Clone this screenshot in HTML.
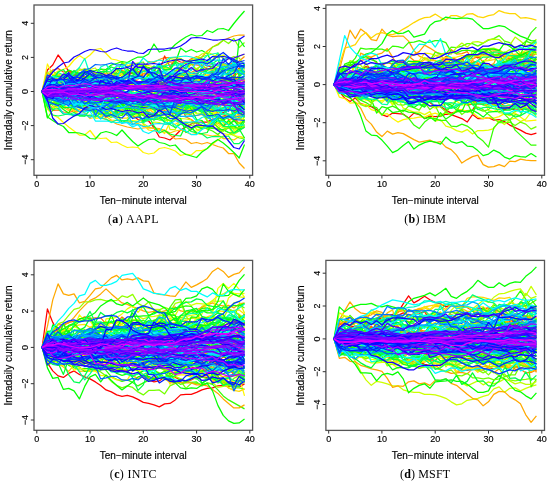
<!DOCTYPE html>
<html><head><meta charset="utf-8"><style>
html,body{margin:0;padding:0;background:#fff;}
svg{display:block;}
.tk{font-family:"Liberation Sans",Arial,sans-serif;font-size:9px;fill:#000;stroke:#000;stroke-width:0.15px;}
.ttl{font-family:"Liberation Sans",Arial,sans-serif;font-size:10px;fill:#000;stroke:#000;stroke-width:0.15px;}
.cap{font-family:"Liberation Serif","Times New Roman",serif;font-size:12px;fill:#000;}
.cv path{fill:none;stroke-width:1.25;stroke-linejoin:round;vector-effect:non-scaling-stroke;}
</style></head><body>
<svg width="550" height="484" viewBox="0 0 550 484">
<rect width="550" height="484" fill="#fff"/>
<g class="cv" transform="translate(36.77 91.50) scale(5.327 0.5)">
<path d="M1 0l1 2 1 3 1-12 1-2 1 8 1 3 1 11 1 0 1 7 1 0 1 1 1-10 1 7 1 2 1 7 1-2 1-12 1 3 1 1 1 3 1-3 1-5 1-3 1-1 1-5 1-1 1 0 1 0 1-4 1 0 1-2 1 2 1-5 1-19 1 0 1 3 1-6 1 9" stroke="#ff1200"/>
<path d="M1 0l1-7 1 19 1 1 1 5 1 3 1 2 1 3 1 11 1-13 1 2 1-5 1-7 1 6 1-9 1 7 1 26 1-5 1-5 1 14 1 4 1 4 1-20 1-7 1-1 1 0 1-13 1 9 1 4 1-5 1 1 1 7 1 5 1 1 1 6 1-9 1 5 1-9 1 4" stroke="#ff0900"/>
<path d="M1 0l1 12 1-1 1-1 1 1 1-5 1 10 1 1 1-11 1 0 1 0 1-5 1-7 1-1 1 2 1 9 1-1 1 3 1 7 1-1 1 1 1-3 1 6 1-7 1 4 1-1 1 0 1 1 1 6 1 2 1 2 1 1 1 3 1 7 1 1 1 1 1 1 1-8 1 0" stroke="#ff2400"/>
<path d="M1 0l1 12 1-11 1 1 1-13 1-7 1-2 1 3 1-4 1-1 1 1 1-6 1-3 1 3 1-4 1-3 1-2 1 0 1-2 1-7 1-15 1 2 1-6 1-4 1 0 1 0 1 2 1 10 1-9 1-5 1 5 1 9 1 2 1 1 1-3 1 3 1-5 1-3 1-9" stroke="#ff9200"/>
<path d="M1 0l1-28 1 2 1 0 1-7 1-2 1 2 1-1 1 11 1 4 1 12 1-1 1-13 1 2 1 0 1-1 1 10 1 0 1 5 1 4 1 9 1-11 1 2 1-5 1-4 1 19 1 1 1-1 1-7 1-4 1 9 1 1 1-7 1-4 1-3 1-6 1-7 1 5 1-6" stroke="#ff1b00"/>
<path d="M1 0l1-43 1-10 1-20 1 14 1 20 1 1 1 5 1 4 1-2 1 10 1 1 1 4 1-3 1 1 1-3 1 1 1-2 1 2 1 12 1-5 1 2 1 5 1-2 1-5 1-1 1-2 1 1 1-3 1 3 1-11 1 5 1 8 1-3 1-12 1 3 1 4 1-4 1 2" stroke="#ff0000"/>
<path d="M1 0l1 14 1-8 1-3 1 4 1-4 1 7 1-1 1-9 1-2 1-4 1 3 1-14 1-3 1-27 1 10 1 4 1-4 1 3 1 3 1 10 1-11 1-8 1-31 1 21 1-14 1 5 1 1 1-7 1 4 1 4 1 6 1 2 1 5 1-1 1-3 1-2 1-2 1 6" stroke="#ff2d00"/>
<path d="M1 0l1-11 1-11 1-3 1 0 1-6 1-2 1 4 1 14 1-6 1 12 1-10 1 4 1-6 1-11 1 12 1 11 1-17 1 1 1-11 1 2 1 6 1-1 1-2 1 8 1-1 1-10 1 13 1 5 1-2 1 3 1-1 1 6 1-3 1 12 1 19 1-8 1-11 1-3" stroke="#ff3f00"/>
<path d="M1 0l1-20 1 3 1-1 1-1 1 4 1-3 1-9 1 11 1 4 1 2 1 4 1-6 1-4 1 14 1-12 1 7 1 0 1-7 1 0 1-7 1 1 1 7 1 1 1 5 1-3 1-2 1 4 1-8 1 0 1-10 1 4 1 7 1-2 1-5 1-3 1 0 1 6 1-4" stroke="#ff9f00"/>
<path d="M1 0l1-3 1-6 1-5 1 4 1-1 1-2 1-12 1-1 1-2 1 4 1 1 1 4 1-6 1-5 1 3 1-8 1-7 1 5 1-3 1-7 1 4 1 7 1 5 1-1 1-3 1 7 1-11 1 5 1-8 1 2 1 9 1 9 1 4 1-10 1 3 1 3 1-10 1-5" stroke="#ffa600"/>
<path d="M1 0l1 23 1 9 1-9 1 1 1-4 1-3 1 5 1-21 1-5 1-1 1 20 1-8 1 1 1-20 1 10 1 4 1 19 1-10 1 13 1-2 1 8 1-24 1-2 1-5 1 43 1-5 1 8 1 0 1-10 1 2 1-2 1 11 1-5 1-25 1 20 1-1 1 14 1-2" stroke="#ffc200"/>
<path d="M1 0l1-4 1 18 1 1 1 6 1-6 1-7 1 1 1 6 1 7 1 6 1-5 1-1 1-5 1 0 1-10 1 0 1-5 1 17 1-3 1-6 1-6 1 6 1 2 1 10 1-8 1 5 1-3 1 1 1 1 1 0 1-5 1-4 1-4 1 5 1-12 1 3 1 2 1 4" stroke="#ff0000"/>
<path d="M1 0l1-5 1-8 1 3 1 3 1 4 1 1 1 1 1 11 1-4 1-1 1-3 1-11 1 1 1-4 1 2 1 3 1-2 1-6 1 4 1 0 1 4 1-3 1-9 1 12 1-1 1-2 1 0 1-1 1 7 1 1 1-2 1 4 1-2 1-12 1-1 1 3 1-4 1 15" stroke="#ff5100"/>
<path d="M1 0l1 1 1-2 1 10 1 3 1 4 1-4 1 1 1 1 1 1 1-4 1 2 1-7 1 0 1-1 1 3 1 3 1-4 1 4 1 0 1 4 1-7 1 1 1-2 1 12 1 8 1 3 1-15 1 10 1-4 1 4 1-4 1-3 1 2 1 2 1 0 1-3 1 0 1 1" stroke="#ffb400"/>
<path d="M1 0l1 12 1 1 1 1 1-1 1 0 1 7 1-4 1 5 1-1 1 3 1-6 1-2 1 7 1-4 1 16 1 14 1-6 1-3 1-1 1-4 1 9 1-1 1-4 1 5 1 1 1-3 1 1 1 5 1 1 1-2 1 0 1 1 1-6 1 3 1 12 1-1 1 8 1-3" stroke="#ff7d00"/>
<path d="M1 0l1-24 1 11 1 4 1 7 1-10 1 1 1-5 1 14 1 14 1 3 1-4 1-7 1 11 1-14 1 2 1-16 1-6 1-11 1 4 1 3 1 16 1 9 1-12 1 5 1-1 1-13 1 4 1 1 1-4 1 8 1 2 1 7 1-22 1 5 1-2 1-13 1-14 1 15" stroke="#ff4800"/>
<path d="M1 0l1 7 1-1 1 4 1 7 1 0 1 6 1 5 1 4 1 0 1 1 1 9 1 1 1 3 1-4 1-1 1 4 1 3 1 8 1 2 1 1 1 13 1 19 1 2 1 4 1-9 1-11 1-6 1-6 1-3 1-1 1 0 1-6 1-1 1-5 1 0 1-6 1 1 1 3" stroke="#ff0000"/>
<path d="M1 0l1-29 1-14 1-3 1 7 1-1 1 0 1-5 1 2 1 0 1 7 1 0 1 3 1 5 1-5 1-10 1 5 1 0 1-2 1 4 1 0 1 1 1 8 1 3 1-10 1-6 1-6 1-2 1-6 1 1 1 1 1 7 1 3 1-3 1 0 1 2 1 4 1 2 1-15" stroke="#ff5a00"/>
<path d="M1 0l1-8 1-5 1 0 1 9 1 2 1 1 1 11 1-12 1 8 1 14 1 15 1 0 1 6 1 8 1-17 1-19 1-15 1 16 1-16 1 2 1 9 1 1 1-17 1-1 1-18 1 21 1-2 1-13 1-4 1 10 1-20 1 25 1 9 1-9 1 20 1 3 1-24 1 4" stroke="#f8ff00"/>
<path d="M1 0l1-21 1 6 1 3 1 4 1 0 1 1 1 5 1-2 1-1 1-7 1-5 1 4 1-5 1 0 1 1 1-4 1 8 1 18 1-5 1 0 1-3 1-2 1-4 1-2 1 1 1 1 1-5 1 4 1 0 1-1 1 12 1-4 1-5 1 16 1 17 1-9 1 0 1 0" stroke="#ff3600"/>
<path d="M1 0l1 18 1-17 1 2 1-1 1 5 1 0 1-2 1 10 1 1 1-5 1 6 1-6 1-7 1 17 1-2 1 10 1-7 1 9 1-2 1 11 1-6 1 1 1 6 1-4 1 3 1-35 1 12 1 12 1 3 1 4 1-20 1 3 1-4 1-11 1-1 1 26 1 10 1 6" stroke="#ffbb00"/>
<path d="M1 0l1 21 1-8 1-3 1-4 1-2 1-10 1 8 1 8 1 1 1-13 1-2 1-11 1 10 1 5 1-2 1-19 1-5 1 6 1 15 1-8 1-2 1-5 1 4 1-16 1-8 1 12 1 2 1-12 1-6 1 3 1-3 1-3 1 3 1-3 1 19 1-2 1-9 1 3" stroke="#ff8b00"/>
<path d="M1 0l1 3 1-2 1-11 1 10 1-2 1 15 1-12 1 8 1-1 1-6 1-4 1 4 1 11 1-3 1 5 1 1 1-5 1-15 1 1 1-3 1-15 1-3 1-3 1-5 1 11 1 3 1-6 1 7 1-6 1-4 1 26 1-7 1 4 1-2 1 11 1 5 1-6 1-8" stroke="#98ff00"/>
<path d="M1 0l1 13 1-1 1 6 1-11 1 3 1 0 1 17 1 8 1 3 1-10 1-6 1 7 1-18 1 1 1 6 1-1 1-4 1-1 1 16 1-14 1 4 1 11 1-2 1-5 1 2 1 7 1 20 1 5 1 8 1 5 1-1 1 1 1-6 1 6 1-6 1-3 1-9 1 10" stroke="#ff7500"/>
<path d="M1 0l1 25 1 13 1-1 1 4 1 1 1-3 1 1 1-2 1 0 1 5 1 2 1 7 1-11 1-1 1-8 1 2 1-7 1 5 1 3 1-8 1 4 1-3 1 1 1 1 1 15 1-28 1-8 1 4 1 0 1 0 1 12 1-3 1 5 1-4 1 7 1 13 1 2 1-6" stroke="#ff6c00"/>
<path d="M1 0l1 11 1-3 1 7 1 1 1 8 1-1 1 1 1 1 1 10 1-2 1-2 1 2 1 4 1-6 1 5 1-4 1 5 1-1 1-6 1 5 1-3 1-4 1-1 1-4 1 2 1 4 1 5 1 5 1-4 1 4 1-1 1 3 1-12 1-5 1 3 1-11 1 1 1-1" stroke="#ff6300"/>
<path d="M1 0l1-14 1 4 1-1 1-6 1 9 1 10 1-2 1 7 1 3 1 5 1-19 1 8 1-1 1 9 1-5 1-1 1 13 1 0 1 4 1 0 1 5 1-1 1 5 1 10 1 1 1-5 1-8 1-6 1 5 1-3 1 6 1-4 1 7 1-1 1-2 1 6 1 37 1-3" stroke="#ff8400"/>
<path d="M1 0l1-37 1 4 1-2 1 4 1 5 1 31 1 2 1-3 1 7 1-6 1 14 1-2 1 5 1 2 1 8 1 0 1 7 1-1 1 3 1-13 1 0 1-9 1 2 1-1 1-3 1 4 1 12 1-5 1 6 1 2 1-7 1-13 1 1 1 7 1-15 1 10 1-17 1 19" stroke="#ffcf00"/>
<path d="M1 0l1 11 1 1 1 6 1 2 1-1 1-2 1 7 1-1 1 3 1-3 1-5 1 4 1-3 1 2 1 0 1 5 1 3 1-1 1-4 1 2 1 3 1 3 1 0 1 2 1 5 1-13 1-3 1 5 1-3 1-1 1-2 1 3 1 3 1 0 1 1 1-3 1-2 1 0" stroke="#ff9900"/>
<path d="M1 0l1 15 1 2 1 1 1 10 1 7 1 4 1 9 1-2 1 3 1 0 1 3 1 4 1 3 1 6 1 3 1 3 1 2 1 2 1-2 1-1 1 1 1 1 1 4 1 9 1 8 1-1 1 2 1 8 1-2 1 3 1-3 1 4 1 4 1 3 1 11 1 0 1 19 1 11" stroke="#ffa800"/>
<path d="M1 0l1 16 1-4 1 0 1-5 1 10 1-9 1 0 1-3 1 7 1 4 1 1 1 4 1 11 1 7 1-2 1 4 1-2 1-5 1-7 1 7 1 8 1 0 1-1 1 4 1-7 1 1 1-5 1 7 1-7 1-4 1 17 1-1 1-7 1 24 1 0 1 11 1-12 1-7" stroke="#fff900"/>
<path d="M1 0l1 11 1-3 1 22 1 1 1 0 1 4 1-3 1-1 1-10 1 6 1 8 1-10 1 7 1-2 1 0 1 7 1 12 1-1 1-5 1 2 1 6 1-2 1-6 1 33 1 0 1-22 1 1 1 2 1 19 1-1 1-9 1-8 1 16 1 10 1 2 1 0 1-7 1-32" stroke="#d5ff00"/>
<path d="M1 0l1 24 1-1 1 1 1 8 1 6 1-3 1 1 1 7 1 11 1-3 1-1 1 0 1 7 1 1 1 0 1 2 1 3 1 1 1 5 1 4 1 1 1 3 1 0 1 6 1-4 1-2 1 4 1 5 1-2 1 2 1 1 1 2 1-2 1 7 1 0 1 3 1-7 1 3" stroke="#ffc900"/>
<path d="M1 0l1-25 1-2 1 1 1-3 1 3 1 2 1-5 1 5 1-2 1-1 1 3 1 0 1 5 1-16 1 5 1 1 1-2 1 0 1-5 1 3 1 4 1 12 1 4 1-13 1 3 1 6 1 7 1-1 1-6 1-13 1-1 1-8 1-5 1-10 1 9 1 2 1 2 1-2" stroke="#ffad00"/>
<path d="M1 0l1-7 1 1 1-4 1 3 1-4 1 1 1-10 1 21 1 1 1-6 1 3 1-20 1-5 1-10 1-2 1-12 1-7 1 1 1 13 1 16 1 16 1-17 1 6 1 12 1 0 1-7 1 5 1 1 1-7 1 2 1-14 1 21 1-3 1-13 1 5 1 1 1-5 1 2" stroke="#ffdd00"/>
<path d="M1 0l1-19 1-1 1 3 1 0 1 10 1 7 1 3 1 8 1-6 1 2 1 5 1 6 1-1 1-9 1 8 1 7 1-1 1 9 1 0 1-11 1-7 1 2 1 2 1 1 1-3 1-4 1-1 1 0 1 8 1 2 1 11 1 1 1 4 1 10 1-1 1 0 1 5 1 9" stroke="#eaff00"/>
<path d="M1 0l1 0 1-5 1-7 1 0 1-6 1-2 1-6 1-3 1-3 1 2 1-3 1-4 1 0 1 1 1-2 1-2 1-4 1 5 1-2 1-7 1 3 1-5 1-3 1-6 1 0 1 4 1-2 1-7 1-1 1-4 1-12 1-8 1-6 1-7 1-5 1-4 1-2 1 0" stroke="#ffa800"/>
<path d="M1 0l1 10 1-5 1 3 1 8 1-6 1 33 1-3 1-6 1 3 1 3 1 4 1 3 1 2 1 3 1 1 1 0 1-11 1 4 1 20 1 11 1 2 1-3 1 8 1-23 1 5 1-8 1 9 1 8 1-6 1 2 1 4 1-1 1-1 1-8 1-4 1-11 1 4 1 7" stroke="#ffe400"/>
<path d="M1 0l1 7 1 5 1-1 1-4 1 1 1-3 1 5 1-1 1 0 1 5 1-16 1 2 1 5 1 8 1-3 1 4 1-42 1 14 1-9 1 9 1 10 1-5 1-4 1-3 1 1 1-4 1 2 1-10 1 14 1-4 1-1 1-4 1 6 1 17 1-11 1 18 1-8 1 4" stroke="#ffd600"/>
<path d="M1 0l1 7 1 11 1 17 1-18 1-9 1 11 1-19 1 24 1-2 1 9 1-6 1-4 1 16 1-19 1 21 1 5 1-15 1 21 1-33 1 0 1 0 1-6 1 7 1 9 1 0 1 7 1-15 1 10 1-1 1 9 1 10 1-6 1 5 1 16 1-1 1 17 1-5 1-6" stroke="#dcff00"/>
<path d="M1 0l1-55 1 22 1-8 1-3 1-6 1-13 1-9 1 7 1-8 1-11 1-2 1 10 1 11 1 2 1 4 1 6 1 6 1-5 1 1 1-1 1 3 1 2 1 0 1 0 1 6 1-1 1 3 1 2 1 0 1-9 1 4 1-3 1 7 1-1 1-6 1 0 1 1 1-3" stroke="#fff500"/>
<path d="M1 0l1 11 1 6 1-1 1 8 1-1 1 12 1 5 1 0 1-2 1 0 1 0 1-2 1 4 1 5 1-1 1 3 1-1 1-11 1 5 1 6 1 11 1-6 1 1 1 7 1-4 1 7 1-1 1 2 1-1 1 5 1 8 1 4 1 7 1-10 1-6 1 0 1 4 1-2" stroke="#45ff00"/>
<path d="M1 0l1-1 1 1 1 6 1-8 1-14 1 7 1 1 1-7 1-2 1 10 1-4 1-6 1 6 1-10 1-8 1-12 1-2 1-4 1-3 1 2 1 7 1-14 1 13 1-2 1-13 1-30 1 8 1-5 1 5 1-3 1 6 1 21 1 23 1-14 1 24 1 1 1 1 1 6" stroke="#08ff00"/>
<path d="M1 0l1-15 1 16 1-26 1-8 1-2 1-4 1 5 1-6 1-5 1 15 1 4 1 12 1 4 1-10 1-9 1-16 1 9 1-13 1-3 1 8 1 30 1-7 1 9 1 3 1 3 1 5 1 20 1-6 1-5 1-11 1 0 1-12 1 6 1 6 1 12 1-26 1 10 1-1" stroke="#23ff00"/>
<path d="M1 0l1 9 1-13 1-2 1-4 1 4 1 7 1 12 1-2 1-4 1 4 1-2 1 0 1-2 1-3 1 1 1-1 1 2 1 3 1-22 1-8 1 6 1-9 1-5 1 13 1 19 1-1 1-15 1 1 1 4 1-2 1 4 1 8 1-8 1-1 1-1 1-9 1 7 1-1" stroke="#acff00"/>
<path d="M1 0l1 35 1 12 1 5 1 10 1 9 1 8 1 8 1 0 1-9 1 14 1 2 1-1 1 9 1-1 1 6 1 5 1-1 1 1 1 10 1 3 1-2 1-9 1-2 1 3 1 4 1 9 1-3 1 2 1-9 1 0 1-4 1-9 1-8 1-8 1-3 1-5 1-5 1-9" stroke="#fff500"/>
<path d="M1 0l1 3 1 0 1 23 1 10 1 7 1-19 1 6 1-2 1 4 1 8 1 6 1-1 1-9 1-7 1-16 1-2 1-1 1-8 1-13 1-5 1-1 1-4 1 25 1-22 1 2 1-1 1 8 1-5 1 8 1-5 1 5 1-2 1-12 1-2 1-1 1 11 1-15 1-3" stroke="#0fff00"/>
<path d="M1 0l1-12 1 1 1-5 1 1 1-1 1 4 1 8 1 1 1 3 1 0 1 0 1-7 1 3 1-4 1 2 1-1 1 1 1-2 1-1 1-9 1-3 1 5 1 5 1-11 1-5 1-2 1-6 1 1 1 1 1 0 1 2 1 8 1 10 1 9 1-4 1 1 1-5 1 6" stroke="#fff200"/>
<path d="M1 0l1-10 1-3 1 3 1 1 1 15 1-11 1-16 1-4 1 5 1-4 1 0 1 5 1-5 1 3 1 9 1-4 1 13 1-5 1-11 1-10 1 0 1-3 1-1 1-5 1 2 1 9 1 21 1 10 1-8 1-2 1 30 1-14 1 0 1-5 1-8 1 6 1-9 1 7" stroke="#b3ff00"/>
<path d="M1 0l1 5 1-9 1 5 1-1 1 6 1 1 1 1 1 0 1 1 1 14 1 5 1-3 1 17 1 9 1-4 1-4 1 3 1-4 1 22 1 7 1-10 1 1 1 4 1-1 1-9 1 3 1 6 1 15 1-1 1-3 1-7 1-5 1-3 1 8 1 5 1-1 1 1 1-9" stroke="#c8ff00"/>
<path d="M1 0l1-15 1-17 1 0 1 3 1 1 1 0 1 8 1 6 1 3 1 7 1-11 1 0 1 6 1 2 1 6 1 4 1 6 1-2 1 5 1 1 1 23 1-4 1 1 1 4 1 17 1-19 1-12 1-2 1-5 1 3 1-5 1 13 1-7 1-4 1-4 1 9 1-1 1-3" stroke="#61ff00"/>
<path d="M1 0l1 9 1-8 1 4 1 7 1 4 1 5 1 2 1-7 1 9 1-2 1 9 1 15 1 5 1-7 1 3 1-20 1 18 1-3 1 5 1 6 1-5 1-3 1-6 1 8 1-1 1-10 1-2 1 2 1-1 1 6 1-11 1-11 1 3 1-4 1-2 1-1 1 7 1 10" stroke="#15ff00"/>
<path d="M1 0l1-12 1 12 1 13 1 2 1-26 1-2 1-6 1 1 1-3 1 3 1-2 1 0 1 13 1 7 1-13 1 4 1 11 1 0 1 3 1-9 1 9 1 7 1-20 1-5 1-16 1 2 1 2 1 6 1 1 1 27 1-3 1 20 1 2 1-15 1 25 1-19 1-9 1 9" stroke="#ffeb00"/>
<path d="M1 0l1-17 1 22 1-7 1 6 1 18 1-16 1-2 1-11 1 2 1 1 1-29 1 7 1-5 1-13 1 11 1 7 1 5 1 11 1-3 1 13 1-2 1 5 1-11 1 1 1 9 1 20 1-24 1 13 1-16 1 7 1 9 1-7 1 10 1-2 1 10 1 8 1 13 1-4" stroke="#e3ff00"/>
<path d="M1 0l1 16 1-2 1 3 1-5 1 2 1-3 1 3 1-2 1 4 1 10 1 1 1-4 1-8 1-4 1 5 1-2 1-4 1 5 1-13 1 12 1-3 1 5 1-1 1 3 1 4 1-6 1 4 1-2 1 0 1 5 1 0 1-6 1 2 1 4 1-6 1 0 1-4 1 14" stroke="#5aff00"/>
<path d="M1 0l1 30 1 6 1-12 1 5 1-8 1-2 1 4 1 4 1-8 1 5 1-2 1-1 1-6 1 1 1 7 1 4 1-2 1-2 1-3 1 1 1 0 1 2 1 3 1-4 1 4 1 2 1 2 1 7 1-4 1 5 1 15 1-5 1-1 1 4 1-3 1 11 1 4 1 7" stroke="#68ff00"/>
<path d="M1 0l1 3 1-4 1 2 1 1 1 9 1 5 1 1 1-2 1 4 1-7 1 4 1 4 1 6 1 15 1-2 1 4 1 9 1-2 1-5 1 12 1-3 1 3 1 0 1 0 1 16 1-9 1-1 1 5 1 3 1 1 1 1 1-1 1 4 1 1 1 5 1 6 1 5 1 2" stroke="#75ff00"/>
<path d="M1 0l1 21 1 6 1-3 1-3 1-7 1 0 1-22 1-8 1 6 1-20 1-4 1 14 1-13 1 16 1-4 1 5 1-5 1 10 1-14 1 0 1-2 1-20 1 0 1-19 1 3 1-3 1 7 1 3 1 13 1-12 1-5 1-3 1-14 1 11 1 1 1-5 1 3 1 15" stroke="#8aff00"/>
<path d="M1 0l1 53 1-16 1-9 1-5 1-4 1 2 1-4 1-2 1 0 1 2 1 3 1 2 1 0 1 4 1 5 1 3 1-2 1-3 1 2 1-1 1 7 1-1 1-3 1-8 1 8 1-3 1 3 1-4 1 3 1 0 1-1 1 0 1 4 1 3 1-3 1 1 1 8 1-3" stroke="#33ff00"/>
<path d="M1 0l1 31 1-9 1 3 1-6 1-1 1 16 1-16 1 4 1 0 1 1 1-6 1 3 1 2 1-8 1 4 1-6 1 2 1 8 1-9 1 3 1 0 1 20 1-1 1-4 1 9 1 5 1-3 1-6 1-3 1 3 1 3 1 6 1 7 1 4 1 11 1-9 1 12 1-14" stroke="#00ff0d"/>
<path d="M1 0l1-6 1 8 1-3 1-10 1 8 1 0 1 9 1 9 1-10 1 2 1 3 1 6 1-3 1-8 1-2 1 0 1 11 1-1 1-9 1 6 1-3 1-3 1 5 1-9 1-13 1 14 1 32 1-1 1 5 1 1 1-10 1 3 1-8 1-3 1 6 1 24 1-16 1 0" stroke="#00ff44"/>
<path d="M1 0l1 15 1 12 1-13 1 14 1-9 1 4 1-11 1 2 1 7 1-8 1 13 1 7 1 0 1-20 1 3 1 3 1 7 1 0 1 10 1 6 1 5 1-34 1 5 1-3 1 6 1-11 1 1 1 11 1 2 1 9 1 26 1 3 1 9 1 8 1-6 1-3 1 6 1-5" stroke="#53ff00"/>
<path d="M1 0l1 8 1-8 1-9 1 9 1-10 1 6 1 2 1 4 1-4 1-2 1 1 1-4 1 1 1-11 1 7 1 5 1 3 1-9 1-6 1-6 1-26 1-1 1 2 1 2 1 5 1-9 1-9 1-4 1-1 1-5 1-4 1-16 1-4 1-10 1 7 1-10 1 18 1-10" stroke="#7cff00"/>
<path d="M1 0l1-38 1-3 1 8 1 6 1-5 1-4 1-6 1-4 1 8 1 1 1-3 1 11 1 17 1 6 1-8 1 8 1-4 1-2 1-6 1 5 1 1 1-8 1 7 1-13 1 4 1-1 1-4 1-18 1-1 1-5 1 4 1 4 1-7 1-5 1 6 1 7 1-11 1 9" stroke="#a5ff00"/>
<path d="M1 0l1 6 1 2 1 3 1-6 1-3 1-4 1-8 1-12 1 42 1-9 1 12 1 19 1-14 1 6 1-10 1 0 1-5 1-9 1 3 1 6 1-9 1 15 1 1 1-5 1-2 1-14 1 5 1-9 1-2 1-1 1 6 1-17 1-8 1 15 1 20 1-11 1 39 1 7" stroke="#38ff00"/>
<path d="M1 0l1 12 1-8 1-2 1 5 1-17 1 5 1 1 1 1 1 2 1 0 1 4 1-2 1 8 1 3 1 7 1 1 1-1 1-1 1 0 1-6 1 4 1 1 1-7 1-3 1 1 1 4 1-1 1 8 1 7 1 8 1 2 1-1 1 0 1-3 1-1 1 5 1 3 1-7" stroke="#83ff00"/>
<path d="M1 0l1 10 1 1 1 6 1 4 1-1 1 0 1-1 1 2 1-2 1-6 1-3 1-5 1 3 1 5 1-6 1 4 1 3 1-6 1 2 1 0 1-7 1-6 1-3 1 3 1 6 1-4 1-4 1 2 1 4 1-7 1-1 1-10 1-8 1-1 1-5 1 10 1 6 1-6" stroke="#c1ff00"/>
<path d="M1 0l1 14 1-12 1-3 1 6 1 0 1-1 1-7 1 13 1 20 1 24 1-1 1-22 1 20 1 1 1 10 1-1 1-3 1 1 1-5 1-4 1 5 1-4 1-4 1 3 1 5 1-8 1-8 1-5 1 11 1 1 1 4 1-11 1 28 1 6 1-2 1 17 1 2 1 2" stroke="#f1ff00"/>
<path d="M1 0l1 13 1-4 1 1 1-6 1-2 1 5 1-1 1-3 1-2 1-5 1 5 1 4 1-10 1 9 1 7 1 2 1-1 1-4 1 3 1 7 1 4 1 3 1-2 1 5 1 7 1 0 1-7 1 4 1 2 1 4 1 1 1-1 1 2 1-7 1-6 1-6 1-3 1 3" stroke="#2aff00"/>
<path d="M1 0l1-2 1 9 1-5 1 2 1 8 1-11 1-16 1 2 1-3 1 2 1-8 1 5 1-8 1-2 1 3 1-4 1 4 1-7 1 1 1 9 1 2 1 0 1-25 1 0 1-15 1 23 1 7 1-1 1-2 1 4 1 6 1 3 1 0 1-14 1-3 1 9 1-2 1-12" stroke="#00ff2f"/>
<path d="M1 0l1-23 1-1 1 4 1 0 1-9 1-9 1-7 1 8 1-7 1-3 1 16 1 2 1-8 1 4 1-2 1 17 1 0 1 1 1 5 1 3 1-8 1-2 1 5 1 2 1-16 1 4 1-4 1-34 1-5 1-8 1-4 1 5 1 7 1-6 1 7 1 4 1-9 1-3" stroke="#cfff00"/>
<path d="M1 0l1-1 1 2 1 11 1-18 1 0 1 17 1-3 1 2 1-1 1 15 1 0 1-7 1-4 1-3 1-2 1 4 1-6 1 9 1-1 1-1 1-2 1 4 1 1 1-5 1-1 1 15 1 1 1-3 1-3 1-3 1 0 1 0 1-3 1-4 1 11 1 9 1-29 1 14" stroke="#4cff00"/>
<path d="M1 0l1-18 1 3 1-6 1 25 1 1 1-4 1 0 1 11 1-9 1 3 1 21 1 5 1-5 1 12 1-9 1-7 1-14 1 1 1-1 1-2 1 0 1-3 1-2 1 18 1 9 1 5 1 5 1-5 1-26 1 4 1-4 1-1 1 3 1-14 1-10 1 8 1 9 1 5" stroke="#baff00"/>
<path d="M1 0l1 19 1 4 1-10 1 8 1-5 1-9 1-26 1-10 1 3 1-8 1-11 1 5 1 15 1-13 1-20 1 10 1-6 1-3 1-2 1 17 1 10 1-10 1 15 1-2 1-2 1-5 1 1 1 4 1 3 1 0 1 0 1-3 1 14 1 4 1-14 1-24 1 1 1 16" stroke="#6fff00"/>
<path d="M1 0l1-20 1-9 1-1 1 0 1 4 1-7 1-4 1 0 1 11 1-2 1-2 1 11 1 5 1 9 1 2 1-8 1 8 1-8 1-11 1 3 1 18 1 0 1-3 1-5 1-10 1 10 1 2 1 1 1-6 1-13 1 0 1 0 1 37 1 12 1-19 1-1 1-1 1 2" stroke="#00ff28"/>
<path d="M1 0l1-17 1 7 1-8 1-1 1 1 1 4 1 4 1 0 1-1 1-3 1 0 1-1 1 0 1-4 1-3 1 8 1-1 1 2 1-8 1-2 1-2 1 19 1-10 1 3 1 3 1 11 1 4 1 0 1-10 1 4 1-4 1-6 1 2 1 3 1-1 1-8 1-1 1-3" stroke="#9fff00"/>
<path d="M1 0l1 35 1-1 1-4 1-9 1-2 1-14 1 7 1-2 1-10 1-8 1 2 1 4 1 11 1-7 1 3 1 9 1 4 1-14 1-21 1 7 1 6 1-6 1-4 1-2 1-1 1 4 1-4 1-5 1-1 1 5 1-6 1-12 1 16 1 10 1-3 1-5 1 16 1-10" stroke="#ffff00"/>
<path d="M1 0l1 10 1 2 1 0 1 1 1-14 1-6 1 24 1 6 1-2 1-10 1 11 1 2 1 5 1 0 1-2 1 9 1-5 1 4 1-34 1 10 1 5 1-2 1 11 1 5 1-1 1 2 1-10 1 15 1 20 1 2 1 14 1-5 1-9 1-1 1-5 1-9 1-3 1 12" stroke="#00ff06"/>
<path d="M1 0l1 13 1-5 1-19 1 13 1-13 1-4 1 27 1-4 1-3 1-12 1 8 1 2 1 2 1 17 1 8 1 3 1 0 1-19 1 2 1 4 1-16 1-2 1 0 1 9 1 1 1-14 1 11 1-12 1 3 1 5 1 4 1-30 1-1 1 4 1-16 1 23 1-15 1 1" stroke="#01ff00"/>
<path d="M1 0l1-13 1-4 1-5 1-11 1-10 1 4 1 2 1-1 1-2 1-2 1-3 1 1 1-9 1-3 1-4 1 2 1-6 1-5 1 0 1-6 1-20 1 16 1-3 1-1 1-11 1-8 1-7 1-5 1 3 1-1 1-10 1 4 1-7 1-1 1 4 1-14 1-13 1-12" stroke="#05ff00"/>
<path d="M1 0l1 25 1 11 1-2 1 11 1 1 1-4 1 7 1 0 1-12 1 5 1-4 1 1 1 9 1-10 1 5 1-2 1 2 1 1 1 18 1-9 1 4 1-3 1 6 1 6 1 6 1-7 1 5 1 10 1 3 1 2 1 8 1-3 1 0 1 1 1-2 1 15 1 0 1-9" stroke="#00ff5f"/>
<path d="M1 0l1 7 1-1 1 15 1 11 1 0 1 0 1-23 1 18 1-3 1-5 1-1 1-2 1 12 1 13 1-14 1 18 1 2 1-4 1 16 1-10 1 20 1 14 1-5 1 7 1 3 1 1 1-22 1 5 1 11 1 1 1-2 1-23 1-2 1 12 1-11 1 10 1 9 1-17" stroke="#00ff21"/>
<path d="M1 0l1-4 1 17 1-3 1-4 1-12 1-12 1 0 1 18 1 3 1-5 1 13 1-5 1 7 1-7 1 1 1-5 1-8 1-8 1 1 1 4 1 1 1-2 1-11 1 0 1-1 1 12 1-2 1 4 1 13 1 3 1-6 1-2 1 2 1-2 1 6 1-19 1 19 1 3" stroke="#3fff00"/>
<path d="M1 0l1 9 1 6 1-6 1 7 1-1 1 1 1 6 1-3 1-18 1 6 1-1 1 2 1-7 1 16 1 2 1 10 1 8 1 2 1-4 1 10 1 1 1 3 1 6 1-7 1 4 1 2 1 28 1-6 1-7 1 6 1-4 1 3 1 1 1 1 1 6 1 1 1-8 1 18" stroke="#00ff1b"/>
<path d="M1 0l1 8 1 6 1 9 1-2 1-15 1-2 1 9 1 0 1-5 1-3 1 5 1 11 1-8 1 3 1 3 1 2 1 0 1-6 1-1 1-1 1 10 1-5 1-6 1 4 1 5 1-1 1 1 1-3 1-6 1 2 1 4 1-1 1-7 1 13 1-6 1-6 1-8 1-2" stroke="#00ff77"/>
<path d="M1 0l1-3 1 10 1 0 1 2 1 1 1 8 1 11 1-7 1 0 1-4 1 3 1 2 1-5 1-2 1 3 1 3 1-7 1-2 1-2 1 3 1 1 1 2 1 4 1-4 1 6 1-2 1 10 1-5 1 5 1-5 1 1 1 6 1 2 1-2 1-2 1-10 1-2 1 4" stroke="#00ff66"/>
<path d="M1 0l1 1 1-4 1 1 1-1 1-1 1 3 1 5 1 2 1 0 1 6 1-8 1-5 1-3 1 2 1-2 1 15 1-2 1 2 1 0 1 9 1 10 1-5 1-6 1 2 1-4 1 3 1-1 1 5 1 3 1-1 1-8 1-1 1 15 1 2 1-4 1 14 1-1 1-7" stroke="#00ffaa"/>
<path d="M1 0l1-6 1 15 1-22 1 1 1-8 1-2 1 10 1 9 1-5 1-6 1 9 1-5 1 4 1 12 1 4 1-10 1-2 1-10 1-11 1-10 1 3 1 4 1 21 1 0 1-11 1 20 1 1 1-2 1 8 1 0 1 1 1 6 1 4 1-6 1-6 1-13 1 23 1 2" stroke="#1cff00"/>
<path d="M1 0l1 7 1 3 1 12 1-10 1 5 1-7 1 0 1-3 1-10 1 11 1-12 1 1 1 5 1-2 1-8 1 25 1-3 1-4 1-1 1 11 1 3 1-20 1-30 1 17 1 15 1 7 1 5 1-5 1-23 1 5 1 8 1 11 1 1 1-36 1 6 1-3 1 22 1-18" stroke="#31ff00"/>
<path d="M1 0l1 10 1-9 1 4 1 4 1-12 1 21 1 9 1 1 1-9 1 24 1-5 1-25 1-6 1-14 1 31 1 10 1-3 1 12 1-17 1 1 1-11 1 0 1-10 1-7 1 2 1-8 1 14 1-1 1-13 1 10 1 2 1 15 1-11 1-15 1 1 1-2 1-98 1 16" stroke="#00ff14"/>
<path d="M1 0l1-14 1 31 1-5 1 6 1 3 1 4 1-10 1 9 1 10 1 8 1 5 1-8 1-8 1-4 1 7 1-3 1-12 1-6 1-16 1 9 1 6 1-1 1 4 1 7 1 0 1-11 1 5 1 17 1 10 1 1 1 14 1 11 1 9 1 1 1-8 1 4 1-3 1-1" stroke="#91ff00"/>
<path d="M1 0l1 1 1-2 1 9 1 0 1-35 1-10 1-11 1-18 1 32 1 8 1-23 1-5 1 13 1-10 1 0 1 13 1-3 1 11 1 7 1-3 1-21 1-5 1 1 1-2 1 0 1-1 1-5 1 3 1-4 1-2 1-10 1-3 1-2 1 44 1-3 1-14 1-1 1-2" stroke="#00ffc3"/>
<path d="M1 0l1 13 1-2 1 5 1-9 1-4 1-4 1 3 1 0 1 8 1 3 1-9 1 5 1-2 1 3 1-7 1 3 1 0 1 0 1 6 1 1 1-1 1 4 1-5 1 3 1 0 1 2 1 0 1-4 1 8 1 3 1-1 1 1 1-4 1-4 1-5 1 1 1 1 1 4" stroke="#00ff6e"/>
<path d="M1 0l1 7 1-11 1 4 1 3 1 1 1 9 1-7 1 5 1 1 1 9 1 15 1-3 1-6 1-11 1-4 1 16 1-2 1-3 1 3 1 0 1-1 1 4 1-9 1-6 1 5 1-21 1 6 1 11 1 0 1-2 1 6 1-8 1 4 1-4 1-8 1-2 1 2 1-7" stroke="#00ff36"/>
<path d="M1 0l1-4 1-13 1-6 1 8 1-7 1-6 1-8 1-8 1-2 1-8 1 1 1-1 1-3 1 4 1-1 1 5 1-3 1 4 1-1 1 10 1 2 1-6 1 6 1 5 1-5 1-6 1 1 1 6 1 1 1-8 1 6 1 0 1 1 1-8 1 1 1 0 1 2 1 1" stroke="#0067ff"/>
<path d="M1 0l1 29 1-13 1 6 1 7 1-6 1 4 1 6 1 2 1 0 1 11 1 8 1 1 1 7 1-5 1 1 1 0 1 2 1 1 1 1 1-5 1-2 1-6 1-3 1-3 1-5 1 2 1 5 1-2 1-5 1-8 1 2 1 1 1 0 1 5 1 8 1 0 1-5 1 1" stroke="#00ff7f"/>
<path d="M1 0l1 51 1 7 1 7 1 5 1 12 1 0 1 1 1 3 1 8 1 1 1-12 1-3 1 3 1 5 1-11 1 12 1 11 1 9 1-7 1-6 1-1 1 7 1 2 1 5 1-2 1 12 1 7 1 3 1 3 1-11 1-7 1-11 1-7 1 7 1 9 1 10 1 11 1-27" stroke="#05ff00"/>
<path d="M1 0l1 6 1-6 1 5 1 4 1 7 1-15 1 4 1-7 1 1 1 0 1 11 1-6 1 4 1-3 1 5 1 12 1 10 1-14 1 3 1-15 1 3 1-2 1-1 1 4 1-6 1-3 1 3 1 4 1-15 1 13 1 0 1 4 1 3 1 11 1-2 1-11 1 4 1-2" stroke="#00ffcb"/>
<path d="M1 0l1 23 1 2 1 4 1 15 1 2 1 0 1-1 1 0 1 7 1-8 1 11 1-11 1 4 1 7 1 9 1-3 1 6 1-1 1 4 1-1 1-4 1-1 1 1 1 0 1-7 1 5 1-1 1-1 1-1 1 3 1 5 1 0 1-18 1 2 1 1 1-6 1-7 1-12" stroke="#00d6ff"/>
<path d="M1 0l1 1 1 0 1 3 1 6 1-5 1-11 1-1 1 3 1 4 1-3 1-4 1-2 1-1 1 4 1 11 1-5 1 2 1 11 1-5 1 5 1 7 1 3 1-2 1 2 1-4 1 6 1-5 1 8 1 2 1 0 1 0 1-3 1 9 1-13 1-8 1 3 1 4 1 4" stroke="#00efff"/>
<path d="M1 0l1-8 1 0 1 2 1 5 1 8 1 3 1-7 1-3 1-8 1 2 1-7 1 4 1 4 1 10 1 5 1 0 1-8 1 2 1 3 1 4 1 2 1-10 1 5 1 11 1-4 1-14 1 11 1 9 1-4 1 24 1-13 1-1 1 13 1-2 1-13 1 9 1-10 1-8" stroke="#00ffba"/>
<path d="M1 0l1-16 1-1 1-1 1-4 1 0 1-1 1 0 1-14 1 7 1 2 1-12 1 0 1 1 1 4 1-4 1 7 1 0 1-6 1 17 1 3 1-5 1-8 1 2 1 8 1-3 1-1 1 2 1-2 1 0 1-13 1-4 1-9 1 9 1 3 1-4 1 1 1-1 1 5" stroke="#00ff51"/>
<path d="M1 0l1 1 1-2 1 7 1-1 1-8 1 3 1-4 1 12 1-4 1-12 1 0 1 7 1-3 1-2 1 12 1-4 1-7 1 4 1 6 1-6 1-39 1 1 1 1 1 3 1-2 1 2 1-15 1-9 1 4 1-1 1 5 1-3 1 2 1-6 1 5 1-1 1-2 1-2" stroke="#00c5ff"/>
<path d="M1 0l1 6 1 0 1-3 1 0 1 3 1 6 1 1 1-6 1 8 1-3 1 0 1 6 1-2 1 2 1-7 1-5 1 2 1-4 1 0 1-2 1 7 1 6 1-21 1 11 1 2 1 1 1-10 1 1 1-4 1 0 1 9 1-10 1 6 1-3 1-10 1 5 1-5 1-2" stroke="#00a7ff"/>
<path d="M1 0l1-19 1-1 1-18 1 5 1-1 1 9 1 11 1-5 1 1 1 5 1 4 1 7 1-1 1 8 1 17 1-5 1 5 1 7 1-4 1-10 1 2 1-2 1-9 1 7 1-10 1-1 1 3 1-2 1 11 1 12 1 7 1 18 1-3 1-3 1-8 1-2 1-2 1-4" stroke="#00ff90"/>
<path d="M1 0l1-20 1-4 1-15 1-5 1 16 1-14 1 11 1-8 1 17 1-8 1-4 1-7 1-8 1 4 1 5 1 2 1 11 1-3 1 0 1 8 1 2 1-29 1 30 1-2 1-9 1 9 1 1 1 5 1-16 1-18 1 11 1-2 1 21 1 11 1-35 1-16 1 28 1-24" stroke="#00ff3d"/>
<path d="M1 0l1-9 1 8 1-6 1 7 1 4 1-3 1-27 1-2 1 0 1 9 1-11 1 3 1 1 1 0 1 1 1-4 1-3 1-12 1 4 1-3 1-8 1 4 1-4 1 5 1-14 1 7 1 8 1-16 1-1 1 1 1 2 1 3 1-7 1 20 1-11 1 3 1 14 1-4" stroke="#00ff4b"/>
<path d="M1 0l1 20 1 4 1 4 1-5 1-10 1 2 1-2 1 5 1-3 1 3 1-5 1 0 1 9 1 4 1-3 1 2 1 5 1 1 1 1 1 1 1-1 1 8 1-7 1-1 1-7 1-2 1-12 1 7 1-2 1 4 1 0 1-7 1 5 1 7 1-7 1 5 1 21 1 3" stroke="#0041ff"/>
<path d="M1 0l1-13 1-6 1 7 1-1 1 8 1-2 1-13 1 4 1 6 1-8 1-3 1 15 1-2 1 1 1-11 1-5 1 3 1-10 1-18 1 11 1-8 1-12 1 20 1 2 1-10 1-11 1 6 1 8 1-18 1 12 1-15 1 0 1 0 1 1 1-7 1 16 1 0 1 7" stroke="#00deff"/>
<path d="M1 0l1 10 1-3 1 2 1 5 1-11 1 1 1 13 1 1 1-7 1-2 1-1 1 6 1-6 1-2 1-6 1 3 1-1 1 0 1-3 1-1 1-9 1 10 1 1 1 2 1-7 1 10 1 10 1 4 1 2 1 8 1-2 1 7 1 5 1 6 1 0 1 8 1 2 1-7" stroke="#00ffb2"/>
<path d="M1 0l1-1 1-1 1-4 1-1 1-1 1 0 1-1 1 8 1-5 1 0 1-4 1-2 1 8 1-3 1 1 1-10 1-1 1 1 1-2 1 1 1 0 1-3 1-4 1 6 1-3 1 0 1 2 1-1 1-1 1 2 1 1 1 4 1 1 1-4 1-1 1 0 1 3 1 4" stroke="#005bff"/>
<path d="M1 0l1 6 1-1 1 0 1 5 1-6 1 0 1 13 1-2 1 2 1 6 1 0 1-6 1 1 1 2 1 10 1 15 1-3 1-3 1-2 1-4 1-4 1 1 1-7 1 5 1-6 1-15 1-2 1 10 1 4 1-4 1 0 1 1 1-6 1 2 1-13 1 10 1-11 1-7" stroke="#00ffd4"/>
<path d="M1 0l1-10 1-1 1-5 1 5 1-12 1 5 1 15 1-13 1-4 1 0 1 11 1 4 1-2 1-25 1 7 1-4 1-1 1-3 1-7 1 0 1 13 1-12 1 15 1-12 1 3 1 0 1-1 1 2 1 0 1 0 1-6 1-3 1 1 1-11 1 2 1 12 1-4 1 4" stroke="#00ff99"/>
<path d="M1 0l1-16 1 6 1 3 1 5 1-10 1 1 1 6 1-9 1-4 1 4 1 5 1 4 1-3 1 9 1-2 1 3 1-4 1-3 1-6 1-3 1 0 1 3 1 1 1-6 1-4 1-2 1 1 1 4 1 3 1-8 1-4 1-1 1 4 1-4 1-2 1 8 1-3 1-8" stroke="#008eff"/>
<path d="M1 0l1-7 1 9 1 10 1-17 1 9 1-13 1 9 1 1 1-15 1 10 1-8 1-3 1 3 1 4 1 0 1-3 1 18 1-3 1 4 1-5 1 3 1-4 1-8 1-9 1 3 1-7 1 3 1-4 1 9 1-7 1-7 1 6 1 2 1 13 1 3 1 15 1-1 1-4" stroke="#00ff88"/>
<path d="M1 0l1-3 1 18 1 3 1 0 1 6 1-3 1-12 1 0 1 9 1 30 1-18 1-3 1 5 1-11 1-1 1 3 1-5 1-2 1-6 1 10 1-1 1 4 1 2 1-1 1-10 1 3 1 7 1-6 1 5 1 6 1 10 1-12 1-2 1-8 1-1 1 1 1-7 1-6" stroke="#0074ff"/>
<path d="M1 0l1 11 1 3 1 5 1 8 1-4 1-3 1 6 1 0 1 0 1 2 1 0 1-3 1 9 1 0 1 0 1-8 1-3 1 0 1-5 1 10 1 0 1 6 1-5 1 6 1 7 1 7 1 2 1-4 1 12 1-7 1-3 1 3 1 7 1 1 1 7 1 1 1-1 1 0" stroke="#00ffe5"/>
<path d="M1 0l1-24 1-6 1 3 1-3 1 1 1 0 1 0 1 8 1-6 1-2 1-2 1 4 1-2 1 3 1-23 1-8 1 0 1 4 1-14 1 9 1-2 1-3 1 3 1-8 1-1 1-1 1-1 1 2 1 3 1 10 1 1 1-4 1 7 1 4 1 4 1-13 1 3 1 4" stroke="#00ffdc"/>
<path d="M1 0l1 1 1 4 1 11 1 2 1 2 1 4 1 7 1 3 1-1 1-11 1 0 1 3 1 9 1-7 1-16 1 3 1-4 1 5 1 5 1-2 1-6 1 3 1-7 1 6 1-9 1 4 1-1 1 5 1 6 1-3 1 5 1 2 1-3 1 3 1-8 1 2 1-5 1 3" stroke="#006eff"/>
<path d="M1 0l1 31 1 16 1 2 1-2 1-3 1 5 1-2 1 2 1-2 1 4 1-7 1 0 1 3 1-5 1 20 1-5 1-10 1-12 1-12 1 5 1 8 1 14 1 12 1 3 1-17 1-3 1-9 1-7 1 6 1 4 1 4 1 19 1-8 1 16 1 0 1 13 1-4 1-8" stroke="#00ff58"/>
<path d="M1 0l1-8 1 3 1 7 1 16 1 12 1 2 1 8 1 1 1-7 1-1 1 10 1-10 1 5 1 10 1-8 1 4 1 22 1-6 1-7 1 2 1-2 1-4 1-4 1-7 1 3 1 2 1-22 1 6 1-17 1-8 1 1 1-3 1 2 1-20 1-1 1 6 1-7 1 10" stroke="#00cdff"/>
<path d="M1 0l1 16 1-6 1 1 1 9 1 5 1-1 1 1 1-8 1 2 1 3 1 9 1-3 1-4 1 3 1-12 1-3 1 8 1-7 1 3 1-4 1 7 1-2 1 9 1-2 1-1 1-11 1 2 1-2 1-15 1-12 1-1 1-16 1-14 1-3 1-2 1-3 1 3 1 13" stroke="#00b4ff"/>
<path d="M1 0l1-24 1 2 1-1 1-1 1 1 1 2 1 6 1-10 1 5 1 1 1-4 1 2 1-1 1 10 1-9 1-1 1 0 1 7 1-6 1 2 1-8 1-1 1 4 1-1 1 2 1 2 1 3 1-10 1 0 1-2 1 0 1-2 1-5 1 0 1 1 1-11 1-6 1 1" stroke="#00bdff"/>
<path d="M1 0l1-10 1 1 1 3 1-2 1 4 1-6 1-3 1-6 1-1 1 8 1-9 1-2 1 9 1-5 1-2 1-9 1-1 1 4 1 3 1 3 1-3 1 0 1 1 1-2 1 0 1 25 1-2 1-1 1-1 1-3 1 3 1-4 1 0 1-5 1 3 1-4 1-7 1-5" stroke="#007aff"/>
<path d="M1 0l1 2 1 9 1-3 1 4 1 7 1 9 1-10 1 23 1-2 1 20 1 0 1 0 1 2 1 1 1 0 1 1 1 8 1-5 1 14 1 4 1-6 1 3 1-18 1-1 1 5 1 8 1 4 1 7 1 0 1-10 1-6 1-10 1-10 1-13 1-10 1-10 1-1 1 10" stroke="#00f8ff"/>
<path d="M1 0l1-3 1-8 1 2 1-6 1 2 1 5 1-6 1 12 1 1 1-6 1-8 1 1 1 10 1 7 1 9 1 7 1-8 1-4 1 3 1-1 1 1 1-7 1-1 1 3 1 9 1 1 1 5 1-17 1 10 1 1 1-4 1 1 1 0 1 0 1 7 1-1 1-9 1-11" stroke="#00ffa1"/>
<path d="M1 0l1 7 1 0 1 8 1-9 1 4 1 7 1-12 1 10 1-1 1 2 1 3 1 0 1-4 1 4 1 1 1 1 1-11 1 7 1 5 1 6 1 5 1 1 1-3 1-1 1-3 1 4 1-5 1-1 1 6 1 2 1-2 1-4 1-13 1 12 1 14 1-23 1 17 1 7" stroke="#0094ff"/>
<path d="M1 0l1-19 1-2 1-3 1 1 1-2 1-4 1 1 1 3 1 1 1-4 1-1 1-3 1 1 1 1 1 10 1 1 1-3 1 4 1 2 1 0 1 3 1-15 1 4 1-5 1-2 1-6 1-2 1 18 1-7 1 3 1 1 1-5 1-2 1 5 1-1 1-2 1 1 1-1" stroke="#0021ff"/>
<path d="M1 0l1 0 1 2 1-4 1 0 1 2 1 0 1-6 1 2 1 2 1-2 1-4 1-6 1 0 1-5 1-9 1-4 1 5 1 0 1-1 1 2 1-7 1 4 1-12 1 3 1-1 1 1 1-2 1 4 1-4 1 2 1 1 1 3 1 2 1-5 1 7 1-8 1-1 1 7" stroke="#00fff5"/>
<path d="M1 0l1 9 1 4 1 1 1 4 1 3 1 0 1 1 1 1 1 5 1 6 1-4 1 11 1-4 1-5 1 0 1-1 1 2 1 0 1 8 1 1 1 2 1-4 1 0 1 1 1 2 1 7 1-1 1 1 1-2 1-3 1 7 1 6 1-8 1 4 1-5 1 3 1-3 1 0" stroke="#00adff"/>
<path d="M1 0l1-3 1 1 1-2 1 1 1 5 1-2 1-2 1 1 1 5 1-5 1-5 1-1 1 0 1 1 1 2 1-1 1 1 1 0 1-2 1 5 1 1 1-6 1-2 1-2 1 2 1-6 1 4 1 2 1 0 1 4 1 1 1 3 1 5 1 7 1-6 1 1 1 3 1 5" stroke="#0081ff"/>
<path d="M1 0l1 2 1 2 1 2 1 0 1-2 1 3 1 3 1 0 1 5 1-1 1 6 1-1 1 1 1 3 1-2 1-2 1 1 1 2 1-3 1-7 1 1 1-4 1 0 1 0 1 2 1-1 1 0 1 0 1 4 1-2 1-1 1 4 1 3 1 1 1 1 1 5 1 0 1 0" stroke="#1800ff"/>
<path d="M1 0l1-10 1 3 1 1 1 5 1 6 1 3 1 2 1-2 1-1 1-12 1 5 1-6 1-4 1 7 1 0 1-8 1 6 1 0 1-3 1 0 1 0 1-2 1-2 1 3 1-3 1 11 1-2 1 4 1-4 1 3 1-4 1-1 1-5 1-4 1 2 1 4 1-4 1-1" stroke="#0087ff"/>
<path d="M1 0l1-6 1-8 1 5 1-1 1 2 1 1 1 0 1-2 1-2 1 4 1 4 1 8 1-3 1 17 1 0 1-4 1 11 1-8 1 6 1 1 1 2 1 0 1-4 1 5 1-9 1 0 1 5 1 2 1-2 1-4 1-2 1-1 1 3 1-2 1 1 1-3 1-3 1 1" stroke="#00fffe"/>
<path d="M1 0l1 16 1 1 1 3 1 4 1 4 1-14 1 10 1-11 1 10 1-1 1 15 1-9 1-7 1 0 1-2 1 8 1-3 1 1 1 3 1-2 1-2 1 3 1 3 1-2 1 2 1-16 1 7 1-1 1 3 1 2 1-6 1-16 1 0 1-5 1 11 1-7 1 5 1-4" stroke="#0061ff"/>
<path d="M1 0l1-5 1-4 1-1 1 1 1 3 1 0 1-6 1-1 1-3 1 1 1-6 1 4 1 3 1 1 1 0 1 3 1 2 1-2 1 3 1-1 1-1 1-1 1 4 1-2 1 0 1 2 1 2 1-2 1 1 1 3 1 0 1 4 1 2 1-1 1-1 1 0 1-2 1 3" stroke="#4500ff"/>
<path d="M1 0l1-12 1-3 1 4 1-3 1-4 1-2 1-5 1-13 1-4 1 3 1 2 1 5 1-4 1-10 1 0 1-2 1 4 1-11 1 0 1 0 1-1 1 2 1-4 1-3 1-2 1-1 1 3 1 0 1-2 1-2 1 3 1-8 1 1 1-1 1 2 1 8 1 3 1 1" stroke="#0500ff"/>
<path d="M1 0l1-9 1-1 1 4 1-5 1-1 1 0 1-5 1 1 1 1 1-1 1-1 1-2 1 2 1-3 1 3 1 0 1-9 1-2 1-1 1 1 1 0 1 2 1-1 1 2 1 1 1 5 1-3 1 1 1-12 1 0 1 6 1 0 1 5 1 3 1 1 1 6 1-4 1-2" stroke="#00ffed"/>
<path d="M1 0l1-1 1 8 1-2 1 6 1-4 1 2 1-3 1 4 1-8 1-1 1-6 1 2 1-7 1 4 1-8 1 7 1 0 1 1 1-3 1 2 1 3 1 4 1-8 1 5 1 2 1 3 1 0 1 10 1 3 1-2 1-2 1-1 1 2 1 12 1-2 1 3 1 2 1 10" stroke="#000eff"/>
<path d="M1 0l1-2 1-7 1 4 1-1 1-13 1-8 1-1 1-5 1-7 1 7 1 0 1 5 1-5 1 10 1 0 1 4 1-6 1 8 1-1 1-7 1 0 1-8 1 2 1-8 1-8 1 0 1-7 1-4 1 1 1-2 1 4 1-7 1-9 1-7 1 9 1 5 1 5 1-3" stroke="#002eff"/>
<path d="M1 0l1-18 1-5 1 0 1-12 1 5 1 14 1-7 1 3 1 4 1-4 1 0 1 4 1-5 1 16 1-6 1-5 1-44 1 12 1 0 1 4 1-4 1 2 1 27 1-7 1-9 1-10 1 6 1-9 1 8 1-4 1-1 1-1 1-11 1-1 1-8 1-1 1-4 1-4" stroke="#3200ff"/>
<path d="M1 0l1 13 1-6 1-4 1-4 1-4 1 3 1 0 1 3 1-3 1 2 1 5 1-2 1 8 1-1 1-1 1 3 1 2 1 0 1 4 1 2 1-3 1 4 1-1 1-3 1 4 1-3 1-2 1-4 1 7 1 7 1-7 1-2 1-2 1 9 1-5 1-9 1-3 1 15" stroke="#1f00ff"/>
<path d="M1 0l1-23 1-3 1 4 1-2 1-10 1 7 1 7 1-7 1-9 1 6 1 3 1 1 1-2 1 2 1 6 1-2 1-4 1-4 1-21 1 13 1 1 1 6 1 9 1 5 1-11 1 1 1 1 1 5 1 16 1-9 1-1 1 4 1-2 1 6 1 5 1 6 1-1 1-4" stroke="#0008ff"/>
<path d="M1 0l1 7 1 0 1 3 1-1 1 1 1-1 1-1 1-2 1 4 1 2 1 4 1 2 1 0 1 2 1-1 1-4 1 2 1-2 1 1 1-2 1-1 1-2 1 0 1-2 1 1 1 1 1 1 1 1 1 4 1-2 1-1 1-1 1-4 1 0 1-3 1 3 1-3 1 0" stroke="#3800ff"/>
<path d="M1 0l1 7 1 4 1 7 1 2 1-3 1 13 1 2 1 4 1 2 1-3 1 5 1 10 1-4 1 5 1 2 1-11 1 12 1-3 1 4 1-10 1 4 1-1 1-2 1 8 1 0 1-9 1-4 1 1 1-5 1-7 1 18 1 0 1-3 1 9 1-5 1 7 1 1 1 1" stroke="#004eff"/>
<path d="M1 0l1-33 1 6 1 13 1-1 1-8 1 9 1-7 1 2 1 5 1 4 1 13 1 3 1-2 1 12 1-7 1 4 1-1 1 6 1 8 1-7 1-2 1-2 1 13 1 4 1 0 1 4 1 3 1-1 1-2 1-6 1 7 1 3 1-3 1 1 1-2 1 3 1-5 1 11" stroke="#0047ff"/>
<path d="M1 0l1-7 1 7 1 4 1-1 1 0 1-4 1 4 1-1 1-4 1-8 1 2 1-2 1-1 1-9 1 4 1-5 1 0 1 1 1 1 1 0 1 0 1-2 1-1 1-8 1 0 1 3 1 0 1-1 1-3 1 1 1 3 1-3 1 3 1-2 1 4 1 0 1 14 1 7" stroke="#0b00ff"/>
<path d="M1 0l1 17 1 36 1 12 1-1 1-8 1-7 1-5 1-11 1-5 1 3 1 0 1 5 1-2 1 3 1 3 1-2 1 1 1 4 1-2 1 11 1-4 1-11 1 8 1 1 1 6 1 8 1 7 1 6 1-6 1 1 1 1 1 0 1 9 1 7 1 14 1 13 1 3 1-17" stroke="#1400ff"/>
<path d="M1 0l1-18 1 2 1-5 1-1 1 33 1 18 1-6 1 2 1 6 1 2 1-1 1-22 1 4 1 4 1-4 1-6 1-2 1-1 1-3 1-9 1 5 1-4 1 3 1-8 1-6 1-1 1 10 1-7 1-4 1 9 1 12 1-5 1-11 1 16 1-10 1-2 1 5 1-10" stroke="#00e7ff"/>
<path d="M1 0l1 3 1 0 1 1 1-1 1 0 1 0 1-6 1 0 1 2 1 1 1-2 1 0 1-1 1 6 1 3 1 2 1 0 1-3 1-1 1-3 1-1 1-1 1 4 1 2 1 3 1 2 1 2 1-2 1 2 1 2 1-1 1-4 1 1 1-3 1 0 1-1 1 10 1-3" stroke="#3e00ff"/>
<path d="M1 0l1 10 1 4 1 0 1 4 1-14 1 2 1 7 1 12 1-7 1-11 1-8 1 5 1 1 1 12 1 1 1-2 1 1 1-3 1 3 1 5 1-1 1 2 1 1 1-4 1-3 1 4 1 3 1 0 1 1 1 1 1 3 1-8 1-2 1-2 1-1 1 0 1-1 1 3" stroke="#0054ff"/>
<path d="M1 0l1-9 1 0 1 1 1 1 1 2 1-3 1 0 1 6 1 2 1-2 1-1 1-9 1 0 1 4 1 2 1 1 1-2 1 1 1 3 1 4 1 6 1 5 1-10 1 1 1 0 1 2 1-5 1 1 1-6 1 2 1-6 1-6 1-5 1-3 1-1 1 5 1 3 1-4" stroke="#2500ff"/>
<path d="M1 0l1-1 1-1 1 5 1-4 1 2 1-2 1-1 1 1 1-1 1 0 1 1 1 0 1 1 1-8 1-2 1 2 1 2 1 5 1 4 1-3 1-7 1 3 1 1 1 0 1 2 1-4 1-5 1-3 1 4 1-1 1 2 1-4 1 0 1 0 1-3 1 5 1-3 1-1" stroke="#0014ff"/>
<path d="M1 0l1-2 1 5 1 3 1 5 1-7 1 2 1-3 1 0 1-6 1-5 1 5 1 8 1 0 1 1 1-1 1-5 1-9 1-3 1-8 1 2 1-1 1 6 1 5 1 1 1-5 1-1 1-2 1 1 1 1 1 2 1 4 1-1 1 1 1-2 1 8 1 0 1 0 1 6" stroke="#0001ff"/>
<path d="M1 0l1-11 1-2 1 10 1-6 1-10 1 8 1 1 1-1 1-1 1 3 1-4 1-1 1 3 1-5 1 0 1-2 1 1 1 1 1-1 1-8 1 6 1-6 1 3 1 7 1 2 1-5 1-13 1 6 1-2 1 0 1 0 1-8 1 2 1-8 1-4 1-3 1-3 1 3" stroke="#0034ff"/>
<path d="M1 0l1 5 1-7 1-22 1 1 1 12 1-13 1-11 1-6 1 7 1 7 1 10 1-10 1 14 1 4 1 10 1 19 1-4 1 5 1 0 1-2 1-1 1 13 1-1 1 15 1-30 1 9 1-27 1 2 1 0 1-8 1-2 1-20 1-8 1-27 1 12 1-11 1 16 1-4" stroke="#003bff"/>
<path d="M1 0l1 7 1-3 1 5 1-1 1-1 1-3 1-3 1 10 1 1 1-5 1-4 1-4 1 7 1-2 1 10 1 2 1 5 1-9 1 2 1-6 1-2 1 5 1-1 1 3 1-2 1 2 1 1 1 0 1 2 1 3 1 5 1 1 1 2 1-1 1-4 1 0 1 0 1-4" stroke="#5b00ff"/>
<path d="M1 0l1-1 1 3 1 0 1 11 1-7 1 3 1-5 1 6 1 1 1 7 1-5 1 7 1-5 1-12 1 2 1 1 1 0 1 3 1-8 1-6 1 2 1 4 1-10 1 0 1-2 1 0 1-4 1 1 1 1 1 0 1-4 1-13 1 5 1-11 1-12 1-3 1 14 1 3" stroke="#009aff"/>
<path d="M1 0l1 10 1 1 1-1 1-5 1 3 1-3 1-4 1-1 1 0 1-1 1 1 1-1 1-3 1 0 1 0 1-2 1 3 1-3 1 2 1 0 1 1 1-19 1-1 1 3 1 3 1 4 1 0 1 0 1-2 1 4 1-12 1 3 1 0 1 1 1 2 1 0 1 0 1-2" stroke="#ac00ff"/>
<path d="M1 0l1 1 1-1 1 1 1 1 1 2 1-4 1-1 1-3 1-1 1 7 1-1 1-2 1 0 1 3 1-2 1 9 1 1 1-6 1 6 1-1 1-2 1 4 1 3 1-4 1-1 1 3 1 1 1 0 1-3 1 2 1-5 1 7 1-7 1-2 1 9 1 14 1-5 1-3" stroke="#8800ff"/>
<path d="M1 0l1 12 1-5 1-4 1-2 1 5 1-1 1-2 1-4 1 1 1 2 1-15 1 3 1 2 1-10 1 8 1-9 1 0 1-1 1 1 1 2 1 4 1 0 1 0 1-7 1 6 1 1 1 4 1 5 1-2 1-4 1 2 1 2 1 3 1-3 1-1 1-1 1-4 1 6" stroke="#4b00ff"/>
<path d="M1 0l1-7 1-1 1 0 1 0 1-1 1 1 1 6 1-4 1 3 1-2 1 1 1-2 1 2 1 0 1-2 1-2 1-1 1 0 1-1 1 0 1-1 1 0 1-2 1 2 1 5 1-5 1 1 1 1 1 1 1 1 1-1 1 0 1 0 1-1 1-3 1-5 1 6 1 1" stroke="#2b00ff"/>
<path d="M1 0l1 12 1 2 1-22 1 9 1-1 1 0 1 4 1 2 1 6 1-8 1-26 1 5 1 2 1 2 1 1 1-2 1-4 1 8 1-2 1 3 1-1 1 2 1-3 1 11 1 3 1 5 1-2 1 0 1-3 1-3 1-3 1-2 1 4 1 0 1 3 1 7 1-1 1 16" stroke="#1200ff"/>
<path d="M1 0l1 0 1-1 1-4 1-2 1-2 1 3 1 4 1 5 1-4 1-9 1 2 1 1 1-2 1-1 1 3 1-3 1 0 1 5 1 2 1-1 1 4 1 1 1 4 1 1 1-7 1-2 1 2 1 0 1-1 1 1 1 1 1 0 1-5 1 4 1-5 1-1 1 3 1 5" stroke="#001bff"/>
<path d="M1 0l1 4 1-3 1-6 1-6 1-5 1 0 1-3 1-3 1-2 1 2 1-4 1 0 1 2 1 2 1-3 1-3 1 8 1 8 1-5 1 1 1-7 1-1 1 1 1 9 1 2 1 4 1-1 1 4 1 4 1 7 1-5 1 6 1 6 1-3 1 3 1-1 1-1 1 5" stroke="#00a1ff"/>
<path d="M1 0l1-25 1-14 1-10 1-8 1-2 1-10 1-5 1-6 1-4 1 1 1 3 1 1 1-5 1-3 1 4 1 2 1 0 1 4 1 1 1-8 1-1 1 0 1 0 1-2 1 0 1-4 1-7 1-9 1-1 1 1 1 2 1 2 1 0 1-1 1-1 1 4 1-3 1-7" stroke="#1400ff"/>
<path d="M1 0l1-8 1-17 1 2 1-5 1-10 1 19 1 5 1-10 1 4 1-7 1-1 1-3 1 7 1-4 1 0 1-8 1-9 1 13 1 4 1-14 1 13 1 2 1 7 1-7 1 6 1-1 1-4 1-1 1-5 1 8 1-4 1 7 1-6 1 1 1-6 1-5 1-17 1 4" stroke="#0028ff"/>
<path d="M1 0l1 3 1 4 1-2 1-2 1 9 1 1 1 4 1-3 1 1 1-1 1 2 1-5 1-1 1-2 1 1 1 0 1-1 1-3 1-2 1 4 1-1 1 3 1 2 1-4 1 10 1-3 1 2 1-6 1-1 1 0 1-1 1 3 1-2 1-3 1 3 1-13 1 1 1 3" stroke="#6d00ff"/>
<path d="M1 0l1 9 1 0 1-2 1 8 1 1 1-2 1 2 1 2 1-2 1 2 1-1 1 1 1-1 1-3 1 1 1 0 1 2 1 0 1 6 1-7 1 6 1-1 1-1 1-2 1 1 1 1 1-5 1 0 1 3 1-1 1-5 1 4 1 4 1-2 1-1 1-2 1 1 1 1" stroke="#a300ff"/>
<path d="M1 0l1-9 1 0 1 1 1-1 1 1 1 0 1-1 1-2 1 4 1-6 1 1 1 1 1-3 1 3 1-2 1 2 1 2 1-1 1 0 1-1 1-2 1-4 1 0 1-2 1 4 1-2 1-1 1 0 1 3 1-1 1 2 1 0 1 0 1-1 1 0 1-2 1 1 1-1" stroke="#5200ff"/>
<path d="M1 0l1 1 1-3 1-2 1 2 1 1 1-1 1 8 1-1 1 1 1 1 1 3 1-2 1 1 1-3 1 0 1 6 1 0 1-2 1 2 1-1 1 2 1-1 1-1 1 4 1-3 1-5 1-1 1 1 1-2 1 0 1-1 1 0 1 2 1-2 1 1 1-2 1-5 1 0" stroke="#9100ff"/>
<path d="M1 0l1 4 1-6 1-1 1-1 1 2 1 0 1-2 1 0 1 1 1 0 1-1 1 0 1-1 1-6 1-4 1 3 1 0 1 2 1-1 1-2 1 2 1 0 1 1 1 1 1 0 1 5 1-1 1 2 1-3 1 0 1-1 1 4 1 0 1-5 1 2 1-1 1-1 1 1" stroke="#b500ff"/>
<path d="M1 0l1-9 1-2 1 3 1-3 1-1 1 0 1-2 1-2 1 2 1 4 1 1 1-1 1 3 1 2 1-2 1 1 1-2 1-1 1 0 1 2 1 0 1-1 1 0 1 0 1 0 1 1 1-4 1 2 1 3 1 0 1 1 1-3 1-3 1-2 1 1 1-5 1-5 1-1" stroke="#d000ff"/>
<path d="M1 0l1 1 1 1 1-3 1 0 1-5 1 4 1 2 1 0 1 6 1-2 1 2 1-1 1-1 1 2 1 2 1-1 1 2 1 1 1 3 1-5 1 0 1 3 1-2 1 0 1-1 1 5 1-1 1-1 1 1 1 2 1-2 1 1 1-5 1 1 1-2 1 1 1 11 1-7" stroke="#be00ff"/>
<path d="M1 0l1 4 1 0 1-1 1 3 1 4 1 1 1-1 1 4 1 1 1-1 1 0 1-4 1 0 1-1 1 2 1 7 1-8 1 4 1-2 1 3 1-3 1 3 1 4 1 0 1 2 1 2 1-2 1-1 1 5 1-4 1 1 1 2 1 0 1 3 1 1 1 1 1 9 1 4" stroke="#7f00ff"/>
<path d="M1 0l1 8 1 2 1-1 1 2 1-5 1 0 1-11 1 3 1 1 1 3 1-2 1 6 1-6 1 4 1 3 1 2 1 1 1-1 1 1 1 3 1-1 1-2 1-1 1 4 1 3 1 0 1-1 1 0 1 1 1 3 1-1 1 5 1-3 1 3 1-6 1-11 1 3 1 0" stroke="#6400ff"/>
<path d="M1 0l1-3 1 0 1 0 1-1 1-1 1-1 1 1 1-2 1 1 1-4 1 2 1 2 1-4 1 0 1 1 1 1 1-3 1-1 1 0 1 1 1-1 1 0 1 1 1 1 1 0 1 1 1-3 1-1 1 1 1 0 1 2 1-2 1 0 1-1 1 0 1-4 1 1 1 1" stroke="#c700ff"/>
<path d="M1 0l1-4 1 0 1 1 1 0 1 0 1 0 1 0 1-3 1 2 1-2 1 1 1-3 1 4 1-3 1 0 1 0 1 0 1 1 1 1 1 1 1 0 1-1 1 1 1-1 1 1 1 4 1-1 1 1 1 0 1 0 1 0 1 2 1-5 1 3 1 0 1 1 1 2 1-1" stroke="#e200ff"/>
<path d="M1 0l1-2 1 0 1 3 1-1 1 3 1-2 1 0 1 2 1-3 1-1 1-1 1 5 1-2 1 0 1 3 1 0 1 3 1-1 1 2 1 2 1 1 1-9 1-2 1-4 1-3 1-1 1-3 1 1 1 0 1 0 1-4 1 0 1-5 1-2 1 3 1 0 1 0 1 0" stroke="#9a00ff"/>
<path d="M1 0l1 8 1-7 1 1 1-1 1 4 1 0 1 1 1 3 1-2 1 1 1-3 1-2 1-1 1 3 1-2 1 4 1 0 1 4 1 2 1-4 1 3 1 3 1-1 1 3 1-2 1 1 1-4 1 3 1-4 1 0 1 2 1 2 1-7 1 4 1 4 1-2 1-2 1 2" stroke="#d900ff"/>
<path d="M1 0l1-1 1 0 1-2 1-1 1 2 1-1 1 2 1 0 1-2 1 0 1 5 1-1 1-6 1-2 1-1 1 4 1 0 1-2 1 2 1-1 1 1 1-1 1-1 1-4 1 4 1 0 1 1 1 1 1 0 1-4 1 4 1-3 1 0 1 1 1 3 1 4 1 3 1-1" stroke="#7600ff"/>
</g>
<rect x="34.0" y="5.0" width="218.6" height="170.3" fill="none" stroke="#555" stroke-width="1.3"/>
<line x1="36.8" y1="175.3" x2="36.8" y2="178.5" stroke="#333" stroke-width="1"/>
<text x="36.8" y="186.9" class="tk" text-anchor="middle">0</text>
<line x1="90.0" y1="175.3" x2="90.0" y2="178.5" stroke="#333" stroke-width="1"/>
<text x="90.0" y="186.9" class="tk" text-anchor="middle">10</text>
<line x1="143.3" y1="175.3" x2="143.3" y2="178.5" stroke="#333" stroke-width="1"/>
<text x="143.3" y="186.9" class="tk" text-anchor="middle">20</text>
<line x1="196.6" y1="175.3" x2="196.6" y2="178.5" stroke="#333" stroke-width="1"/>
<text x="196.6" y="186.9" class="tk" text-anchor="middle">30</text>
<line x1="249.8" y1="175.3" x2="249.8" y2="178.5" stroke="#333" stroke-width="1"/>
<text x="249.8" y="186.9" class="tk" text-anchor="middle">40</text>
<line x1="30.8" y1="159.7" x2="34.0" y2="159.7" stroke="#333" stroke-width="1"/>
<text x="27.7" y="159.7" class="tk" text-anchor="middle" transform="rotate(-90 27.7 159.7)">−4</text>
<line x1="30.8" y1="125.6" x2="34.0" y2="125.6" stroke="#333" stroke-width="1"/>
<text x="27.7" y="125.6" class="tk" text-anchor="middle" transform="rotate(-90 27.7 125.6)">−2</text>
<line x1="30.8" y1="91.5" x2="34.0" y2="91.5" stroke="#333" stroke-width="1"/>
<text x="27.7" y="91.5" class="tk" text-anchor="middle" transform="rotate(-90 27.7 91.5)">0</text>
<line x1="30.8" y1="57.4" x2="34.0" y2="57.4" stroke="#333" stroke-width="1"/>
<text x="27.7" y="57.4" class="tk" text-anchor="middle" transform="rotate(-90 27.7 57.4)">2</text>
<line x1="30.8" y1="23.3" x2="34.0" y2="23.3" stroke="#333" stroke-width="1"/>
<text x="27.7" y="23.3" class="tk" text-anchor="middle" transform="rotate(-90 27.7 23.3)">4</text>
<text x="143.3" y="203.6" class="ttl" text-anchor="middle">Ten−minute interval</text>
<text x="12.4" y="90.2" class="ttl" text-anchor="middle" transform="rotate(-90 12.4 90.2)">Intradaily cumulative return</text>
<text x="107.9" y="222.8" class="cap" textLength="50.6" lengthAdjust="spacing">(<tspan font-weight="bold">a</tspan>) AAPL</text>
<g class="cv" transform="translate(328.67 84.60) scale(5.327 0.5)">
<path d="M1 0l1-16 1 16 1-4 1-8 1-51 1 5 1 3 1-5 1-3 1-9 1 17 1 19 1-8 1-11 1-5 1-6 1-13 1 6 1 7 1 6 1 16 1-10 1 11 1-10 1 15 1-10 1 6 1-3 1 8 1-5 1-23 1 23 1-9 1-8 1 1 1 8 1 31 1-15" stroke="#ffa600"/>
<path d="M1 0l1-8 1 6 1-2 1 8 1-4 1 4 1 4 1 1 1-2 1 0 1 3 1 3 1 2 1-3 1 6 1 1 1 10 1 7 1 8 1 0 1 7 1 6 1-3 1-2 1 1 1-2 1-17 1-4 1 4 1 6 1 6 1 4 1-3 1 4 1-1 1-1 1 3 1-1" stroke="#ff0000"/>
<path d="M1 0l1-14 1 2 1-11 1-5 1 0 1 4 1 8 1-1 1-9 1 3 1-4 1 7 1-6 1 13 1-1 1 4 1-3 1 2 1 1 1-5 1-9 1-6 1-2 1-1 1 1 1-6 1-2 1 0 1 9 1 0 1-5 1-5 1 1 1 14 1-2 1-5 1-4 1 2" stroke="#ff2d00"/>
<path d="M1 0l1-13 1-8 1 2 1 5 1-2 1 3 1-1 1-1 1-11 1 4 1-5 1-1 1 0 1-2 1-1 1 3 1 1 1 4 1-7 1 6 1-2 1 2 1 7 1-8 1-3 1 4 1-2 1-4 1-4 1 5 1 3 1 0 1-9 1-8 1 5 1 10 1-4 1 0" stroke="#ff1200"/>
<path d="M1 0l1 9 1 4 1-3 1 2 1-20 1 2 1 14 1 7 1-2 1-1 1-7 1-12 1 8 1-9 1 6 1 7 1-4 1-6 1 0 1 15 1-1 1 2 1 0 1 8 1-11 1-8 1 14 1-19 1 10 1 11 1 3 1 2 1-9 1 22 1 0 1 15 1-4 1 0" stroke="#ffad00"/>
<path d="M1 0l1 9 1 7 1-1 1 12 1-1 1 5 1 1 1 0 1 0 1-5 1 11 1-3 1-5 1-4 1-5 1 2 1-3 1-2 1-7 1-3 1-1 1-1 1-6 1-2 1-14 1-3 1-1 1 5 1 5 1-2 1 0 1 11 1-6 1 14 1-11 1 4 1-10 1 1" stroke="#f8ff00"/>
<path d="M1 0l1-2 1 2 1 0 1-5 1-6 1-10 1 2 1 7 1-8 1 15 1-7 1-6 1 12 1-6 1-3 1 4 1 2 1 6 1-2 1-8 1 10 1-4 1 3 1-9 1 12 1-11 1 9 1 3 1-4 1 1 1 5 1-6 1 11 1-14 1-15 1 4 1-3 1 13" stroke="#ff3600"/>
<path d="M1 0l1 15 1-2 1-2 1 4 1-1 1-3 1 4 1-1 1-4 1-1 1-2 1 1 1-1 1 6 1-1 1 1 1-1 1-1 1 2 1 0 1 3 1-1 1-1 1 1 1 4 1-1 1 3 1-2 1-1 1 2 1 0 1 1 1-1 1-1 1 1 1 3 1-2 1 0" stroke="#ff2400"/>
<path d="M1 0l1-29 1-7 1-4 1 3 1-11 1-3 1-3 1 11 1 4 1-5 1 3 1-7 1 4 1-13 1 9 1 1 1 4 1 5 1 0 1-5 1-5 1-22 1 9 1-1 1-4 1 15 1-6 1 12 1-11 1-1 1-4 1 5 1-2 1 6 1-4 1 0 1-4 1-15" stroke="#ff8400"/>
<path d="M1 0l1-3 1-3 1-6 1-4 1-1 1-2 1 1 1 2 1-2 1 0 1 5 1 0 1-3 1 0 1-1 1 1 1 0 1-1 1 2 1-1 1 7 1 1 1 1 1 5 1 1 1 5 1 5 1-4 1 3 1-5 1-3 1 1 1-2 1 15 1-1 1 0 1 1 1 3" stroke="#ff0900"/>
<path d="M1 0l1-4 1 13 1-1 1 1 1-3 1 4 1 4 1-7 1 2 1 2 1 2 1 12 1 7 1-1 1-6 1-5 1-2 1-8 1-4 1 2 1-6 1-10 1 3 1-4 1 4 1-2 1-6 1 13 1-5 1-9 1 8 1 2 1 1 1-4 1 6 1 8 1-24 1 7" stroke="#ffeb00"/>
<path d="M1 0l1-14 1 2 1 4 1-2 1 0 1-6 1 4 1 4 1 4 1-4 1-1 1-3 1-34 1 7 1-1 1-2 1 5 1 3 1-6 1-7 1-9 1 2 1 4 1 1 1-7 1-4 1 7 1-7 1 1 1-1 1-1 1 6 1 3 1 2 1 7 1 0 1-3 1 3" stroke="#ff3f00"/>
<path d="M1 0l1-5 1-26 1-10 1 21 1-5 1-18 1 15 1 5 1 17 1-6 1 0 1 8 1-21 1 9 1 9 1-9 1-2 1-10 1 1 1 4 1 8 1 0 1-28 1 15 1 11 1 11 1 12 1-13 1 4 1 14 1 4 1 0 1 14 1-5 1 24 1-12 1 17 1 11" stroke="#a5ff00"/>
<path d="M1 0l1-2 1 7 1 1 1 0 1 3 1-1 1 2 1-4 1 0 1 6 1 5 1-5 1 4 1 4 1 1 1 2 1-2 1 5 1 0 1-2 1-5 1-3 1-1 1 6 1 20 1-2 1 0 1-1 1-2 1-6 1 0 1-3 1 5 1-4 1-1 1 4 1-2 1 5" stroke="#ff6300"/>
<path d="M1 0l1 15 1-15 1-4 1 2 1 10 1 13 1-8 1-1 1 7 1-15 1-2 1 9 1-2 1 1 1-9 1-3 1-3 1-14 1 7 1 3 1 9 1-1 1-5 1-1 1 1 1-7 1 5 1 5 1-2 1-2 1-2 1-1 1-16 1 8 1-6 1 0 1-4 1 8" stroke="#fff900"/>
<path d="M1 0l1-6 1-3 1-7 1 2 1-14 1-8 1 3 1-4 1 2 1 5 1-2 1-2 1 19 1-3 1 12 1-3 1-11 1 0 1 8 1-11 1-6 1 7 1 8 1-8 1-1 1-7 1 3 1 7 1-4 1-5 1 1 1 7 1 10 1 16 1-3 1-2 1 3 1-1" stroke="#ff1b00"/>
<path d="M1 0l1 12 1 0 1 0 1-1 1 0 1 1 1 2 1-1 1 1 1 1 1 1 1-3 1 3 1 0 1-10 1-1 1 3 1 0 1 5 1-1 1 1 1-5 1 6 1-2 1 3 1 7 1 1 1-4 1 7 1-2 1-2 1-8 1-3 1 1 1-1 1-5 1-3 1-3" stroke="#ffdd00"/>
<path d="M1 0l1 10 1 0 1-11 1 2 1 1 1 8 1-4 1-14 1-3 1 2 1 12 1-1 1-18 1-4 1 11 1-2 1-6 1-8 1-8 1 5 1-8 1 7 1 6 1-15 1 11 1 8 1 8 1 0 1 11 1-7 1 9 1 5 1-1 1-6 1-11 1-19 1 8 1 10" stroke="#ff7500"/>
<path d="M1 0l1 14 1 13 1 7 1-7 1 11 1 3 1 3 1 6 1 10 1 4 1-7 1 1 1 1 1 8 1-10 1 3 1 8 1-5 1 1 1-1 1-4 1 1 1 4 1 4 1 7 1-15 1 8 1 0 1-2 1 5 1-1 1 4 1 7 1 5 1 5 1 6 1 3 1-3" stroke="#ff0000"/>
<path d="M1 0l1 25 1 3 1 9 1-1 1 3 1 1 1 10 1 3 1 7 1-2 1 10 1 7 1-5 1-2 1-1 1-2 1 0 1-5 1-3 1 4 1-5 1 5 1-11 1 0 1 4 1 2 1 9 1 3 1-2 1 1 1-3 1-6 1 4 1-5 1 8 1 8 1-1 1-1" stroke="#fff500"/>
<path d="M1 0l1-4 1 7 1-4 1 24 1 0 1-8 1-4 1-3 1 3 1 11 1 2 1 1 1 1 1 3 1-1 1 3 1 9 1 2 1 5 1-4 1-5 1 0 1-5 1 8 1-2 1-4 1 4 1-9 1 21 1 3 1-6 1-13 1 6 1 0 1-5 1 10 1 6 1 3" stroke="#ffff00"/>
<path d="M1 0l1-30 1-1 1 9 1-1 1-4 1 8 1-6 1 13 1 0 1-1 1-28 1-4 1 9 1-2 1 0 1-6 1 2 1 0 1 6 1-11 1 4 1 1 1-5 1-1 1 7 1 0 1 3 1 13 1-7 1 2 1 0 1 7 1-2 1 1 1-2 1-3 1 15 1-3" stroke="#acff00"/>
<path d="M1 0l1-29 1-40 1-40 1 17 1-19 1 8 1 13 1 2 1-23 1 12 1 3 1-1 1 0 1 10 1 19 1 11 1 5 1-2 1 7 1 1 1-7 1 5 1 6 1 0 1 2 1-4 1 10 1-4 1-4 1 8 1 1 1-2 1-2 1-8 1 2 1 4 1 6 1 0" stroke="#ffa800"/>
<path d="M1 0l1 6 1-2 1 11 1 5 1 0 1 1 1-5 1 2 1 8 1 0 1 1 1-4 1 1 1 1 1 3 1-7 1 3 1 2 1 1 1 3 1-4 1-1 1 1 1 3 1-2 1 6 1 3 1 1 1 3 1-2 1 1 1 7 1-1 1-11 1 0 1 0 1 9 1-2" stroke="#ff7d00"/>
<path d="M1 0l1 16 1-8 1 3 1 3 1-1 1 0 1-7 1-2 1 2 1 3 1 1 1-5 1-1 1-2 1-11 1-2 1-3 1-6 1-2 1-6 1-2 1 4 1 5 1-7 1 3 1-14 1-1 1 16 1-1 1 5 1-2 1-4 1 6 1-4 1 2 1 4 1-14 1 16" stroke="#ff8b00"/>
<path d="M1 0l1 7 1 2 1-2 1-8 1 4 1 7 1 1 1-1 1-2 1-5 1 3 1-7 1-1 1-4 1 2 1 0 1-3 1 4 1 2 1 2 1-1 1 4 1 6 1 7 1 1 1 1 1 5 1-6 1-3 1-2 1-4 1-4 1 0 1-4 1 5 1 13 1-5 1-3" stroke="#ff5100"/>
<path d="M1 0l1-17 1-4 1 2 1 2 1 8 1 7 1-3 1 5 1-3 1 7 1 6 1-2 1-7 1-6 1-3 1-3 1-6 1-1 1-15 1-3 1-3 1 4 1-1 1 1 1-1 1 0 1-3 1 5 1 0 1-4 1-3 1 1 1 5 1 0 1-14 1-3 1 3 1 14" stroke="#ff6c00"/>
<path d="M1 0l1-17 1 7 1 7 1-2 1 1 1-2 1-9 1 3 1-5 1-2 1 1 1 10 1-4 1 8 1-3 1 4 1-1 1-5 1-18 1-8 1-5 1-1 1 2 1-7 1 18 1-1 1-3 1 5 1-6 1-3 1-8 1-9 1 8 1-6 1-12 1-1 1 6 1-3" stroke="#ff4800"/>
<path d="M1 0l1 12 1 0 1 1 1 0 1-1 1-2 1 0 1 0 1-3 1 3 1-2 1 1 1-3 1-1 1-2 1 1 1-2 1 1 1-1 1 0 1 0 1 1 1-1 1-11 1 0 1 2 1 2 1-6 1-1 1 0 1 2 1-1 1 1 1-1 1-4 1 1 1-5 1 3" stroke="#ffbb00"/>
<path d="M1 0l1-5 1-5 1-4 1-8 1 15 1-7 1 5 1-7 1 11 1 5 1-9 1-2 1 5 1 5 1 11 1-7 1 4 1-2 1 5 1 1 1-10 1 1 1-2 1 6 1-7 1-1 1-5 1-10 1-5 1-2 1 3 1 0 1 3 1-3 1 6 1-5 1-5 1 13" stroke="#ff9200"/>
<path d="M1 0l1-8 1 3 1-2 1 1 1-1 1-5 1-1 1-8 1 8 1-6 1-2 1 0 1 3 1 1 1 0 1-1 1-9 1 0 1-7 1-3 1 4 1-1 1 5 1-14 1 1 1-2 1-1 1-21 1-4 1 1 1 0 1 13 1 3 1 7 1-16 1 8 1-4 1 7" stroke="#ff9900"/>
<path d="M1 0l1 3 1 5 1-4 1-1 1-9 1 3 1-4 1-5 1-1 1 1 1 7 1-3 1-6 1 4 1-1 1-11 1 1 1 3 1 3 1-5 1 10 1 5 1 5 1-3 1 0 1-3 1-6 1 1 1-7 1-6 1 8 1 1 1-3 1 1 1 5 1 4 1 4 1-4" stroke="#ffc900"/>
<path d="M1 0l1-17 1 0 1 2 1 1 1-6 1-2 1-11 1 8 1-3 1 1 1-5 1-12 1 5 1-3 1-3 1-3 1-15 1 1 1 3 1 6 1-1 1 0 1-1 1-3 1 0 1 0 1 1 1-1 1 1 1-1 1 3 1-4 1 0 1 19 1 2 1 9 1-4 1-18" stroke="#fff200"/>
<path d="M1 0l1 13 1-2 1 4 1 8 1-5 1 0 1-10 1-1 1 9 1 2 1-1 1-12 1 2 1-6 1 3 1 2 1 13 1-8 1-23 1 0 1-33 1 12 1-2 1-4 1-6 1-22 1-1 1-4 1 0 1-1 1 4 1 6 1-7 1 15 1 2 1-6 1-5 1 4" stroke="#b3ff00"/>
<path d="M1 0l1 7 1 5 1 4 1 3 1-7 1 0 1-1 1-1 1-8 1 4 1-3 1 2 1 2 1-5 1 3 1-3 1-2 1-4 1 5 1-10 1 2 1 0 1-6 1 2 1-6 1-3 1 1 1-7 1 0 1 1 1 4 1-6 1 2 1 3 1 1 1-2 1-7 1-15" stroke="#f1ff00"/>
<path d="M1 0l1-18 1 3 1 18 1 6 1 7 1-13 1 16 1-3 1-6 1 6 1 16 1-1 1-8 1-18 1 4 1-1 1 17 1-6 1-1 1-27 1 6 1-2 1 4 1 16 1-26 1 14 1-18 1-11 1 20 1 16 1-6 1 11 1 4 1 5 1-20 1 1 1-7 1 5" stroke="#ffe400"/>
<path d="M1 0l1-22 1 4 1-3 1-16 1 26 1 13 1-11 1 9 1 0 1 15 1 15 1-10 1 7 1-1 1-3 1 3 1-38 1-3 1-23 1 6 1 10 1-4 1 7 1 6 1-12 1 1 1-5 1-18 1-1 1-2 1-4 1 16 1-6 1-2 1 6 1 3 1 11 1-2" stroke="#ffd600"/>
<path d="M1 0l1-19 1 12 1-2 1 0 1-1 1-6 1 33 1-12 1 3 1-6 1 1 1-2 1-1 1 13 1-7 1 4 1-2 1 4 1 3 1 5 1 9 1-4 1-1 1-17 1 2 1 24 1 1 1 0 1 2 1-13 1 12 1 8 1-1 1 3 1-11 1-16 1-3 1 3" stroke="#ff5a00"/>
<path d="M1 0l1-3 1-7 1 8 1 6 1 2 1 14 1 3 1-8 1-4 1 3 1-2 1 5 1-6 1-7 1 9 1-8 1 7 1-12 1-1 1-6 1 9 1-4 1-6 1 1 1 13 1-2 1 4 1-4 1 2 1 3 1 15 1 5 1 5 1 5 1 9 1-1 1 1 1-7" stroke="#ff9f00"/>
<path d="M1 0l1 18 1-5 1-18 1 2 1 1 1-9 1-1 1-2 1 0 1 2 1 7 1-5 1 3 1 0 1 2 1-4 1 1 1 10 1-1 1-6 1-4 1-8 1-10 1 8 1-3 1-5 1 1 1-5 1 0 1-2 1-5 1-4 1 2 1-6 1-3 1 5 1 3 1-4" stroke="#d5ff00"/>
<path d="M1 0l1-3 1 2 1 7 1-8 1 6 1-5 1 6 1 3 1-6 1-3 1-14 1-1 1-1 1-1 1-1 1 2 1-9 1 3 1-1 1-1 1 1 1-8 1 5 1-5 1-4 1 9 1-1 1-2 1-6 1 5 1-8 1-4 1 6 1-4 1 8 1-4 1-10 1-3" stroke="#ffb400"/>
<path d="M1 0l1 4 1-3 1 16 1 1 1-1 1 8 1 11 1-7 1 7 1-10 1 15 1-13 1 19 1 4 1 4 1 0 1 5 1-6 1 19 1-3 1 13 1 3 1 6 1 3 1-5 1 9 1-7 1 0 1-1 1-3 1-16 1 8 1-10 1-3 1 7 1-5 1-14 1-3" stroke="#e3ff00"/>
<path d="M1 0l1 13 1-2 1 0 1 1 1-2 1 1 1-2 1-4 1 2 1 4 1-1 1-3 1 1 1 2 1-2 1 3 1 2 1-2 1 1 1 0 1-2 1 0 1 0 1-1 1-4 1-3 1 2 1 2 1 0 1 0 1-2 1 3 1-3 1 5 1-2 1 0 1-2 1 2" stroke="#c8ff00"/>
<path d="M1 0l1-9 1-1 1 7 1 0 1 1 1 2 1 3 1-11 1 12 1-3 1-2 1-1 1-2 1-5 1 0 1-5 1 5 1-1 1 4 1 0 1 4 1-3 1-1 1 1 1-3 1-4 1 0 1-10 1 5 1 2 1 1 1-6 1 5 1 2 1-8 1 0 1-3 1-3" stroke="#7cff00"/>
<path d="M1 0l1 8 1-3 1 0 1 8 1 1 1-2 1 3 1-1 1-1 1 1 1 7 1 1 1 4 1 3 1-2 1 0 1 0 1 2 1 1 1-7 1-2 1 0 1-2 1-4 1 2 1-2 1-1 1-6 1-1 1-4 1 0 1-18 1 4 1 0 1-3 1 3 1 1 1 0" stroke="#dcff00"/>
<path d="M1 0l1-16 1-7 1 4 1 7 1 1 1-3 1 5 1 5 1 1 1-8 1-7 1-9 1-9 1-5 1 13 1 16 1 0 1-13 1 2 1-7 1-7 1 8 1-13 1 8 1-4 1-4 1 4 1 1 1 6 1 4 1-11 1-17 1 9 1-4 1 10 1-9 1-19 1 7" stroke="#c1ff00"/>
<path d="M1 0l1-3 1-14 1 8 1-6 1-12 1-7 1 8 1-11 1 7 1 8 1-4 1-8 1 0 1-3 1 3 1 3 1-9 1-8 1-17 1 3 1 1 1-14 1 1 1-3 1-5 1 0 1 5 1-6 1-6 1-3 1-6 1 11 1 3 1 12 1 2 1-2 1 0 1-4" stroke="#53ff00"/>
<path d="M1 0l1 11 1 11 1 5 1 8 1 12 1 22 1 10 1 16 1 9 1-11 1 6 1-3 1 2 1 6 1 6 1 5 1-2 1-2 1 5 1-2 1 11 1 5 1 11 1 16 1-7 1-6 1-3 1 19 1 5 1-1 1-4 1 4 1-11 1 1 1-5 1 2 1 1 1 0" stroke="#ffa800"/>
<path d="M1 0l1-6 1-1 1 20 1-4 1-8 1-15 1 0 1-2 1 9 1-4 1-1 1 6 1-2 1 7 1-9 1 4 1 6 1-1 1-1 1 3 1-8 1 1 1 3 1-1 1-2 1 6 1-2 1-10 1 18 1 2 1 2 1-7 1-2 1-3 1-5 1 4 1-1 1 11" stroke="#00ff0d"/>
<path d="M1 0l1-24 1 7 1-6 1 8 1-9 1 19 1 1 1 3 1 3 1 12 1 19 1 16 1 5 1-11 1 3 1 5 1-16 1 15 1-8 1 22 1-9 1 5 1-6 1-20 1-12 1 10 1 17 1 4 1-3 1-10 1 4 1 15 1 11 1-10 1 2 1-23 1 4 1 3" stroke="#5aff00"/>
<path d="M1 0l1-31 1 11 1 6 1-9 1 6 1 5 1 2 1-1 1 13 1 16 1 0 1 5 1 12 1-15 1-4 1 4 1 13 1-20 1 3 1 2 1 7 1-4 1 4 1-24 1 7 1 5 1-1 1 7 1 8 1-6 1-1 1 0 1-3 1 0 1-4 1 14 1-2 1-1" stroke="#98ff00"/>
<path d="M1 0l1 8 1 3 1 1 1-23 1 2 1 16 1 0 1-13 1-5 1-16 1 11 1-5 1 3 1 2 1 18 1 3 1-17 1 8 1 5 1 16 1-14 1 9 1-6 1-7 1-2 1 2 1 7 1-11 1 14 1 10 1-7 1 4 1 4 1-9 1 4 1-6 1-5 1-1" stroke="#cfff00"/>
<path d="M1 0l1-39 1-34 1-3 1-4 1-16 1-8 1 11 1-8 1-3 1 3 1 1 1-4 1-7 1-6 1-7 1-6 1-4 1-1 1-6 1 7 1 5 1-9 1 0 1 4 1-7 1-1 1 6 1 2 1-4 1-2 1-8 1 4 1 2 1 0 1 9 1-1 1 2 1 3" stroke="#ffd600"/>
<path d="M1 0l1-7 1 25 1-8 1-1 1 1 1-3 1 6 1-6 1 6 1-10 1 7 1-12 1 3 1 2 1 0 1-8 1-18 1 3 1 6 1-1 1-13 1-5 1 2 1 0 1 14 1 0 1-6 1 17 1-10 1 13 1 9 1-5 1-21 1-8 1-1 1-7 1 5 1-3" stroke="#4cff00"/>
<path d="M1 0l1 10 1 4 1-16 1 6 1 9 1-10 1 5 1-11 1-5 1 4 1-2 1-35 1-2 1 18 1-8 1 12 1-20 1 10 1 5 1-3 1-7 1 11 1-4 1-10 1-3 1 4 1 2 1-12 1-1 1-8 1 5 1 1 1-6 1-17 1 11 1-5 1 2 1-17" stroke="#eaff00"/>
<path d="M1 0l1-1 1-7 1-9 1-1 1 6 1-8 1 9 1-10 1 1 1 10 1-25 1-4 1 0 1 3 1-8 1 3 1-9 1 2 1 0 1 5 1-7 1-2 1 3 1 7 1-3 1-5 1-11 1-5 1 2 1-2 1 1 1 7 1 1 1-4 1-1 1-2 1 0 1-3" stroke="#ffcf00"/>
<path d="M1 0l1 15 1-4 1-1 1-4 1 2 1 7 1 0 1-2 1 4 1 3 1 1 1 3 1-3 1-3 1 1 1 0 1-5 1 4 1-8 1 0 1 5 1 0 1 4 1-3 1 1 1 1 1-1 1 1 1-1 1-11 1-3 1-1 1 0 1-6 1-1 1 1 1-4 1 4" stroke="#83ff00"/>
<path d="M1 0l1 15 1 4 1-7 1 0 1 9 1-13 1-3 1 5 1-3 1 11 1 3 1-7 1 5 1 13 1-16 1 2 1 5 1 2 1 0 1-13 1 0 1 0 1-4 1 2 1-8 1-16 1 2 1 2 1-2 1 0 1 1 1 3 1-7 1 4 1 3 1-16 1 6 1 0" stroke="#8aff00"/>
<path d="M1 0l1-25 1 5 1-28 1 3 1 6 1 12 1 4 1 0 1-2 1 0 1-10 1-4 1-4 1 4 1-4 1-1 1-10 1 6 1-10 1-2 1-4 1 3 1-13 1-9 1 8 1-10 1-1 1 3 1-7 1-1 1 1 1 10 1 1 1-16 1 8 1 9 1-3 1-10" stroke="#baff00"/>
<path d="M1 0l1 9 1 6 1 3 1 0 1 1 1 2 1-1 1-3 1 1 1-1 1 1 1 13 1 4 1 2 1-3 1-3 1-1 1-1 1 1 1-4 1 1 1-1 1-3 1 2 1 2 1-3 1-2 1-2 1-4 1 4 1-2 1 10 1-5 1 0 1-1 1-4 1-1 1-2" stroke="#ffc200"/>
<path d="M1 0l1 17 1-5 1 3 1 4 1-7 1 7 1-2 1 7 1-1 1 1 1 1 1-1 1-2 1 3 1 0 1-1 1 3 1 0 1-2 1-1 1 7 1-5 1-8 1 3 1 2 1-3 1 4 1-7 1 0 1 3 1 2 1-9 1-1 1 2 1 0 1-7 1 10 1 0" stroke="#00ff36"/>
<path d="M1 0l1 2 1-2 1-3 1-4 1 0 1 2 1-13 1 3 1-10 1 4 1 2 1 0 1-12 1 15 1-1 1 0 1 2 1 4 1 3 1-7 1-9 1 1 1-3 1-3 1 10 1-5 1-2 1-1 1 4 1-7 1 4 1-4 1-4 1-6 1-1 1 6 1 5 1 5" stroke="#61ff00"/>
<path d="M1 0l1 8 1 1 1 9 1 8 1-1 1 3 1 9 1-9 1-6 1 13 1-2 1 7 1 1 1-4 1-3 1-7 1 4 1-3 1-8 1 25 1 10 1-12 1 3 1 14 1-8 1-1 1-6 1 5 1 10 1 9 1 7 1 0 1-1 1 7 1-7 1 4 1 10 1-5" stroke="#6fff00"/>
<path d="M1 0l1 6 1 6 1-8 1-1 1-1 1-5 1 6 1-5 1 1 1 6 1-2 1-3 1 5 1-8 1-6 1 1 1-10 1 0 1 3 1 13 1-1 1-2 1 2 1 11 1 8 1-6 1-7 1 4 1 6 1-7 1-6 1 2 1-2 1-5 1 7 1-1 1 13 1-7" stroke="#75ff00"/>
<path d="M1 0l1-21 1 17 1 8 1-8 1-4 1-5 1-8 1 2 1 0 1 6 1 5 1-1 1-10 1-7 1-1 1 0 1-4 1 18 1 0 1-3 1 7 1-4 1-12 1 1 1 2 1-5 1-1 1 4 1-1 1-2 1 6 1 1 1 3 1-3 1 5 1 0 1 8 1-15" stroke="#9fff00"/>
<path d="M1 0l1 0 1-2 1 0 1-9 1 3 1 0 1-4 1 2 1-9 1 2 1-3 1 8 1-7 1-2 1 9 1-14 1 0 1-1 1 12 1 4 1 1 1-6 1 1 1 2 1-1 1-1 1-3 1 1 1 8 1-2 1 4 1-3 1-5 1-3 1-1 1-13 1 4 1 0" stroke="#1cff00"/>
<path d="M1 0l1 12 1 2 1 10 1-4 1 2 1-11 1-3 1-7 1-24 1 3 1 2 1 6 1 6 1 1 1 8 1 4 1-2 1 11 1-11 1 4 1-25 1 3 1 4 1 10 1-4 1-16 1 8 1-6 1-8 1 1 1-23 1 4 1-6 1-3 1-6 1-6 1-4 1 4" stroke="#0fff00"/>
<path d="M1 0l1 1 1 15 1-1 1-5 1 0 1 7 1-10 1-1 1 11 1-2 1 5 1 12 1 3 1 4 1 7 1-7 1 6 1-13 1-2 1 5 1 2 1 4 1 10 1 2 1 2 1-4 1 6 1 8 1-10 1-1 1 0 1-3 1 0 1-4 1-1 1 4 1 2 1-1" stroke="#00ff14"/>
<path d="M1 0l1 12 1-19 1 5 1 7 1 17 1 5 1 3 1 27 1-13 1 3 1 9 1-2 1-3 1 4 1 1 1 3 1 9 1-3 1 8 1-17 1 13 1-7 1-8 1 0 1-23 1 2 1-1 1-5 1 13 1-12 1 1 1-14 1 12 1 6 1 2 1-20 1 20 1 2" stroke="#15ff00"/>
<path d="M1 0l1 15 1 7 1 4 1 11 1 25 1 31 1 8 1 1 1 9 1 12 1 13 1-5 1-9 1-8 1 15 1-8 1-5 1-3 1 2 1 4 1-14 1 9 1 3 1-3 1 9 1 1 1 8 1 10 1-3 1-8 1 5 1 9 1 4 1-7 1 2 1 1 1-7 1 7" stroke="#05ff00"/>
<path d="M1 0l1-16 1-12 1-10 1-6 1-8 1-9 1-3 1-8 1-10 1-19 1-7 1 6 1-1 1-5 1 13 1-3 1-3 1-17 1-8 1-2 1-7 1 2 1 1 1-1 1 0 1 2 1 10 1 9 1 0 1-3 1-3 1 2 1 7 1 6 1 6 1 4 1 5 1 1" stroke="#05ff00"/>
<path d="M1 0l1-17 1 11 1-17 1-3 1-2 1 5 1-1 1-2 1-13 1 5 1 14 1-17 1 4 1 0 1 3 1 11 1 36 1 3 1-4 1-7 1 41 1-4 1-15 1 1 1 4 1 23 1-27 1 1 1 3 1-8 1-20 1 8 1 11 1-1 1 13 1-11 1-16 1 14" stroke="#2aff00"/>
<path d="M1 0l1-29 1 22 1-5 1 2 1 1 1 2 1-1 1 26 1-1 1 12 1 5 1-4 1-6 1-3 1 8 1-6 1-4 1-1 1-11 1 9 1-4 1-7 1 8 1-12 1 0 1-2 1 0 1 2 1-6 1 2 1 13 1 0 1 11 1-10 1 1 1-4 1 1 1-20" stroke="#45ff00"/>
<path d="M1 0l1 11 1 1 1 9 1-6 1-3 1-1 1-19 1 2 1-7 1-11 1 2 1 4 1-10 1-2 1 4 1 3 1 8 1-10 1 5 1-7 1 6 1 0 1 0 1 6 1-3 1 5 1-9 1-10 1 0 1 7 1-3 1-1 1 4 1-3 1-14 1-12 1 12 1-9" stroke="#00ff06"/>
<path d="M1 0l1 4 1 11 1 3 1 7 1 6 1 5 1 7 1 3 1 15 1-14 1-4 1 5 1 12 1 7 1 14 1 7 1-13 1-8 1 1 1 4 1-1 1 12 1 1 1-5 1 4 1 8 1 14 1 8 1 12 1-39 1-11 1-4 1-1 1 21 1 10 1 10 1 10 1 0" stroke="#33ff00"/>
<path d="M1 0l1 1 1 1 1-12 1 0 1 0 1-18 1 7 1-1 1-8 1 7 1-1 1 1 1 14 1 1 1-1 1-4 1 1 1 4 1-2 1-4 1 1 1 1 1 15 1 7 1-3 1 0 1 7 1-5 1-2 1 13 1 5 1-4 1-2 1 4 1-9 1 0 1 18 1-6" stroke="#3fff00"/>
<path d="M1 0l1-8 1 4 1-4 1 30 1 18 1 4 1-5 1-20 1 7 1 4 1 0 1-4 1 0 1-9 1-4 1 3 1 9 1-3 1-7 1-2 1 0 1 9 1-3 1-1 1-1 1-3 1 7 1 20 1 2 1-2 1 15 1 1 1 4 1-7 1-5 1-5 1-11 1-7" stroke="#91ff00"/>
<path d="M1 0l1 5 1 7 1 9 1-2 1 4 1-17 1-8 1 0 1-14 1 5 1 7 1-2 1 4 1-28 1 6 1 5 1-4 1 8 1 2 1 7 1 2 1 12 1-1 1-8 1 4 1-2 1-10 1 2 1 5 1-3 1-11 1 3 1-1 1-14 1 5 1-6 1-25 1-22" stroke="#68ff00"/>
<path d="M1 0l1-4 1 8 1-4 1-3 1-3 1 7 1 3 1 0 1-1 1 1 1 1 1 3 1 5 1 6 1 2 1-4 1-7 1 2 1 0 1 2 1-2 1 0 1 3 1 4 1-3 1 1 1-3 1-1 1 5 1-3 1 3 1 6 1 10 1 4 1 3 1-3 1 5 1 11" stroke="#00ff44"/>
<path d="M1 0l1-5 1-9 1 0 1-11 1 4 1 17 1-18 1-4 1 6 1 10 1 9 1-4 1-10 1 5 1 2 1-7 1 0 1 2 1-4 1 7 1-3 1 5 1 5 1-4 1-3 1 1 1 2 1 5 1-12 1-2 1-4 1-7 1 6 1 4 1-4 1-5 1-10 1 12" stroke="#00ff2f"/>
<path d="M1 0l1-12 1 26 1-18 1 0 1 4 1 0 1-1 1 3 1-3 1 17 1 8 1-9 1-6 1-1 1-3 1-7 1-2 1-7 1-4 1 0 1-5 1-7 1 7 1 15 1 5 1-7 1 12 1-4 1 7 1-12 1 1 1 8 1 5 1-2 1 3 1-5 1 2 1 13" stroke="#08ff00"/>
<path d="M1 0l1-20 1-18 1-3 1-12 1-20 1 2 1-1 1 1 1 0 1 4 1-10 1 1 1 3 1-11 1-1 1-3 1 4 1-1 1-3 1 0 1 4 1 19 1 2 1-5 1-1 1 2 1 0 1 1 1 1 1 6 1 1 1 12 1-4 1-7 1-2 1-26 1-19 1-11" stroke="#33ff00"/>
<path d="M1 0l1 1 1-4 1 2 1-5 1 1 1 2 1 7 1-6 1-2 1 4 1-4 1-2 1-17 1-18 1 8 1-1 1-4 1 9 1 3 1 2 1 3 1 1 1-1 1 3 1-2 1-6 1-4 1 3 1-2 1-11 1-1 1-1 1-5 1 8 1-5 1-11 1 17 1-7" stroke="#00ff99"/>
<path d="M1 0l1-5 1-3 1 8 1 3 1 5 1 3 1-9 1 4 1-5 1 5 1-4 1 2 1-7 1 3 1 0 1-11 1-13 1 0 1-1 1 3 1 0 1-16 1-2 1-14 1 0 1-5 1 0 1-4 1-8 1 10 1 1 1-5 1 2 1-12 1-2 1-10 1 4 1-1" stroke="#38ff00"/>
<path d="M1 0l1-4 1 0 1-7 1 0 1-8 1-7 1-2 1-4 1 11 1 2 1 11 1-7 1 1 1 7 1 3 1 7 1-1 1 1 1-15 1 10 1-10 1-6 1-1 1-4 1-1 1-3 1-7 1-2 1 2 1 11 1-6 1 2 1 7 1 12 1-2 1-13 1 14 1 3" stroke="#00bdff"/>
<path d="M1 0l1 0 1 15 1 0 1-3 1-17 1 1 1 0 1-5 1 3 1 0 1 2 1 3 1-6 1 0 1 8 1 9 1-1 1 11 1-12 1-10 1-6 1-3 1 8 1 2 1-1 1-9 1 0 1 5 1-6 1-1 1-7 1-20 1 0 1 8 1 0 1 4 1 24 1-2" stroke="#00efff"/>
<path d="M1 0l1 16 1-4 1 3 1-9 1 7 1 5 1-1 1 11 1-6 1 3 1-7 1 8 1-6 1 20 1 0 1 0 1 1 1-11 1-2 1-3 1 0 1-8 1 3 1-1 1 0 1 2 1 2 1 2 1-4 1-1 1-3 1-7 1 1 1-3 1 7 1-6 1 8 1-1" stroke="#00ff1b"/>
<path d="M1 0l1 15 1 0 1-6 1-1 1-6 1 2 1-5 1-1 1 10 1-26 1 3 1 6 1 7 1 1 1 2 1 4 1 2 1 10 1 2 1-7 1 11 1-8 1 7 1-7 1-14 1-3 1 6 1-1 1 6 1-6 1 3 1 4 1-4 1 4 1-1 1 3 1-11 1-7" stroke="#31ff00"/>
<path d="M1 0l1 0 1 12 1 0 1-3 1 13 1 7 1 0 1 1 1 9 1 1 1-17 1 11 1 1 1 7 1-2 1-1 1-8 1 2 1 10 1-2 1 5 1 1 1-6 1-1 1-16 1 3 1-3 1-1 1 16 1-6 1 8 1 2 1-2 1 5 1-12 1 5 1 8 1-3" stroke="#00ffa1"/>
<path d="M1 0l1 11 1 2 1-1 1-4 1-1 1-4 1 1 1-1 1 1 1 0 1 5 1-2 1-10 1 0 1-1 1 1 1-2 1-4 1-3 1 8 1 3 1-4 1 7 1-1 1 0 1 1 1 3 1 1 1-2 1 3 1 5 1 1 1-2 1-1 1-2 1 1 1-1 1 4" stroke="#00ff3d"/>
<path d="M1 0l1-7 1-6 1-5 1 0 1 11 1 2 1-7 1 4 1 2 1-15 1 6 1-11 1-2 1 4 1 4 1 11 1-19 1 2 1-1 1 10 1 0 1 0 1 4 1 1 1 0 1-8 1 2 1 3 1-4 1 11 1-10 1-1 1 8 1-3 1 13 1 2 1 1 1 4" stroke="#00ffdc"/>
<path d="M1 0l1-1 1-16 1 9 1-9 1-5 1-2 1-8 1-7 1 10 1 6 1-2 1 9 1-1 1 8 1 6 1-12 1 21 1-13 1-4 1-9 1-5 1 0 1 16 1 4 1-2 1-5 1-1 1-2 1-1 1 1 1-6 1 21 1 1 1 5 1 0 1 8 1 8 1 11" stroke="#00adff"/>
<path d="M1 0l1-18 1-3 1-2 1 5 1 3 1-11 1-1 1 6 1 8 1-5 1 3 1-1 1-5 1-4 1-2 1-5 1-2 1 2 1-13 1-4 1 10 1-1 1-4 1-1 1 0 1-11 1-11 1 5 1 2 1-5 1 0 1 3 1 4 1 0 1 14 1-7 1-19 1-5" stroke="#00ff7f"/>
<path d="M1 0l1-22 1-4 1 12 1-1 1-9 1 0 1 6 1-1 1 2 1 2 1-1 1-12 1 7 1 2 1 3 1 5 1-6 1-1 1 2 1 5 1-3 1-3 1 6 1 1 1-5 1-3 1 9 1-1 1 3 1 1 1-7 1-9 1 5 1 1 1-3 1-3 1 7 1 13" stroke="#00ffaa"/>
<path d="M1 0l1-2 1 5 1 3 1 3 1-5 1-2 1 3 1 2 1-3 1 4 1 5 1 7 1 1 1-4 1-8 1-2 1-2 1 0 1 5 1-7 1 5 1 3 1 12 1 1 1 1 1-1 1-1 1-3 1 2 1-2 1 0 1-2 1-10 1-1 1 3 1-1 1 8 1-4" stroke="#00ff28"/>
<path d="M1 0l1 5 1 10 1-11 1 8 1 18 1-4 1-7 1-8 1 5 1 0 1-7 1 1 1-7 1 8 1-1 1 7 1-12 1 6 1 1 1 10 1 5 1 1 1-3 1 2 1-10 1 23 1 10 1-4 1-1 1 3 1 2 1-4 1 4 1-9 1-2 1-1 1 7 1 14" stroke="#00ff6e"/>
<path d="M1 0l1 11 1-2 1 6 1-7 1-11 1 2 1 6 1 7 1-3 1-4 1-2 1 5 1 2 1-4 1-1 1 6 1-1 1 4 1-5 1 3 1 2 1 3 1 1 1-9 1 8 1-11 1-2 1-3 1-6 1-6 1 0 1-9 1-17 1-5 1 3 1 0 1-2 1 8" stroke="#00ff77"/>
<path d="M1 0l1 9 1-4 1 0 1-3 1-4 1 2 1 5 1-10 1-4 1-3 1 7 1 1 1 11 1 0 1-2 1 3 1 2 1-9 1-6 1-4 1 8 1-3 1-8 1 1 1-1 1 0 1-17 1 7 1 3 1-7 1 3 1 4 1-4 1 7 1 4 1-14 1 13 1-11" stroke="#00ff51"/>
<path d="M1 0l1-11 1 8 1 4 1-1 1-6 1 3 1-14 1-4 1 5 1-1 1-5 1-1 1-14 1-10 1 1 1 0 1 8 1 1 1 3 1-1 1-5 1-10 1 5 1-8 1-5 1-3 1-7 1-2 1-1 1 0 1 3 1-15 1 7 1 8 1 10 1-4 1 10 1-3" stroke="#01ff00"/>
<path d="M1 0l1 7 1 7 1 2 1-3 1 1 1 0 1 0 1 0 1 2 1 2 1-2 1 0 1 1 1 1 1-1 1-2 1 0 1 3 1 2 1 2 1 5 1 0 1-2 1 1 1-2 1 0 1 1 1 4 1 0 1-1 1 0 1-2 1 3 1-4 1-2 1-1 1 1 1-2" stroke="#00ffc3"/>
<path d="M1 0l1-3 1 3 1 4 1-2 1-1 1-1 1 1 1-5 1 3 1 3 1-3 1 4 1-6 1 1 1-2 1 2 1-1 1-7 1 2 1-1 1 7 1-1 1-1 1-7 1 8 1-8 1 2 1 1 1 2 1-5 1 6 1-5 1 4 1 9 1 5 1-9 1-1 1 8" stroke="#00deff"/>
<path d="M1 0l1-5 1 6 1 7 1-7 1-3 1-1 1-2 1 2 1-3 1 1 1-5 1-17 1 3 1 1 1-7 1 5 1 0 1-1 1-3 1 4 1-2 1-3 1 4 1-8 1 6 1 1 1-4 1-2 1 3 1-5 1-3 1-1 1 0 1 4 1-6 1-5 1 1 1 10" stroke="#00ff5f"/>
<path d="M1 0l1-31 1 0 1-3 1-1 1 2 1 4 1-4 1-5 1-5 1 0 1-4 1 6 1 1 1-1 1-1 1 4 1 3 1 3 1-6 1 6 1-9 1 8 1-4 1 0 1-2 1-3 1-6 1-7 1 0 1-2 1 14 1 1 1 0 1-14 1 1 1-3 1 2 1 15" stroke="#00ff58"/>
<path d="M1 0l1-18 1 0 1 4 1 2 1 3 1 4 1-5 1-3 1 6 1-1 1-6 1 7 1-1 1 7 1-6 1 13 1-6 1-1 1-10 1-3 1 4 1 6 1-2 1-1 1-6 1 2 1-2 1 2 1 2 1 4 1-3 1 5 1 2 1-4 1 1 1 2 1 8 1 15" stroke="#00ffcb"/>
<path d="M1 0l1-4 1-3 1 4 1 6 1 13 1-7 1 0 1 7 1-5 1 1 1-2 1 21 1-3 1-6 1 5 1 8 1-1 1 0 1 0 1 0 1 4 1 9 1-2 1-8 1 1 1-8 1 0 1 3 1-5 1 1 1 2 1-3 1-4 1 16 1-5 1 0 1-1 1 8" stroke="#00ff66"/>
<path d="M1 0l1-5 1-36 1-4 1 1 1-8 1-4 1 6 1 4 1 31 1-4 1-24 1 17 1 0 1-6 1-6 1-5 1 7 1 9 1 7 1-24 1 17 1-5 1-6 1 6 1-3 1 2 1 4 1-18 1 16 1 26 1-16 1-17 1-6 1-4 1-2 1 17 1-6 1-17" stroke="#23ff00"/>
<path d="M1 0l1 14 1-5 1 5 1-2 1-6 1-11 1 4 1 3 1 2 1-4 1 1 1 8 1-1 1-3 1 6 1 2 1-3 1 11 1-2 1 5 1-7 1-6 1-9 1 18 1 7 1 2 1 1 1-1 1-2 1 7 1 1 1-9 1 5 1 6 1 19 1-9 1 7 1 6" stroke="#00ff88"/>
<path d="M1 0l1 6 1 13 1-7 1-7 1 2 1 6 1-4 1-1 1-1 1 12 1-4 1-7 1-8 1 1 1-8 1 1 1 0 1 1 1-2 1-1 1-3 1-1 1-1 1 3 1-2 1 11 1-9 1 7 1 3 1-2 1-3 1-1 1-5 1 4 1-1 1-4 1 7 1-13" stroke="#00ffed"/>
<path d="M1 0l1 17 1 1 1-8 1 2 1-9 1 4 1 0 1 2 1-9 1 3 1 6 1 6 1-16 1 7 1-12 1 1 1 4 1 4 1 3 1-10 1-14 1 5 1 9 1 9 1 1 1-12 1 4 1 2 1 4 1-3 1-4 1-11 1 7 1 1 1 4 1-6 1 5 1-6" stroke="#00c5ff"/>
<path d="M1 0l1-15 1 0 1 9 1-17 1 8 1 4 1 2 1 9 1-2 1-2 1 3 1 2 1 0 1 4 1-3 1-7 1 7 1 4 1-4 1 16 1-1 1 9 1 7 1-10 1 5 1 12 1-2 1 2 1-6 1 1 1-1 1 25 1-1 1 7 1-3 1-6 1-5 1-3" stroke="#00ff4b"/>
<path d="M1 0l1 4 1 2 1-3 1-7 1 3 1 7 1 2 1 11 1 0 1 5 1-3 1-1 1 2 1-3 1 6 1-10 1-1 1 2 1 1 1-7 1-10 1-6 1 1 1 3 1-14 1 11 1 22 1 1 1 8 1-25 1 3 1-6 1 14 1-7 1-5 1 9 1-3 1 4" stroke="#00ff21"/>
<path d="M1 0l1 12 1-1 1-8 1 6 1-6 1 12 1-5 1 2 1 4 1 2 1 6 1 1 1-9 1-2 1-14 1 10 1-6 1 2 1 6 1-17 1-7 1 15 1-5 1 3 1 4 1 1 1-1 1 7 1 7 1 10 1-6 1-9 1 21 1-10 1-20 1-8 1-9 1-17" stroke="#0034ff"/>
<path d="M1 0l1-21 1 12 1-1 1-20 1-26 1-3 1-4 1 3 1 21 1 13 1 10 1-20 1-5 1-12 1-16 1-12 1 1 1-9 1 14 1-17 1 32 1 6 1 16 1 5 1-21 1 23 1 7 1-18 1 8 1 0 1-9 1-8 1-13 1-4 1-7 1 4 1-6 1-8" stroke="#00ffe5"/>
<path d="M1 0l1 8 1-13 1-5 1-1 1-8 1-8 1 11 1 14 1 4 1 3 1 13 1 6 1-24 1-5 1-14 1-8 1 2 1 6 1 9 1-10 1-15 1 2 1 0 1 5 1 2 1-12 1-10 1 9 1 2 1 4 1-15 1 11 1-9 1 23 1-2 1-2 1-7 1 1" stroke="#00ffd4"/>
<path d="M1 0l1-11 1 1 1 3 1-11 1 5 1 3 1 1 1 6 1-1 1 2 1 2 1 12 1 8 1 7 1 1 1-1 1 4 1 0 1-4 1 7 1-4 1-8 1-10 1-4 1 20 1-8 1 16 1 0 1 2 1 6 1 0 1 13 1-1 1-5 1 3 1 0 1 5 1 7" stroke="#00fff5"/>
<path d="M1 0l1 16 1-4 1 2 1 6 1 7 1 1 1-8 1 8 1-21 1 3 1 21 1 0 1-2 1 8 1-5 1 5 1-18 1 7 1 1 1 5 1 5 1-1 1 3 1 0 1-16 1-9 1 4 1-5 1-3 1-1 1 3 1-3 1-2 1 2 1-2 1-3 1-5 1 3" stroke="#00ff90"/>
<path d="M1 0l1-5 1-3 1 10 1-4 1 16 1 1 1-1 1-4 1 6 1-5 1 0 1-5 1 5 1-1 1-4 1 1 1 3 1 2 1-2 1-3 1 1 1-5 1 0 1-3 1 0 1 2 1-15 1-3 1 6 1-2 1-4 1-9 1-5 1-1 1-2 1-5 1-3 1 2" stroke="#00a7ff"/>
<path d="M1 0l1-14 1 14 1 4 1-2 1-8 1 26 1 1 1-3 1-1 1-5 1 0 1-18 1 3 1-3 1 4 1 9 1-3 1-2 1-5 1-6 1 3 1 4 1 9 1 0 1 2 1 9 1 2 1 2 1 1 1-9 1 1 1-7 1 6 1 8 1-6 1-17 1-16 1-5" stroke="#00ffb2"/>
<path d="M1 0l1 6 1-2 1 1 1 6 1 5 1-6 1-2 1 1 1-4 1 1 1 7 1-14 1 3 1-6 1-3 1 5 1 4 1-5 1 4 1 7 1-7 1-1 1 4 1 0 1-4 1-2 1 6 1 0 1 3 1 4 1-2 1-2 1-1 1-3 1 2 1 3 1 6 1-5" stroke="#00e7ff"/>
<path d="M1 0l1 5 1-6 1-3 1-12 1 4 1 0 1-8 1 9 1-7 1-3 1 3 1 0 1 2 1 21 1-4 1 8 1-14 1-3 1 3 1 6 1-4 1 1 1-2 1-3 1-11 1 9 1-18 1 1 1 2 1 6 1-6 1-1 1 1 1 2 1-1 1-2 1 4 1-1" stroke="#00fffe"/>
<path d="M1 0l1-2 1-13 1 7 1 4 1-2 1 8 1 4 1-2 1 10 1 8 1 3 1 5 1 0 1 0 1-13 1 5 1-8 1-14 1 1 1 3 1-3 1 5 1 0 1-7 1 1 1 1 1 5 1 8 1 2 1-7 1 3 1-6 1-1 1-3 1-4 1-6 1 22 1-3" stroke="#00b4ff"/>
<path d="M1 0l1-8 1-9 1-8 1 2 1 4 1 2 1-5 1 2 1 1 1 2 1 8 1-4 1 3 1 2 1 0 1 1 1-8 1-3 1 0 1 10 1-16 1 1 1 6 1-10 1 1 1 1 1-2 1 3 1 2 1 3 1-6 1-4 1-2 1-9 1-6 1-3 1-18 1-5" stroke="#00ffba"/>
<path d="M1 0l1-7 1 2 1-3 1 7 1-3 1 8 1-1 1 2 1 0 1-2 1 2 1-6 1 13 1 5 1-1 1 5 1 10 1-3 1-3 1 1 1-6 1 0 1 3 1 0 1-4 1-4 1-5 1 9 1 0 1-2 1-2 1 2 1-2 1-2 1-5 1-1 1-5 1 1" stroke="#0008ff"/>
<path d="M1 0l1-1 1 3 1 6 1-1 1 2 1-4 1-6 1 8 1 1 1-1 1 0 1 22 1-1 1 5 1 0 1 0 1-12 1 2 1 0 1-4 1 5 1-3 1 1 1 13 1 1 1-4 1-2 1 3 1 0 1-2 1-1 1 8 1-4 1 3 1-4 1 7 1-22 1 10" stroke="#006eff"/>
<path d="M1 0l1 9 1-1 1 0 1 0 1-1 1 5 1 3 1-4 1-3 1 1 1-1 1-15 1 5 1-1 1-4 1-1 1 1 1 1 1-3 1 0 1 1 1 0 1-1 1 6 1 2 1-4 1-1 1 4 1 4 1 2 1 4 1-1 1-3 1-4 1-2 1 8 1 0 1-4" stroke="#00a1ff"/>
<path d="M1 0l1-19 1-7 1-6 1-9 1 0 1-5 1-6 1 0 1-4 1-3 1 4 1-3 1-6 1 2 1 3 1-3 1 0 1 9 1 1 1-4 1-6 1-2 1-3 1-6 1 1 1-3 1 6 1-8 1 0 1-4 1-3 1 3 1 1 1 6 1-5 1 3 1-3 1 4" stroke="#1400ff"/>
<path d="M1 0l1 5 1-2 1-1 1 3 1-16 1 1 1-2 1 1 1 6 1-10 1 0 1 9 1 3 1-7 1-4 1-1 1-10 1 7 1-8 1-4 1 5 1 3 1-5 1 3 1 1 1 5 1 15 1-1 1-11 1 1 1 9 1-3 1-2 1-8 1 14 1-7 1 0 1-4" stroke="#00d6ff"/>
<path d="M1 0l1 0 1 0 1-5 1-4 1-18 1 7 1 4 1 9 1 3 1-6 1-1 1 2 1 1 1-18 1 6 1 3 1-6 1 7 1-10 1 3 1-3 1 1 1-4 1 1 1 5 1-15 1 8 1-7 1 0 1 2 1-4 1-3 1 0 1-8 1 18 1 11 1-4 1-7" stroke="#00cdff"/>
<path d="M1 0l1 2 1 2 1-9 1 7 1-10 1-19 1 11 1 0 1-6 1-4 1-13 1-9 1-1 1 10 1-3 1 1 1 1 1-4 1 9 1-5 1-4 1 0 1-4 1 6 1 5 1-2 1 1 1 8 1-1 1 3 1 8 1-14 1 3 1 3 1 21 1-6 1 1 1 14" stroke="#0061ff"/>
<path d="M1 0l1 11 1-16 1 0 1-6 1 4 1-1 1 6 1-3 1 1 1 6 1 0 1-2 1 3 1 4 1 0 1 2 1 10 1-7 1-12 1 11 1-4 1 2 1-3 1 13 1-1 1-4 1-3 1-1 1 1 1-1 1-3 1 4 1-3 1-2 1-5 1 1 1-8 1 8" stroke="#0014ff"/>
<path d="M1 0l1-9 1-9 1-7 1-2 1-4 1 2 1-6 1 2 1-5 1 5 1-2 1 4 1-3 1 2 1-4 1 2 1 8 1 0 1 0 1 4 1-4 1-2 1-4 1-2 1 1 1-2 1 3 1 3 1 4 1 2 1-3 1 5 1 5 1 1 1-1 1-5 1 5 1 6" stroke="#0074ff"/>
<path d="M1 0l1-49 1-49 1 23 1 12 1 9 1 5 1 5 1 4 1 6 1 0 1 5 1 1 1 6 1-4 1 2 1 3 1 4 1-1 1 1 1 1 1 1 1 4 1-3 1 0 1 0 1-1 1 5 1-12 1 8 1 8 1 8 1-4 1 0 1-4 1-3 1-1 1 0 1 1" stroke="#00ffff"/>
<path d="M1 0l1-9 1 2 1 2 1 8 1 3 1-13 1-10 1 9 1-1 1-8 1 4 1 2 1 2 1-3 1 2 1-2 1 4 1-4 1-1 1-1 1-10 1-1 1-6 1-2 1 9 1 1 1-2 1-7 1 4 1-3 1 2 1-7 1-3 1-6 1 2 1-7 1-5 1 1" stroke="#0087ff"/>
<path d="M1 0l1 8 1-1 1-1 1-3 1-7 1 3 1-11 1 0 1-3 1 1 1 1 1-5 1 6 1 2 1 3 1-1 1 4 1 1 1-5 1-4 1-3 1 1 1 0 1 1 1 10 1-1 1-9 1-2 1-1 1 4 1-1 1-3 1 2 1 3 1-2 1 2 1-5 1 2" stroke="#005bff"/>
<path d="M1 0l1 2 1-8 1-4 1 11 1 18 1 0 1 3 1-5 1 6 1 10 1-22 1-2 1-5 1-3 1 4 1 0 1-5 1-2 1-5 1-3 1-8 1 1 1-4 1 2 1-1 1 7 1-5 1-1 1 1 1-1 1 1 1 0 1-4 1 2 1 1 1 7 1-2 1 2" stroke="#009aff"/>
<path d="M1 0l1 4 1 1 1 3 1-4 1 10 1-5 1 4 1-4 1 12 1-5 1 3 1-1 1-4 1-5 1-3 1-1 1-3 1-4 1-4 1 0 1 1 1 0 1-8 1-7 1 4 1 0 1-2 1 4 1-5 1-2 1 1 1-1 1-4 1 10 1-12 1 1 1-8 1-1" stroke="#00f8ff"/>
<path d="M1 0l1-21 1-1 1-1 1-4 1 2 1 6 1-2 1 7 1-4 1-1 1-4 1-1 1-9 1-4 1 4 1-3 1 3 1-2 1 0 1 4 1 0 1 5 1 6 1-1 1-10 1 8 1-7 1-5 1 21 1 3 1 0 1 6 1 4 1 6 1-4 1 19 1-5 1 25" stroke="#0021ff"/>
<path d="M1 0l1-8 1 1 1-6 1 2 1 4 1-7 1-4 1-3 1 5 1-4 1-8 1-3 1-5 1 1 1 1 1-10 1 0 1-1 1 4 1-4 1 8 1-2 1-1 1-1 1-4 1 9 1 5 1 0 1 1 1 0 1 8 1 2 1 6 1 4 1-3 1-7 1 0 1 4" stroke="#0047ff"/>
<path d="M1 0l1-24 1 11 1 3 1-6 1 3 1-7 1-9 1 7 1 3 1 2 1-4 1-1 1 5 1 7 1 20 1-8 1 0 1-7 1-6 1-15 1 3 1-6 1 7 1 8 1 8 1 1 1-6 1 5 1-7 1-2 1 2 1-8 1-8 1-8 1 6 1-1 1-8 1 1" stroke="#0028ff"/>
<path d="M1 0l1 7 1 9 1-3 1 0 1 1 1-7 1 5 1-5 1-5 1 2 1-7 1-3 1 0 1 5 1 4 1 1 1-4 1 6 1 0 1 1 1-9 1-4 1-2 1 0 1 0 1-5 1-12 1 3 1-6 1 2 1 0 1 1 1-7 1-1 1 0 1 8 1 4 1 1" stroke="#0067ff"/>
<path d="M1 0l1 7 1 4 1 10 1 1 1-3 1 7 1-10 1 7 1-2 1-4 1 13 1-9 1 1 1-5 1-2 1-8 1 11 1-1 1-3 1 9 1 5 1-1 1 4 1-2 1-1 1 2 1 2 1 0 1-11 1 5 1-6 1 2 1-5 1 1 1-4 1 4 1-6 1 2" stroke="#0094ff"/>
<path d="M1 0l1 5 1 10 1 10 1-2 1-6 1-3 1-3 1 0 1 3 1 4 1 2 1-2 1 5 1 11 1 2 1-4 1 4 1 7 1-2 1 1 1-13 1-18 1 9 1 3 1 3 1-2 1 1 1 3 1 9 1 0 1 2 1-6 1 2 1-10 1 3 1 2 1 4 1-3" stroke="#000eff"/>
<path d="M1 0l1 8 1 2 1-14 1 14 1-2 1 8 1-5 1 7 1-3 1-3 1 2 1 0 1-4 1-24 1-8 1-3 1 4 1-11 1-2 1 0 1 18 1 8 1-1 1 0 1 1 1-10 1-8 1 1 1 6 1-12 1 6 1 8 1-4 1 1 1-15 1 7 1-3 1 16" stroke="#007aff"/>
<path d="M1 0l1 2 1 3 1-2 1 6 1-1 1 0 1-3 1 1 1 5 1 2 1-10 1-4 1 1 1-9 1-2 1 2 1 1 1 11 1-4 1 12 1 5 1 1 1-2 1-1 1-5 1-6 1 3 1-4 1 4 1-3 1 2 1-1 1-4 1-4 1 3 1 1 1-3 1 1" stroke="#0001ff"/>
<path d="M1 0l1 14 1-6 1 6 1-8 1 2 1 12 1-1 1-5 1-1 1 3 1-1 1 3 1-1 1 8 1-1 1 1 1 0 1 1 1-1 1 2 1-1 1 1 1 1 1-1 1-1 1 1 1 0 1 1 1-2 1 10 1-6 1 1 1 3 1-1 1 5 1 0 1 12 1 4" stroke="#3200ff"/>
<path d="M1 0l1 4 1-2 1 0 1-6 1 0 1-3 1-2 1 0 1 0 1 0 1 1 1 3 1-2 1-1 1-2 1 4 1-2 1 0 1-2 1 1 1-2 1 1 1 0 1 0 1 2 1-1 1 0 1 0 1-1 1 0 1 1 1-1 1-1 1-5 1 2 1-1 1 0 1 5" stroke="#9100ff"/>
<path d="M1 0l1 6 1 3 1 4 1-6 1-1 1 3 1 0 1 3 1 2 1-1 1-2 1 2 1 5 1-3 1 1 1 3 1-6 1 3 1-12 1-2 1-1 1 2 1-1 1-3 1-4 1-1 1 6 1 11 1 4 1 6 1-4 1 4 1-3 1 5 1 4 1 2 1 9 1 8" stroke="#1200ff"/>
<path d="M1 0l1-5 1-1 1 2 1 3 1-3 1 0 1 1 1-4 1 1 1-1 1 1 1-1 1 0 1 3 1-1 1-5 1 1 1-1 1-5 1 3 1-2 1-6 1-1 1-2 1 6 1-6 1 0 1 4 1-5 1 0 1-3 1-5 1-4 1 4 1 0 1 4 1-4 1 0" stroke="#1800ff"/>
<path d="M1 0l1-8 1-2 1-2 1 4 1-10 1-3 1-11 1 0 1-1 1 4 1 6 1-4 1-3 1 0 1-3 1 0 1-3 1-4 1 0 1 0 1-11 1 1 1 1 1-4 1-7 1 0 1 0 1-5 1 5 1 5 1 1 1-7 1-4 1-3 1-3 1 1 1 0 1 1" stroke="#1f00ff"/>
<path d="M1 0l1 4 1-3 1 3 1 2 1-1 1 0 1-3 1-4 1 7 1 0 1 4 1-2 1-2 1 3 1-3 1 3 1 0 1-2 1 0 1 7 1-8 1 0 1 7 1-1 1 0 1-4 1 1 1-1 1-4 1-10 1 8 1 2 1-6 1 7 1-4 1 5 1 2 1 2" stroke="#3e00ff"/>
<path d="M1 0l1-2 1-1 1-1 1 0 1 3 1 0 1 0 1 0 1 5 1-1 1 2 1-6 1 5 1-1 1 3 1 4 1 3 1 0 1 3 1 2 1 0 1-1 1 0 1-1 1 3 1 1 1 5 1-2 1 0 1-3 1-2 1 0 1 0 1-2 1 4 1 0 1 1 1 1" stroke="#c700ff"/>
<path d="M1 0l1-4 1 4 1 4 1-4 1 8 1 0 1 2 1 1 1 4 1-6 1-2 1-2 1-3 1 0 1 2 1 9 1 0 1 1 1-1 1 3 1 3 1 6 1-2 1 3 1-1 1-4 1-1 1-2 1 0 1 7 1-3 1 3 1-12 1-3 1-1 1 7 1-2 1-3" stroke="#0041ff"/>
<path d="M1 0l1-1 1 0 1 3 1 2 1-4 1 0 1-8 1-3 1-3 1 1 1-1 1 4 1-2 1 3 1-5 1 4 1 1 1-2 1 3 1-4 1-2 1 0 1 1 1 0 1-5 1-1 1-5 1-4 1-3 1-1 1 1 1-6 1-1 1 6 1-3 1 3 1 5 1-7" stroke="#7f00ff"/>
<path d="M1 0l1-4 1-9 1 2 1 2 1-3 1 6 1-1 1 0 1 3 1 1 1 6 1 4 1-2 1 1 1 1 1 5 1-2 1 2 1 3 1 3 1 3 1 2 1 3 1-2 1-2 1-2 1 0 1 1 1 1 1-1 1 2 1 0 1 1 1 0 1-1 1 1 1-2 1-3" stroke="#6d00ff"/>
<path d="M1 0l1-9 1 5 1 2 1 4 1 0 1 6 1-1 1-4 1-4 1-6 1 2 1-6 1-2 1 2 1 3 1 6 1 4 1-1 1-5 1 7 1 1 1 0 1-1 1 4 1 3 1 3 1-5 1-7 1 5 1-3 1 10 1 1 1 3 1-12 1 2 1-1 1-3 1 1" stroke="#ac00ff"/>
<path d="M1 0l1 4 1-10 1 0 1 1 1-6 1 3 1 1 1 8 1 7 1 7 1 3 1 1 1 1 1-1 1 1 1-4 1 2 1-2 1 2 1-6 1 0 1 0 1 1 1 1 1 0 1-2 1 7 1 5 1 0 1 3 1 2 1 5 1-10 1-3 1 3 1-1 1 0 1 3" stroke="#001bff"/>
<path d="M1 0l1 1 1 0 1 6 1 0 1-1 1 0 1-3 1 0 1 0 1 6 1 3 1 0 1-1 1 3 1 0 1 1 1-1 1-3 1-11 1 0 1-7 1-4 1-2 1 0 1-5 1 1 1 1 1 3 1 1 1 0 1 7 1-1 1-1 1 4 1 4 1-1 1 2 1 2" stroke="#8800ff"/>
<path d="M1 0l1 13 1 0 1 7 1 0 1 0 1-8 1-4 1 2 1 0 1-1 1-2 1-2 1-3 1 0 1 2 1-2 1 1 1 2 1-3 1 2 1-4 1 1 1 3 1 2 1-2 1 4 1-3 1 1 1 5 1-1 1-3 1 3 1-6 1-6 1 3 1-15 1-1 1 1" stroke="#004eff"/>
<path d="M1 0l1-6 1 3 1-3 1 2 1 0 1 1 1 1 1 2 1-1 1 2 1 1 1 5 1 7 1 2 1-7 1 2 1 3 1-6 1-5 1 1 1-6 1 1 1-8 1 6 1 2 1 3 1-1 1 1 1-6 1-3 1-2 1 0 1 0 1 3 1 1 1 1 1-1 1-3" stroke="#0081ff"/>
<path d="M1 0l1-5 1 5 1 0 1 4 1-2 1-10 1 1 1-6 1-10 1 2 1 1 1-8 1-1 1 4 1 5 1-4 1 2 1 3 1-2 1 1 1 2 1 1 1 4 1 12 1-5 1 3 1 0 1 1 1 10 1-3 1 1 1-4 1-4 1-2 1 2 1 5 1-8 1-11" stroke="#0054ff"/>
<path d="M1 0l1 9 1 4 1 6 1 3 1 1 1-15 1 1 1 3 1 2 1 1 1-6 1 4 1-6 1-3 1-1 1-8 1 8 1 1 1 1 1-4 1 2 1 1 1 0 1-4 1-2 1 2 1-4 1 1 1-7 1-1 1 3 1-1 1-9 1 13 1 0 1 1 1-2 1 3" stroke="#5200ff"/>
<path d="M1 0l1-7 1 0 1-3 1-13 1 2 1 0 1-1 1 3 1-4 1 8 1-7 1 12 1 2 1-14 1 0 1 16 1-5 1 5 1 1 1 1 1-7 1 5 1-1 1 0 1 3 1 2 1 2 1 4 1-2 1 0 1 0 1 8 1-2 1-1 1 2 1-4 1 4 1-6" stroke="#002eff"/>
<path d="M1 0l1 2 1 7 1-1 1 10 1-1 1 2 1 5 1 3 1-1 1-2 1 6 1-1 1-4 1 13 1-1 1-6 1 0 1-3 1 2 1-6 1-5 1 5 1-12 1 2 1-1 1 7 1-8 1 7 1 4 1 4 1 19 1 1 1-1 1-8 1 8 1-5 1-8 1 4" stroke="#0500ff"/>
<path d="M1 0l1 1 1-2 1-4 1 3 1 5 1 0 1-2 1-5 1-1 1-3 1-2 1 15 1-4 1 2 1-4 1 0 1 0 1 5 1 2 1-1 1 0 1 2 1-2 1 4 1 2 1 3 1-7 1 0 1-5 1 3 1-6 1-2 1 1 1 2 1-6 1 0 1-2 1-1" stroke="#5b00ff"/>
<path d="M1 0l1 4 1 3 1 3 1 7 1 4 1 1 1-3 1-2 1 4 1 1 1-5 1 0 1 2 1 0 1 0 1 2 1-2 1 0 1-1 1 1 1 6 1-8 1 1 1 3 1-2 1-4 1 2 1-2 1-2 1 0 1 3 1-3 1 0 1-1 1-2 1 0 1 3 1-3" stroke="#008eff"/>
<path d="M1 0l1 1 1 3 1-2 1 0 1 4 1 0 1 3 1-1 1-1 1 1 1-1 1-7 1 6 1 1 1-1 1 0 1-1 1-3 1 1 1-1 1-2 1 3 1 2 1 1 1 0 1 2 1-1 1-5 1 0 1 1 1 1 1 2 1 2 1 4 1-6 1-3 1 0 1-2" stroke="#4b00ff"/>
<path d="M1 0l1 11 1 3 1 0 1 0 1 2 1-3 1 8 1-3 1 0 1 3 1-2 1-1 1 7 1 3 1-3 1-1 1 6 1-3 1-4 1 1 1-1 1 0 1-1 1-1 1 1 1-3 1 1 1 1 1 2 1 1 1-2 1-1 1 0 1 2 1 1 1 7 1-2 1-2" stroke="#0b00ff"/>
<path d="M1 0l1-34 1-3 1 3 1-3 1-11 1 8 1-4 1 2 1 1 1-3 1-6 1 5 1 0 1 10 1-1 1-1 1-7 1 0 1 10 1 5 1-5 1 0 1-6 1 13 1-3 1-4 1 5 1-14 1 1 1 7 1 2 1-6 1 0 1-1 1-5 1-2 1 0 1 4" stroke="#2500ff"/>
<path d="M1 0l1 3 1 0 1-11 1-1 1 2 1 3 1 4 1 0 1 0 1-3 1 6 1-2 1-1 1 9 1-1 1-3 1 1 1 1 1 1 1-4 1 4 1-1 1-4 1-2 1 0 1-6 1 0 1-4 1 5 1-3 1-2 1-3 1 5 1-1 1 2 1 6 1 7 1-5" stroke="#b500ff"/>
<path d="M1 0l1 14 1 1 1-2 1 2 1 3 1-2 1-1 1-3 1-1 1-1 1 1 1-3 1 4 1-2 1-2 1-2 1 3 1-1 1 0 1 1 1-3 1-1 1 2 1-3 1 4 1 0 1 2 1-5 1-3 1 0 1 1 1-2 1-4 1 0 1-1 1-1 1 2 1-4" stroke="#a300ff"/>
<path d="M1 0l1-5 1-1 1 4 1 4 1 2 1-1 1 1 1 2 1 3 1 1 1 0 1-2 1-2 1 1 1 0 1-1 1 1 1 1 1 1 1 2 1 0 1 4 1 0 1 1 1 1 1 3 1 1 1 2 1 1 1-2 1 2 1 2 1 0 1 2 1-4 1 4 1 0 1-1" stroke="#be00ff"/>
<path d="M1 0l1 4 1-1 1 1 1 2 1-2 1-1 1 1 1 6 1-1 1-1 1 0 1-1 1-2 1 2 1-4 1-2 1 5 1-2 1 1 1 2 1-4 1 4 1 1 1-2 1-3 1-1 1 2 1 1 1-1 1 3 1 0 1 0 1 5 1 0 1 2 1-3 1 0 1 2" stroke="#e200ff"/>
<path d="M1 0l1-10 1-2 1-16 1 3 1 6 1-9 1 3 1 0 1-3 1-2 1-1 1-1 1 1 1-4 1 0 1-1 1 14 1-2 1-4 1 0 1 1 1-3 1-1 1 5 1-1 1 3 1 11 1-3 1 6 1-4 1-2 1 5 1-5 1-2 1 9 1-7 1 0 1 1" stroke="#9a00ff"/>
<path d="M1 0l1-3 1-1 1-3 1-3 1 2 1 0 1-1 1 8 1-6 1 0 1 1 1 2 1 0 1-7 1 0 1 4 1 1 1 1 1 0 1 2 1-2 1-1 1 1 1 2 1-2 1 1 1-6 1 1 1 1 1 1 1-2 1 3 1-2 1-1 1-1 1-2 1 0 1-6" stroke="#7600ff"/>
<path d="M1 0l1 7 1-6 1-3 1-8 1 5 1-9 1 0 1 5 1-4 1 1 1 3 1-3 1-4 1 4 1 8 1-1 1 2 1-6 1 4 1 1 1-4 1-6 1 2 1-8 1-5 1-2 1 0 1-1 1 4 1 2 1 0 1-1 1 1 1 0 1 0 1 8 1-5 1-4" stroke="#003bff"/>
<path d="M1 0l1 1 1 1 1-4 1-1 1 1 1 0 1-7 1 3 1 0 1 0 1 3 1-3 1 1 1 0 1 4 1 4 1-4 1 5 1-1 1-2 1 0 1 0 1 0 1 3 1-1 1-1 1 0 1-2 1 0 1 3 1-1 1 5 1-3 1 11 1-3 1 0 1 0 1 0" stroke="#3800ff"/>
<path d="M1 0l1 2 1-9 1 1 1 1 1 1 1 6 1 1 1-1 1 0 1 0 1-1 1 1 1-1 1 2 1-4 1 0 1-7 1 5 1 0 1-1 1 3 1 4 1-1 1 2 1 1 1-2 1 2 1-2 1-4 1-3 1-1 1 2 1-2 1-4 1 4 1-6 1 0 1-2" stroke="#d000ff"/>
<path d="M1 0l1 1 1-5 1-1 1-3 1 4 1 3 1 8 1 0 1 4 1 0 1 1 1-5 1 0 1 9 1 1 1-1 1-3 1-4 1-5 1-3 1-1 1-3 1 3 1-3 1 6 1-5 1 6 1 5 1 1 1-6 1-3 1 0 1-5 1 0 1-3 1 7 1-2 1 0" stroke="#4500ff"/>
<path d="M1 0l1-2 1-1 1-1 1-2 1-4 1-1 1 8 1 3 1 4 1-2 1 6 1 3 1 1 1 12 1 3 1 4 1-8 1 0 1 4 1 3 1 0 1-5 1 4 1-5 1 2 1 4 1 3 1-3 1 1 1-1 1 3 1-3 1-2 1 2 1 2 1 0 1 2 1-3" stroke="#2b00ff"/>
<path d="M1 0l1-4 1 1 1-3 1 3 1-1 1-1 1 3 1-1 1-3 1 3 1 0 1 2 1 2 1-2 1 1 1-3 1 5 1-2 1 2 1 1 1 2 1-6 1-1 1 0 1 0 1-3 1 1 1-3 1-3 1 4 1 4 1-1 1-2 1 4 1 3 1-3 1-2 1 4" stroke="#d900ff"/>
<path d="M1 0l1-2 1 0 1-1 1-2 1 3 1 4 1 6 1-2 1 2 1 0 1 3 1-2 1-2 1-2 1 1 1-3 1-1 1-3 1 3 1-2 1 3 1 0 1 1 1 1 1-1 1 0 1 4 1-3 1 1 1 3 1 0 1 0 1-3 1 6 1-5 1 5 1 4 1-3" stroke="#6400ff"/>
</g>
<rect x="325.9" y="4.9" width="218.6" height="170.4" fill="none" stroke="#555" stroke-width="1.3"/>
<line x1="328.7" y1="175.3" x2="328.7" y2="178.5" stroke="#333" stroke-width="1"/>
<text x="328.7" y="186.9" class="tk" text-anchor="middle">0</text>
<line x1="381.9" y1="175.3" x2="381.9" y2="178.5" stroke="#333" stroke-width="1"/>
<text x="381.9" y="186.9" class="tk" text-anchor="middle">10</text>
<line x1="435.2" y1="175.3" x2="435.2" y2="178.5" stroke="#333" stroke-width="1"/>
<text x="435.2" y="186.9" class="tk" text-anchor="middle">20</text>
<line x1="488.5" y1="175.3" x2="488.5" y2="178.5" stroke="#333" stroke-width="1"/>
<text x="488.5" y="186.9" class="tk" text-anchor="middle">30</text>
<line x1="541.8" y1="175.3" x2="541.8" y2="178.5" stroke="#333" stroke-width="1"/>
<text x="541.8" y="186.9" class="tk" text-anchor="middle">40</text>
<line x1="322.7" y1="160.8" x2="325.9" y2="160.8" stroke="#333" stroke-width="1"/>
<text x="319.6" y="160.8" class="tk" text-anchor="middle" transform="rotate(-90 319.6 160.8)">−4</text>
<line x1="322.7" y1="122.7" x2="325.9" y2="122.7" stroke="#333" stroke-width="1"/>
<text x="319.6" y="122.7" class="tk" text-anchor="middle" transform="rotate(-90 319.6 122.7)">−2</text>
<line x1="322.7" y1="84.6" x2="325.9" y2="84.6" stroke="#333" stroke-width="1"/>
<text x="319.6" y="84.6" class="tk" text-anchor="middle" transform="rotate(-90 319.6 84.6)">0</text>
<line x1="322.7" y1="46.5" x2="325.9" y2="46.5" stroke="#333" stroke-width="1"/>
<text x="319.6" y="46.5" class="tk" text-anchor="middle" transform="rotate(-90 319.6 46.5)">2</text>
<line x1="322.7" y1="8.4" x2="325.9" y2="8.4" stroke="#333" stroke-width="1"/>
<text x="319.6" y="8.4" class="tk" text-anchor="middle" transform="rotate(-90 319.6 8.4)">4</text>
<text x="435.2" y="203.6" class="ttl" text-anchor="middle">Ten−minute interval</text>
<text x="304.3" y="90.1" class="ttl" text-anchor="middle" transform="rotate(-90 304.3 90.1)">Intradaily cumulative return</text>
<text x="404.3" y="222.8" class="cap" textLength="41.6" lengthAdjust="spacing">(<tspan font-weight="bold">b</tspan>) IBM</text>
<g class="cv" transform="translate(36.77 347.40) scale(5.327 0.5)">
<path d="M1 0l1-15 1 1 1 5 1 5 1 4 1 2 1-2 1 2 1 0 1 1 1 5 1 0 1 6 1 7 1-2 1 6 1 7 1-3 1-1 1 37 1 4 1-2 1-8 1-2 1 3 1 5 1 4 1-4 1-6 1 0 1 1 1 8 1-7 1 10 1 0 1 3 1-9 1 4" stroke="#ff1200"/>
<path d="M1 0l1 5 1-5 1-10 1 13 1-4 1-1 1-6 1 9 1-4 1-4 1 16 1-15 1 4 1-6 1-4 1 0 1-17 1 7 1-2 1 5 1 3 1 24 1-11 1 8 1-1 1 0 1 1 1-11 1 2 1-7 1-9 1-11 1-8 1-4 1-5 1 6 1-21 1 14" stroke="#ff4800"/>
<path d="M1 0l1 8 1-8 1 1 1-5 1 1 1 4 1 1 1 1 1-6 1 9 1-2 1-4 1 2 1 0 1-6 1 0 1 2 1-7 1 4 1-3 1 1 1 3 1 1 1 5 1-5 1 5 1 0 1 1 1-7 1 3 1 12 1-3 1-6 1-1 1 7 1 4 1 4 1-3" stroke="#ff0900"/>
<path d="M1 0l1-2 1 1 1 1 1 1 1 2 1 0 1-4 1-3 1-1 1-5 1-3 1 5 1 2 1 1 1 0 1-1 1 1 1-1 1-3 1-1 1 0 1-1 1 0 1-1 1 1 1 4 1 1 1 3 1 2 1 0 1-5 1 2 1 1 1 0 1 1 1 4 1 7 1-4" stroke="#ff5a00"/>
<path d="M1 0l1 4 1-4 1-1 1 3 1-1 1 0 1 10 1-5 1 5 1-2 1 7 1-3 1-4 1-2 1 6 1-8 1 1 1 3 1-8 1-10 1-7 1 32 1 0 1 5 1-3 1-4 1-21 1 5 1-10 1-11 1 3 1-5 1-1 1-10 1 16 1 0 1-9 1 12" stroke="#ff0000"/>
<path d="M1 0l1 31 1 16 1 10 1 3 1-8 1-5 1 7 1 5 1 4 1 6 1 7 1 9 1 4 1 6 1 3 1-2 1 3 1 5 1 6 1 2 1 3 1 4 1-6 1-1 1-7 1-10 1-1 1 0 1-4 1-5 1-3 1-1 1-4 1-1 1 2 1-1 1 2 1-6" stroke="#ff0000"/>
<path d="M1 0l1 19 1 2 1-9 1-6 1-4 1 3 1 3 1 5 1 3 1 7 1-8 1 0 1 0 1 2 1 1 1-11 1-12 1-3 1-3 1 17 1 6 1-9 1 1 1-1 1-3 1 8 1 6 1 1 1 5 1-7 1 1 1-5 1-2 1 0 1-5 1 6 1-9 1-11" stroke="#ff3600"/>
<path d="M1 0l1-77 1 27 1 20 1 2 1 14 1 2 1 6 1 4 1 10 1 3 1 5 1-13 1 1 1 3 1 6 1 7 1 4 1 0 1 4 1-2 1 3 1 2 1-5 1 5 1 3 1 1 1-6 1 4 1 4 1 1 1 2 1-4 1-3 1 0 1-3 1 12 1-5 1 4" stroke="#ff0000"/>
<path d="M1 0l1-1 1 4 1 6 1-10 1 17 1-3 1 8 1-9 1 5 1 5 1-1 1 5 1 5 1 0 1-7 1-1 1-10 1-4 1 5 1 7 1 4 1-7 1-8 1 1 1-12 1 8 1 3 1-2 1-23 1 1 1-2 1-6 1 1 1 2 1 13 1 1 1-8 1-6" stroke="#ff1b00"/>
<path d="M1 0l1 29 1-5 1-4 1 0 1 9 1-4 1 10 1-5 1-8 1-4 1 13 1 11 1-4 1-35 1-2 1 9 1 0 1-8 1 4 1 24 1 4 1-8 1-12 1-1 1-12 1-4 1-3 1 7 1-6 1-6 1-22 1 12 1-5 1-4 1 12 1 2 1-13 1 3" stroke="#ff8b00"/>
<path d="M1 0l1 7 1 4 1-1 1 1 1-3 1-7 1 3 1 4 1-2 1-1 1 12 1-5 1 1 1-1 1-1 1 5 1 1 1 4 1-6 1 8 1 3 1 2 1-5 1 1 1 1 1 14 1-6 1 6 1 4 1-6 1-1 1 2 1 6 1-6 1 5 1 11 1 4 1-1" stroke="#ff2400"/>
<path d="M1 0l1-10 1-2 1 4 1 3 1-1 1-4 1 10 1 1 1-2 1 0 1-4 1-6 1 1 1 0 1-3 1-1 1-1 1-1 1 4 1 1 1-7 1 0 1-1 1 7 1-9 1 10 1 2 1-12 1 5 1 3 1-3 1-17 1-1 1 18 1-6 1-1 1 0 1-8" stroke="#ff9200"/>
<path d="M1 0l1-3 1 6 1 6 1 2 1 6 1-12 1 3 1-4 1-5 1-18 1 16 1-8 1 2 1 5 1-1 1-2 1-2 1 2 1 0 1-7 1 3 1-5 1 4 1-5 1 14 1-22 1 3 1-5 1-12 1-5 1 16 1 16 1 11 1-12 1 10 1-5 1 14 1-1" stroke="#ff9900"/>
<path d="M1 0l1-1 1-5 1-7 1-5 1 7 1 23 1 4 1-6 1-18 1-4 1 11 1-6 1-7 1-1 1 13 1-3 1-3 1 6 1-3 1 11 1 2 1 1 1 13 1-11 1 4 1 6 1-9 1-18 1-5 1-1 1 1 1 6 1-7 1-1 1 12 1-3 1-11 1-9" stroke="#ff2d00"/>
<path d="M1 0l1-6 1 7 1 10 1-9 1 5 1-1 1 13 1 1 1 5 1 1 1 6 1-5 1 1 1-5 1-14 1 5 1 1 1-3 1 2 1 9 1 4 1 4 1 2 1 5 1-2 1 1 1 2 1 4 1 3 1-1 1 0 1-2 1-2 1-3 1-5 1 1 1-5 1 1" stroke="#ff6c00"/>
<path d="M1 0l1 14 1-2 1 10 1-7 1-1 1 1 1-7 1 3 1 0 1-5 1 5 1 8 1 4 1-4 1 4 1-1 1-4 1 7 1-2 1-1 1-3 1-8 1 8 1 0 1 1 1-2 1 1 1 3 1 1 1-5 1 4 1-8 1 2 1-9 1-7 1 5 1-6 1-4" stroke="#ff7d00"/>
<path d="M1 0l1 19 1 10 1 6 1 0 1-4 1 3 1-10 1-4 1 6 1-10 1 2 1 5 1-4 1 19 1-21 1-1 1-9 1 2 1 16 1-4 1 13 1-18 1-2 1-26 1-4 1 12 1 2 1-3 1-8 1-7 1 2 1-11 1-3 1 4 1 2 1 19 1-12 1 0" stroke="#ffc900"/>
<path d="M1 0l1 23 1-1 1 10 1 7 1 9 1-13 1 13 1-1 1 1 1-4 1-4 1 1 1 6 1-2 1-2 1 2 1-1 1-1 1-1 1-3 1 3 1-1 1-3 1-9 1 1 1 4 1-6 1-7 1 1 1-12 1-2 1 9 1-7 1 9 1 0 1-19 1-3 1 8" stroke="#ffc200"/>
<path d="M1 0l1-12 1-7 1 34 1 12 1 0 1-1 1-6 1-1 1-2 1-1 1-11 1 2 1 7 1-10 1-5 1 7 1 5 1-1 1-2 1 1 1 3 1 5 1 4 1 8 1-9 1 19 1-5 1 16 1 2 1-11 1 16 1-2 1 12 1 0 1 3 1-1 1-10 1 38" stroke="#fff900"/>
<path d="M1 0l1-4 1-7 1-4 1-5 1 3 1 5 1-9 1 7 1 7 1 1 1 1 1 2 1-1 1-5 1 9 1-24 1 5 1-1 1 10 1-9 1-3 1 3 1-9 1 1 1-2 1-5 1-8 1 1 1 5 1-5 1 6 1-2 1 1 1-3 1-3 1-9 1-2 1-14" stroke="#ff5100"/>
<path d="M1 0l1 1 1 14 1-5 1 8 1-8 1-4 1-9 1 2 1-5 1 9 1 1 1 5 1-2 1-4 1 1 1 1 1-3 1 4 1 1 1-4 1-3 1-10 1 10 1 5 1-12 1 4 1 2 1 17 1-11 1 5 1 9 1-5 1-7 1 7 1 0 1 13 1-9 1 36" stroke="#ffa600"/>
<path d="M1 0l1-18 1-8 1 6 1-16 1 2 1 19 1-5 1-2 1 17 1-5 1-1 1-9 1-2 1 19 1 3 1 3 1-1 1 8 1-1 1 2 1 1 1 16 1 10 1-3 1 3 1-12 1 15 1 12 1-13 1-9 1-2 1 20 1 2 1-4 1 0 1 1 1-1 1 2" stroke="#cfff00"/>
<path d="M1 0l1 0 1 3 1-3 1-6 1 3 1-1 1-19 1-3 1 6 1-3 1-8 1 4 1 1 1 0 1 3 1 10 1 1 1 7 1 0 1 3 1 2 1-3 1 2 1-9 1-1 1-4 1-4 1-1 1 1 1 1 1 8 1 7 1-11 1 2 1 1 1 2 1-7 1 7" stroke="#ff8400"/>
<path d="M1 0l1-15 1-11 1-10 1-8 1-6 1-2 1-4 1-5 1 3 1-1 1 0 1 12 1-3 1 1 1-12 1 8 1 2 1 21 1-2 1-3 1-11 1-5 1 10 1-4 1-2 1 19 1 12 1 9 1 9 1-1 1-11 1 6 1-2 1 4 1-4 1 3 1 4 1 2" stroke="#ff7500"/>
<path d="M1 0l1 14 1 3 1-1 1-2 1 2 1 9 1 4 1 2 1 3 1 3 1 1 1 4 1-10 1 0 1 0 1-3 1 5 1 1 1 1 1-1 1 0 1 4 1 4 1 10 1-3 1-4 1 4 1 3 1-5 1 1 1 4 1-1 1 2 1 5 1-2 1-1 1-1 1-1" stroke="#ffbb00"/>
<path d="M1 0l1-27 1 5 1-8 1 2 1 4 1 2 1 4 1 3 1 3 1-1 1 0 1 8 1 4 1-11 1-16 1-3 1-4 1 1 1 2 1-8 1-3 1-10 1 1 1-6 1 4 1-6 1-2 1-2 1-2 1-16 1-5 1-7 1-9 1-4 1-7 1 6 1 7 1 1" stroke="#dcff00"/>
<path d="M1 0l1 6 1 5 1-6 1-5 1 2 1-2 1 2 1-2 1 12 1 0 1 10 1-4 1-4 1 1 1-4 1-2 1 6 1 0 1-7 1-3 1-6 1-21 1 18 1-4 1 12 1-3 1-6 1 2 1-5 1-1 1 3 1-5 1-17 1 5 1 6 1-10 1 10 1-9" stroke="#ffdd00"/>
<path d="M1 0l1 30 1-1 1-20 1 7 1-10 1 13 1-6 1 7 1-16 1-5 1 13 1 18 1-5 1-9 1-24 1 11 1 19 1-17 1 31 1-7 1 5 1-3 1 7 1-8 1-1 1-4 1-1 1 2 1-8 1-10 1 6 1-7 1 9 1-20 1 16 1 10 1 4 1-5" stroke="#ffff00"/>
<path d="M1 0l1-20 1 4 1 20 1 1 1 1 1 23 1-1 1-5 1-14 1-6 1 2 1-4 1 1 1 7 1 0 1-9 1-7 1 2 1 2 1 15 1-4 1 6 1 3 1 10 1-12 1 10 1 1 1 8 1-21 1 18 1-9 1 13 1-6 1-10 1 5 1 0 1 5 1-3" stroke="#ff6300"/>
<path d="M1 0l1-13 1-22 1-10 1-1 1-3 1-11 1-13 1-11 1-10 1-5 1-8 1-10 1 10 1 9 1 9 1 3 1 5 1 3 1 5 1 3 1-2 1 2 1-3 1-2 1-6 1 8 1 2 1-1 1-3 1-5 1-5 1-4 1 4 1 2 1-1 1 5 1-8 1-2" stroke="#ffa800"/>
<path d="M1 0l1 10 1 0 1 0 1-4 1-2 1 1 1-1 1 0 1 4 1-3 1 8 1-2 1-2 1-4 1-2 1 4 1 0 1-1 1-7 1-3 1-5 1-11 1-2 1-5 1 8 1-1 1 7 1 3 1-2 1 4 1-1 1-1 1 2 1-2 1 0 1-6 1-2 1 6" stroke="#ff3f00"/>
<path d="M1 0l1 17 1 0 1-9 1 4 1 14 1 2 1 8 1-3 1-9 1-9 1 8 1-4 1 2 1 12 1-5 1-13 1 8 1 3 1 4 1 1 1 3 1-5 1 10 1 10 1 4 1-13 1 5 1 13 1-7 1 0 1-11 1 1 1 21 1 13 1-16 1 13 1-4 1 0" stroke="#ffad00"/>
<path d="M1 0l1-2 1-12 1 13 1-9 1 5 1-4 1-2 1 2 1-9 1 5 1-5 1 2 1 0 1-25 1-2 1-1 1 3 1 1 1 11 1 16 1-3 1-2 1 9 1-14 1-2 1-1 1-2 1-10 1 3 1-9 1 11 1 27 1-40 1 2 1 7 1 3 1 0 1-27" stroke="#f1ff00"/>
<path d="M1 0l1-26 1-3 1 16 1-33 1 9 1-4 1-24 1 12 1 0 1 16 1 3 1-13 1 7 1-10 1-6 1 4 1 6 1 10 1 7 1 1 1-10 1 4 1-12 1-9 1 1 1 15 1-15 1 10 1-16 1-7 1-21 1 19 1-49 1-10 1 10 1-10 1 12 1 16" stroke="#f8ff00"/>
<path d="M1 0l1 12 1 2 1 1 1 11 1 4 1 8 1 1 1 9 1-3 1-5 1-1 1-1 1-2 1 6 1 4 1 1 1-3 1 3 1 8 1 6 1 4 1-6 1 5 1 2 1 3 1-6 1 6 1 1 1-1 1 8 1-6 1 3 1 11 1 12 1 8 1 6 1 6 1 6" stroke="#33ff00"/>
<path d="M1 0l1-10 1-25 1 11 1 6 1-7 1 7 1-12 1 3 1 3 1 13 1 3 1-23 1 13 1-22 1-7 1-7 1 6 1 4 1 4 1 3 1 5 1-8 1 1 1-2 1 12 1 0 1 3 1-5 1 8 1-6 1 10 1-2 1-14 1 4 1-6 1-3 1 1 1-1" stroke="#ffb400"/>
<path d="M1 0l1-10 1-4 1-5 1 5 1-3 1-3 1-4 1 7 1-8 1 3 1 8 1 17 1 6 1-17 1 1 1 13 1-13 1-4 1-13 1 8 1-7 1 5 1-16 1-2 1-10 1 12 1-18 1 27 1-20 1 2 1-4 1-1 1 2 1-17 1 7 1 8 1-17 1 22" stroke="#baff00"/>
<path d="M1 0l1-4 1-7 1-1 1 1 1 5 1 2 1 4 1-9 1 1 1 2 1-2 1 0 1 1 1 0 1 2 1 10 1-3 1 5 1-1 1 1 1-7 1-6 1-5 1-1 1-6 1 0 1-2 1-4 1-7 1 3 1 8 1 3 1 13 1 4 1-2 1 1 1-3 1 1" stroke="#38ff00"/>
<path d="M1 0l1-13 1 1 1-7 1-7 1 15 1 1 1 5 1-3 1 2 1 15 1-18 1-48 1-1 1-2 1-7 1-10 1-6 1 13 1-12 1 4 1 2 1 0 1 15 1 0 1 2 1 9 1 6 1-2 1 9 1 5 1-5 1-25 1 9 1-14 1-32 1-9 1 1 1-1" stroke="#eaff00"/>
<path d="M1 0l1-19 1-2 1 1 1-15 1 4 1-11 1 5 1 3 1-4 1-7 1 7 1-13 1 3 1-3 1 5 1-10 1-7 1 1 1 5 1-4 1-1 1-2 1 1 1-3 1 2 1-19 1-9 1 8 1-4 1 1 1 1 1-7 1 1 1-1 1 17 1-13 1-3 1 23" stroke="#d5ff00"/>
<path d="M1 0l1 10 1-7 1 4 1-2 1 17 1-9 1 10 1 7 1-4 1 7 1 7 1-9 1 5 1 3 1 2 1-10 1 4 1-7 1 0 1 2 1-4 1 6 1 3 1-6 1-2 1-5 1-11 1 1 1 2 1-1 1-7 1 1 1 0 1-15 1-1 1-1 1-7 1 1" stroke="#c1ff00"/>
<path d="M1 0l1 23 1-15 1 10 1-7 1 9 1-6 1 1 1-16 1 1 1 6 1-7 1 7 1 7 1 4 1-15 1 27 1-12 1 3 1-9 1 0 1 5 1-4 1 30 1-3 1-3 1 3 1-11 1-15 1 10 1-12 1-7 1 20 1-4 1-18 1-15 1-11 1 2 1 8" stroke="#83ff00"/>
<path d="M1 0l1 8 1 1 1-8 1 4 1-14 1-1 1-1 1-2 1-4 1 0 1 2 1-9 1-3 1 2 1-7 1-19 1-4 1-1 1 9 1-4 1 2 1 6 1 9 1-1 1 8 1 6 1 1 1-8 1-1 1 8 1-1 1-9 1 5 1-4 1-6 1 2 1 11 1 8" stroke="#c8ff00"/>
<path d="M1 0l1 22 1 1 1-4 1-8 1 4 1 3 1 4 1 15 1 1 1 8 1 3 1 8 1 11 1 8 1 5 1-4 1 3 1 9 1 6 1-9 1 0 1-1 1 8 1-16 1-5 1-5 1 15 1-10 1 0 1 2 1-2 1 0 1-5 1-1 1 4 1-8 1-6 1-5" stroke="#75ff00"/>
<path d="M1 0l1 2 1 6 1 3 1 11 1 6 1-4 1 8 1-6 1-4 1 0 1 10 1 3 1 0 1 5 1 4 1 4 1 9 1 5 1-3 1 4 1-3 1-5 1 7 1 8 1 2 1-2 1 1 1 0 1 4 1 0 1 2 1 7 1 8 1 11 1 9 1 9 1 0 1-6" stroke="#ffa800"/>
<path d="M1 0l1-29 1 11 1-3 1-1 1 9 1 8 1-3 1 3 1 7 1 2 1-8 1-6 1-3 1 0 1 3 1-11 1-12 1-2 1 20 1 1 1 6 1-21 1 6 1 6 1-1 1-11 1-2 1-2 1 8 1 6 1 9 1-3 1 1 1 9 1-14 1 4 1 20 1-2" stroke="#7cff00"/>
<path d="M1 0l1 0 1-12 1-16 1 22 1-5 1 7 1-12 1-2 1-22 1-2 1 0 1 15 1-5 1 11 1-6 1 3 1-6 1-9 1-6 1 6 1 17 1-11 1 11 1-18 1 3 1 5 1-1 1-6 1 4 1-6 1 12 1-3 1 14 1 0 1 21 1-6 1 7 1 5" stroke="#ffcf00"/>
<path d="M1 0l1 11 1-2 1-4 1-4 1 2 1 2 1-16 1 4 1-2 1-1 1 3 1-2 1 0 1 1 1 3 1-7 1 1 1-4 1-2 1 1 1-1 1 2 1 4 1 1 1 1 1 0 1 0 1-7 1-5 1 3 1-1 1-4 1-5 1 0 1 4 1 2 1-8 1-12" stroke="#e3ff00"/>
<path d="M1 0l1-8 1 2 1 15 1 12 1 9 1-5 1 9 1-9 1 9 1 0 1-8 1-7 1 25 1-6 1 2 1-13 1 2 1 15 1 11 1-8 1-8 1 1 1 6 1 28 1-18 1-1 1 0 1 5 1-10 1-4 1 3 1 15 1 7 1-2 1-7 1 9 1-2 1-5" stroke="#ffeb00"/>
<path d="M1 0l1-2 1-6 1-3 1-10 1 9 1 5 1-12 1 8 1-16 1 16 1-5 1-2 1-3 1 20 1 3 1-4 1-17 1-9 1 5 1-5 1 3 1-4 1 18 1 11 1 17 1-21 1-19 1 10 1 14 1 3 1 11 1 15 1 0 1-31 1-13 1-11 1-11 1 20" stroke="#ff9f00"/>
<path d="M1 0l1 4 1-2 1 4 1-3 1 5 1 12 1-4 1-3 1-3 1-1 1-2 1-1 1 2 1 7 1 12 1 6 1 1 1 8 1-1 1-3 1 8 1 5 1 9 1-6 1 12 1 8 1-4 1-9 1 2 1-4 1 4 1-2 1 7 1 1 1 7 1 5 1 0 1 3" stroke="#61ff00"/>
<path d="M1 0l1 18 1 4 1 6 1-2 1 10 1 5 1 2 1-1 1 1 1 3 1-1 1-1 1-1 1 9 1 4 1-3 1 4 1-4 1-6 1-3 1 2 1 7 1-5 1 4 1 1 1-3 1-1 1-2 1 5 1-5 1-2 1 2 1 7 1-1 1-6 1-6 1 5 1-6" stroke="#15ff00"/>
<path d="M1 0l1 24 1 5 1-21 1-31 1 3 1 8 1 4 1-5 1 2 1-9 1-3 1 14 1-6 1-27 1 7 1 12 1 15 1-9 1-15 1-6 1-12 1-15 1 1 1-7 1-17 1-3 1 29 1 11 1 15 1-1 1-11 1-14 1 3 1 3 1 12 1-4 1 2 1 21" stroke="#a5ff00"/>
<path d="M1 0l1-9 1-9 1 20 1-1 1 1 1-3 1-14 1 3 1 4 1-23 1 8 1 6 1-2 1-24 1 8 1 10 1-15 1 9 1 9 1-10 1-23 1 4 1-6 1-23 1-15 1-1 1 30 1-6 1 6 1 12 1 6 1 17 1-8 1-7 1 9 1-23 1-26 1 7" stroke="#5aff00"/>
<path d="M1 0l1-32 1 3 1-18 1-4 1-13 1-12 1-3 1-12 1 0 1-4 1-1 1 3 1 0 1-1 1-9 1 3 1-6 1 18 1 6 1-9 1 17 1-1 1-5 1 4 1 14 1 2 1 3 1-1 1-1 1 3 1 18 1 4 1 8 1 3 1-21 1 14 1 0 1 6" stroke="#91ff00"/>
<path d="M1 0l1 4 1 13 1-31 1 31 1-10 1 4 1 10 1-3 1-3 1 9 1-12 1 4 1 9 1-5 1-4 1 2 1 14 1 10 1-11 1 8 1 7 1-7 1-9 1 14 1-13 1 9 1-1 1 0 1-14 1 0 1 11 1 15 1 12 1-1 1 19 1 4 1-11 1-4" stroke="#98ff00"/>
<path d="M1 0l1-24 1 4 1-12 1-2 1 1 1-9 1-3 1-1 1 6 1-7 1 2 1 0 1-3 1 0 1 12 1 1 1-6 1-5 1 8 1-2 1 1 1-17 1 2 1 6 1-2 1-7 1 4 1-7 1 1 1-1 1-1 1-4 1-8 1 1 1 1 1-3 1-1 1 8" stroke="#ffe400"/>
<path d="M1 0l1 5 1-8 1-2 1-2 1 0 1 4 1 9 1-11 1-7 1 1 1-10 1 19 1 9 1-8 1 1 1-7 1-1 1-1 1 10 1-3 1-6 1 3 1 0 1 5 1-6 1 0 1-3 1-6 1-12 1 6 1 2 1 20 1 3 1-1 1-7 1 9 1-16 1-7" stroke="#3fff00"/>
<path d="M1 0l1-1 1-1 1-3 1 7 1 2 1 13 1 8 1 2 1-1 1 1 1-2 1-3 1 7 1-3 1 8 1 6 1 1 1-5 1 6 1-4 1 5 1-8 1-8 1 7 1 2 1-5 1 3 1-5 1 10 1 3 1 6 1-1 1-7 1-2 1 3 1 10 1 0 1 8" stroke="#53ff00"/>
<path d="M1 0l1-10 1 1 1 0 1 1 1-1 1-1 1-5 1-5 1-1 1 22 1-3 1-7 1 2 1-6 1 2 1 7 1 2 1 0 1-7 1-5 1 17 1-7 1 2 1 5 1 6 1-3 1 5 1 3 1 1 1-14 1 4 1-2 1-1 1 10 1 0 1-17 1 0 1-5" stroke="#acff00"/>
<path d="M1 0l1 8 1-1 1 8 1-6 1 7 1-30 1 9 1 7 1 24 1 11 1 0 1-3 1 4 1-7 1-1 1-13 1 0 1 9 1 6 1-7 1-17 1 9 1 6 1 21 1-3 1-6 1-12 1 27 1 12 1 10 1-10 1-5 1-17 1-15 1 9 1 16 1-3 1 9" stroke="#00ff6e"/>
<path d="M1 0l1-8 1-13 1-11 1-5 1-7 1-4 1-9 1-2 1-4 1-7 1-13 1-7 1-6 1 9 1 3 1-6 1 7 1-8 1-8 1 8 1 3 1 3 1 6 1 10 1-3 1-13 1-13 1-1 1-4 1-14 1-4 1 5 1 13 1 0 1-1 1-13 1-17 1-12" stroke="#05ff00"/>
<path d="M1 0l1 13 1 10 1-15 1-9 1-9 1 1 1 21 1-10 1 10 1-4 1 3 1-30 1 14 1 16 1 5 1 5 1 2 1-17 1 5 1 7 1-7 1-7 1 7 1-45 1 7 1-6 1-9 1-1 1 7 1-2 1 2 1 32 1-4 1-17 1 24 1-18 1 5 1-19" stroke="#00ff7f"/>
<path d="M1 0l1 18 1 11 1-9 1-3 1 12 1 3 1-10 1 8 1-12 1 3 1 9 1 16 1 13 1 5 1 4 1-3 1 5 1 7 1-6 1-5 1-1 1-10 1 8 1-4 1-9 1 2 1-17 1-8 1-8 1-7 1-7 1 16 1 11 1 1 1-11 1-15 1-2 1 23" stroke="#31ff00"/>
<path d="M1 0l1-13 1 0 1 16 1 4 1 11 1-6 1 8 1 1 1-7 1 17 1-32 1 12 1-7 1-16 1 0 1-1 1-15 1-3 1 19 1-15 1 2 1 6 1 18 1 3 1 4 1-19 1 17 1-10 1-12 1 6 1-13 1 33 1-7 1-4 1 23 1 2 1 32 1 8" stroke="#8aff00"/>
<path d="M1 0l1-6 1 0 1 0 1-3 1 5 1 2 1-3 1 5 1 8 1-5 1 0 1 2 1 2 1-3 1-4 1 4 1 1 1 3 1 9 1-21 1 5 1-18 1 3 1-2 1 1 1 5 1-9 1-1 1 2 1 15 1-15 1-1 1-3 1-4 1 6 1-2 1-2 1-1" stroke="#6fff00"/>
<path d="M1 0l1 0 1 4 1 4 1-5 1-1 1-8 1 2 1-3 1-1 1 1 1 2 1 12 1-6 1-6 1-7 1 6 1 11 1 25 1 12 1-2 1-1 1-1 1 8 1-2 1 14 1 5 1 4 1-3 1-7 1-1 1-2 1 16 1 10 1-2 1-4 1 1 1-1 1-5" stroke="#b3ff00"/>
<path d="M1 0l1-4 1 3 1-3 1 7 1 1 1 1 1 14 1-3 1 0 1 0 1 2 1 4 1 1 1 1 1-4 1 0 1 1 1 2 1 6 1 1 1 4 1 5 1-4 1 9 1 4 1-1 1-1 1-2 1 5 1-5 1 0 1 11 1 3 1 14 1 9 1 5 1 2 1-5" stroke="#ffd600"/>
<path d="M1 0l1 16 1 7 1 9 1 4 1-5 1 15 1-5 1 4 1 3 1-1 1 9 1 1 1 3 1 5 1 0 1 0 1-18 1-3 1 2 1-5 1-6 1 6 1-13 1 2 1-6 1-2 1 1 1 3 1 7 1-6 1 2 1 9 1 0 1 9 1 5 1-9 1-5 1 3" stroke="#fff200"/>
<path d="M1 0l1-42 1-53 1-32 1 20 1 3 1-3 1 18 1-3 1-12 1-13 1-2 1-10 1-10 1-5 1 9 1-2 1 2 1-4 1 6 1 1 1 23 1 3 1 1 1 2 1 1 1-14 1-15 1 11 1-5 1-6 1-7 1-14 1-7 1 7 1 12 1-6 1-3 1-12" stroke="#ffa800"/>
<path d="M1 0l1-1 1-4 1 3 1-6 1 6 1 0 1 7 1 0 1 2 1 9 1 2 1-4 1 1 1-8 1 0 1 12 1 9 1 7 1 1 1 10 1 5 1 8 1 3 1-19 1 2 1 0 1-2 1 2 1 3 1 0 1 0 1 6 1 3 1 19 1-6 1 3 1-8 1-8" stroke="#4cff00"/>
<path d="M1 0l1 3 1-11 1-3 1 2 1 19 1-1 1-8 1-5 1-5 1 10 1 14 1-3 1 26 1-1 1 9 1-35 1 2 1-4 1-2 1 1 1 12 1 0 1 2 1-4 1 8 1-33 1 8 1 5 1-4 1 32 1-7 1-6 1-3 1-3 1-1 1-8 1-11 1-3" stroke="#2aff00"/>
<path d="M1 0l1 2 1-10 1-10 1 7 1-21 1-10 1-10 1-4 1-2 1 12 1-3 1-1 1 0 1-4 1 3 1 10 1-3 1-2 1-3 1-4 1 0 1-7 1 2 1-11 1-10 1-1 1-3 1 1 1 11 1-7 1-1 1 4 1-8 1 7 1 0 1 4 1 7 1 13" stroke="#23ff00"/>
<path d="M1 0l1 15 1-1 1-3 1-3 1-7 1 10 1-8 1 3 1 11 1-10 1 2 1-1 1-6 1 16 1-1 1-4 1 2 1-8 1 6 1 15 1-12 1 2 1 4 1 14 1-2 1 10 1 3 1-4 1 1 1 28 1-7 1-3 1 6 1-5 1-2 1-5 1-3 1 14" stroke="#00ff06"/>
<path d="M1 0l1-24 1-4 1 9 1-11 1 7 1-3 1 10 1 17 1 1 1-5 1 8 1-1 1 1 1 2 1 7 1-22 1 5 1-2 1-14 1 2 1-16 1 9 1-16 1-11 1 16 1 5 1-9 1-2 1-14 1-2 1-2 1 5 1-2 1 17 1 7 1 12 1-4 1 1" stroke="#00ff4b"/>
<path d="M1 0l1 4 1-5 1-4 1-2 1-4 1 0 1 2 1-5 1 4 1 1 1 3 1 8 1-10 1 5 1-6 1 3 1 6 1-10 1 0 1 0 1 1 1 1 1 4 1-4 1-4 1 15 1 5 1 5 1 1 1 6 1-7 1 4 1 3 1-4 1 11 1-7 1-16 1 0" stroke="#00ff14"/>
<path d="M1 0l1-21 1 0 1-3 1-7 1-3 1 27 1 5 1 6 1-7 1 0 1-12 1-9 1-5 1 13 1 11 1 9 1 12 1 1 1 5 1 7 1-4 1 15 1 5 1 1 1-29 1 8 1-16 1 4 1 1 1 19 1 4 1-6 1 24 1-13 1 3 1-4 1-12 1-12" stroke="#68ff00"/>
<path d="M1 0l1-8 1-12 1 2 1-8 1 25 1 2 1 1 1-4 1 21 1-12 1 5 1 8 1-13 1-7 1 5 1-6 1 7 1-4 1 8 1-15 1-12 1 7 1-6 1 10 1-26 1-1 1-2 1 0 1 2 1 11 1-15 1-23 1 5 1-3 1-19 1 5 1 6 1 7" stroke="#9fff00"/>
<path d="M1 0l1-10 1-2 1-4 1-9 1-17 1-5 1 10 1 7 1 7 1 2 1-13 1 13 1 1 1-13 1-5 1 3 1 13 1-17 1 16 1-8 1-8 1-1 1 2 1 0 1-8 1-3 1 12 1-24 1 1 1-14 1 5 1 0 1-3 1-9 1 1 1-4 1 1 1-5" stroke="#1cff00"/>
<path d="M1 0l1-21 1-6 1 10 1 12 1-25 1 10 1-5 1-7 1 2 1-20 1-20 1 8 1-1 1-7 1-3 1 4 1-5 1-5 1-2 1 17 1-3 1-6 1 10 1-16 1 3 1-10 1-4 1-1 1-6 1 2 1 11 1 2 1 1 1-12 1 21 1 10 1 7 1-7" stroke="#00ff3d"/>
<path d="M1 0l1 41 1 21 1-2 1 24 1-2 1 5 1 16 1-25 1-19 1-5 1 15 1-14 1 11 1 10 1 9 1-8 1-8 1-10 1-3 1 2 1 5 1-3 1 2 1 4 1 5 1 10 1 2 1-2 1 1 1-7 1-3 1 15 1 29 1 20 1 11 1 5 1-1 1-8" stroke="#05ff00"/>
<path d="M1 0l1 10 1 1 1-1 1-1 1-12 1 1 1 3 1 2 1 3 1-7 1 0 1 13 1-4 1-1 1 0 1 7 1 10 1-1 1 1 1 5 1-19 1-7 1-8 1 5 1-11 1-7 1-18 1-2 1-9 1 2 1 2 1-8 1-12 1 5 1 3 1 21 1-5 1-10" stroke="#08ff00"/>
<path d="M1 0l1 6 1 1 1 9 1 3 1-7 1-2 1-6 1-9 1 4 1 12 1-22 1 6 1-7 1-4 1 2 1 0 1 1 1 7 1-9 1 19 1 7 1-17 1-3 1 1 1-7 1 3 1-6 1 15 1 4 1 5 1 1 1 4 1-3 1 7 1-19 1 2 1 33 1-15" stroke="#00ff58"/>
<path d="M1 0l1 1 1-6 1 0 1 3 1 5 1-18 1-7 1 10 1 9 1-1 1-3 1 1 1 15 1 1 1 7 1-3 1 0 1 15 1-5 1 7 1 8 1-2 1-3 1-11 1 4 1 4 1 5 1-12 1 4 1 5 1-2 1-13 1-6 1 1 1 4 1-6 1-2 1 5" stroke="#00ffaa"/>
<path d="M1 0l1 36 1-7 1-4 1-5 1-5 1 4 1-6 1-17 1-4 1-3 1 9 1 5 1-41 1 6 1 5 1-21 1-6 1 1 1-1 1 5 1 0 1 9 1 15 1-1 1-11 1 0 1-7 1 7 1-12 1 7 1 12 1-11 1-10 1 3 1 19 1 15 1 4 1-5" stroke="#45ff00"/>
<path d="M1 0l1 26 1 8 1 2 1-5 1 24 1 14 1 2 1-14 1-19 1-10 1 10 1-32 1 3 1 3 1 10 1-11 1-23 1 9 1 1 1-3 1-5 1 6 1 20 1-3 1 3 1 9 1 6 1 1 1-13 1-1 1 12 1 29 1 6 1 11 1-3 1 4 1 1 1-25" stroke="#00ff51"/>
<path d="M1 0l1-10 1 7 1 2 1 8 1-12 1 3 1-5 1 21 1-28 1-3 1 7 1-22 1 4 1-6 1 1 1-16 1 0 1 16 1-8 1-6 1 3 1 0 1 2 1 1 1 3 1-11 1-16 1-3 1 0 1-2 1-8 1 8 1 0 1 16 1-11 1-7 1-7 1-8" stroke="#00ffb2"/>
<path d="M1 0l1 17 1 1 1 6 1-1 1 6 1 5 1 15 1 16 1-12 1-16 1 4 1-1 1 9 1 1 1-1 1 5 1 4 1-6 1 2 1-3 1 3 1-26 1-3 1 5 1-14 1-5 1-1 1 11 1 8 1-23 1 2 1 10 1 0 1-4 1-3 1-4 1 13 1-3" stroke="#00ff90"/>
<path d="M1 0l1 19 1-9 1 3 1 14 1-3 1 1 1-4 1 6 1-24 1 8 1 1 1-10 1 0 1-3 1-9 1-2 1 10 1 5 1 14 1-21 1-10 1-22 1 7 1-1 1-2 1 6 1 2 1 2 1-6 1-2 1 1 1-2 1-11 1-11 1 2 1-10 1 11 1-2" stroke="#00ffa1"/>
<path d="M1 0l1-6 1-4 1 2 1-11 1 4 1 6 1-3 1 2 1-11 1-21 1 6 1-1 1 0 1 9 1-2 1 2 1 17 1-3 1 6 1 0 1 1 1 6 1-2 1 2 1-14 1 0 1 0 1 2 1-7 1-3 1 7 1-7 1-7 1-1 1-6 1-5 1-12 1-10" stroke="#00ff99"/>
<path d="M1 0l1 8 1-7 1-16 1 4 1-7 1-1 1-2 1 6 1 2 1 2 1 7 1 8 1 1 1-2 1-2 1-4 1 3 1-12 1-9 1 7 1-6 1-1 1 5 1 22 1-1 1 7 1-5 1 2 1-1 1 7 1-19 1 20 1 4 1-17 1-1 1-3 1-6 1-4" stroke="#00ff1b"/>
<path d="M1 0l1-23 1 2 1-7 1 5 1 7 1 5 1-2 1-1 1-17 1-6 1 14 1-1 1-3 1 14 1 5 1 2 1-7 1-6 1-15 1-3 1 2 1-10 1-24 1 4 1 1 1 23 1-3 1-6 1 6 1 1 1-1 1-2 1 5 1-5 1-10 1 2 1 9 1-2" stroke="#00ff0d"/>
<path d="M1 0l1 21 1-12 1-6 1-2 1-5 1 3 1 7 1-3 1-10 1-1 1-1 1-2 1 8 1 4 1 6 1 3 1-5 1-10 1 6 1 3 1-14 1 2 1 4 1 2 1-4 1-7 1-2 1-7 1 12 1 3 1-4 1 3 1-7 1-5 1-10 1 5 1 6 1 8" stroke="#00ffed"/>
<path d="M1 0l1-29 1 27 1 14 1-9 1 0 1-37 1-1 1 5 1 0 1 6 1-12 1 11 1 10 1-10 1 12 1 3 1-6 1-3 1-12 1 19 1 0 1 8 1 0 1-50 1 22 1-23 1 56 1-1 1-12 1-25 1-2 1 7 1 24 1-2 1 14 1-18 1 8 1 8" stroke="#00ff36"/>
<path d="M1 0l1 0 1-6 1 1 1 7 1-12 1-41 1 0 1-3 1-18 1 22 1-1 1 5 1-7 1 16 1-2 1 1 1-38 1 16 1 12 1-13 1 16 1-15 1 11 1 6 1-5 1-4 1 0 1 21 1 3 1-3 1-3 1-7 1 8 1 6 1-3 1 14 1-8 1 19" stroke="#00ff5f"/>
<path d="M1 0l1-21 1 10 1-4 1 7 1 1 1 11 1-20 1 3 1 18 1-7 1-8 1 7 1-6 1 25 1 9 1 20 1 16 1 25 1-11 1-29 1 6 1 3 1-4 1 9 1-3 1-22 1 0 1 1 1-4 1 10 1-22 1 10 1-4 1 5 1 3 1-12 1 2 1 42" stroke="#00ff44"/>
<path d="M1 0l1-30 1 3 1-2 1 23 1-2 1-6 1-5 1-10 1-5 1 1 1 1 1 9 1 3 1 4 1 12 1 4 1-8 1-6 1-7 1 1 1 6 1 0 1 19 1-7 1-2 1 1 1 13 1-5 1-11 1 3 1 5 1-14 1-47 1 7 1-11 1-1 1 12 1-1" stroke="#00ffba"/>
<path d="M1 0l1 5 1-2 1-3 1-7 1-6 1-1 1-10 1-5 1-8 1 3 1 1 1-5 1 3 1-3 1 1 1 9 1-5 1 22 1-9 1-11 1 2 1-3 1 0 1-1 1-5 1-9 1 7 1 7 1 3 1-6 1-4 1-8 1-4 1-8 1 2 1-5 1 6 1-7" stroke="#00ff66"/>
<path d="M1 0l1 3 1-4 1-11 1 7 1-1 1 6 1-1 1 2 1 4 1 0 1-1 1 8 1 14 1 9 1 2 1 4 1 6 1-6 1 5 1 4 1-4 1 14 1-1 1 3 1 3 1 2 1-1 1-5 1-7 1-1 1-5 1-5 1 1 1-6 1 1 1-6 1 3 1 1" stroke="#00fffe"/>
<path d="M1 0l1-14 1-3 1 1 1 8 1-10 1-8 1-8 1-6 1-19 1 20 1 2 1 6 1-7 1 4 1-5 1-4 1-2 1-5 1 14 1-3 1 0 1-4 1-5 1-3 1 12 1-3 1 8 1 4 1 1 1-5 1-10 1-6 1 2 1-10 1-1 1 4 1 0 1-11" stroke="#00ff2f"/>
<path d="M1 0l1 8 1 8 1-8 1-7 1 0 1-18 1 4 1 0 1-2 1 1 1 4 1-5 1-6 1-3 1-4 1 4 1-10 1 3 1 5 1-3 1-5 1 6 1 6 1-2 1-2 1 4 1 1 1 3 1-10 1-10 1 3 1-1 1-3 1 9 1 0 1-9 1-8 1 4" stroke="#00ffcb"/>
<path d="M1 0l1-4 1-7 1 0 1-7 1 2 1 4 1-5 1-2 1-1 1-8 1 9 1-1 1-3 1 0 1 2 1 2 1-43 1 0 1-1 1 0 1-7 1 0 1 0 1 3 1 14 1-11 1-1 1-10 1 5 1-4 1 1 1-3 1-16 1-35 1 15 1 6 1 4 1-14" stroke="#0fff00"/>
<path d="M1 0l1-3 1 8 1-5 1 8 1 8 1-7 1-3 1-1 1 0 1 8 1-9 1 5 1-5 1 3 1 13 1-2 1-2 1 14 1-5 1-10 1 0 1 2 1-6 1 5 1 5 1 26 1-1 1-3 1 8 1-10 1-2 1-3 1 6 1 4 1-7 1 1 1-8 1 5" stroke="#00e7ff"/>
<path d="M1 0l1-5 1 5 1-1 1 3 1 1 1-7 1 5 1 1 1-3 1 0 1-1 1-3 1-1 1-24 1 2 1-2 1 0 1 1 1-1 1 9 1-5 1-2 1 5 1-5 1 0 1-1 1-8 1 2 1 7 1-9 1-4 1 1 1-1 1 3 1 0 1-1 1 2 1 2" stroke="#00ff88"/>
<path d="M1 0l1 16 1-8 1 23 1 23 1-31 1-1 1-3 1-21 1 2 1 0 1 3 1-20 1 2 1-1 1-20 1 2 1-13 1-5 1 8 1-9 1 12 1-7 1-3 1 6 1-1 1-17 1-10 1-2 1-3 1 16 1 4 1-4 1-7 1 3 1 17 1 5 1 16 1-22" stroke="#00ff28"/>
<path d="M1 0l1-7 1 0 1-2 1 3 1 3 1 4 1-4 1 0 1 28 1-2 1-5 1 1 1 0 1-4 1 3 1-2 1-7 1-6 1 4 1-1 1-6 1 10 1-3 1-3 1 19 1-4 1 5 1-1 1-3 1 7 1-3 1-15 1-4 1-5 1-2 1 5 1-10 1-5" stroke="#00ffc3"/>
<path d="M1 0l1-13 1 2 1-9 1-1 1 0 1 3 1 10 1 18 1-1 1 6 1-2 1 4 1 8 1-7 1-1 1-12 1-1 1-22 1 1 1-9 1-10 1 8 1-12 1-3 1-2 1 1 1 4 1-5 1-4 1 0 1-7 1-8 1-14 1 3 1 4 1-1 1 17 1-10" stroke="#00ffe5"/>
<path d="M1 0l1-5 1-40 1 6 1 20 1-14 1 26 1 1 1-12 1-13 1-6 1-4 1 1 1-25 1 26 1-18 1 4 1-16 1 20 1 3 1 6 1 7 1-6 1-5 1 0 1 23 1 9 1-19 1 17 1-25 1-2 1 10 1 15 1-4 1 9 1-6 1 0 1-8 1-2" stroke="#01ff00"/>
<path d="M1 0l1 19 1 12 1 2 1 0 1-10 1-18 1 10 1 6 1 3 1-10 1 4 1-16 1 4 1-7 1 7 1-11 1-7 1-6 1 6 1 7 1-2 1 5 1 3 1-3 1 6 1-3 1 0 1 14 1 4 1-6 1-5 1 5 1 8 1-3 1-13 1-4 1 6 1-10" stroke="#00a7ff"/>
<path d="M1 0l1 12 1-1 1-3 1 6 1 7 1-2 1-12 1-3 1-7 1 4 1 4 1-2 1 5 1 0 1 8 1-1 1 6 1 9 1-13 1 8 1 10 1-2 1 8 1-5 1 0 1 6 1 1 1-6 1 0 1-1 1 6 1 0 1 29 1-9 1-1 1 5 1 3 1-30" stroke="#00ff77"/>
<path d="M1 0l1 5 1-2 1 11 1-1 1 3 1-4 1 4 1 6 1-7 1 13 1-9 1-1 1 3 1-1 1 9 1-9 1 4 1-3 1-2 1 5 1 3 1-5 1-2 1 16 1-8 1 3 1-1 1 5 1-1 1-7 1-12 1-3 1 5 1-7 1 5 1 4 1-14 1 1" stroke="#00cdff"/>
<path d="M1 0l1-32 1-1 1 14 1-29 1 23 1-10 1 5 1-5 1 23 1 3 1 3 1 9 1 5 1-8 1 13 1-14 1 17 1 6 1 3 1-13 1-56 1 14 1-8 1-14 1-7 1 20 1 2 1 8 1-3 1 14 1 7 1 18 1-20 1 4 1-17 1 3 1 0 1-11" stroke="#00ff21"/>
<path d="M1 0l1 4 1 2 1-1 1 6 1 7 1 2 1-9 1 0 1 2 1-3 1-6 1-6 1 5 1 1 1 8 1 2 1 5 1-4 1 2 1 0 1 0 1-1 1 9 1-9 1 4 1-2 1-4 1-4 1-8 1-5 1-5 1-3 1-7 1 3 1-6 1-3 1 2 1 5" stroke="#00bdff"/>
<path d="M1 0l1-15 1 1 1 8 1-6 1 3 1-5 1 8 1 6 1-3 1-7 1 5 1 4 1 7 1 0 1-8 1 3 1-5 1 5 1 0 1 4 1 0 1 2 1 0 1-11 1 12 1-6 1 2 1 3 1-3 1 23 1-7 1 1 1 2 1 2 1 12 1 6 1 0 1 4" stroke="#0081ff"/>
<path d="M1 0l1 2 1-23 1 5 1 3 1-2 1-2 1-3 1-7 1 1 1-11 1-5 1 3 1-1 1 2 1-2 1 1 1-10 1-1 1 6 1 0 1 0 1-5 1 2 1 7 1 0 1 6 1-1 1-1 1 0 1 6 1-1 1 2 1 3 1 0 1 1 1-8 1-4 1 2" stroke="#0b00ff"/>
<path d="M1 0l1 19 1-2 1-10 1 8 1-10 1 9 1-7 1-22 1 12 1 3 1-7 1-14 1 8 1-6 1 3 1-16 1 11 1-7 1 6 1 1 1-10 1 7 1-8 1-1 1 7 1 5 1-7 1 36 1-2 1-2 1 1 1 7 1 3 1-3 1 2 1-15 1-5 1-21" stroke="#00ffd4"/>
<path d="M1 0l1-3 1-4 1-2 1 7 1 3 1-3 1 0 1 5 1 3 1-4 1-1 1 1 1 3 1-4 1-2 1-1 1 6 1-2 1-10 1 6 1-2 1-6 1 6 1-1 1 2 1 6 1 0 1 5 1 1 1 4 1 3 1-2 1-3 1 5 1 3 1 2 1 7 1 1" stroke="#00deff"/>
<path d="M1 0l1-11 1 2 1 1 1-7 1 3 1-13 1 2 1-4 1-6 1 13 1 2 1-5 1-5 1 6 1-9 1 10 1 2 1 1 1 14 1 4 1 0 1-3 1 2 1-1 1-1 1-3 1-15 1-3 1 9 1-6 1 6 1 7 1-1 1 17 1 3 1 7 1 2 1 2" stroke="#00fff5"/>
<path d="M1 0l1-11 1-2 1 2 1-5 1 5 1-3 1-2 1-2 1 0 1-1 1 1 1 3 1-2 1 4 1-2 1 2 1-9 1 1 1 0 1-5 1-3 1 1 1-4 1-2 1-4 1 1 1-2 1 10 1 0 1 1 1-8 1 0 1 4 1-8 1 9 1 2 1-6 1 9" stroke="#00f8ff"/>
<path d="M1 0l1-9 1-9 1 0 1 8 1-5 1 0 1-6 1-4 1-3 1 2 1 29 1-1 1 8 1-12 1-4 1-4 1 0 1-3 1-3 1 10 1-8 1 0 1 18 1-5 1-6 1-4 1 0 1-6 1 14 1-11 1-10 1 6 1 5 1-3 1-3 1 9 1-3 1-8" stroke="#007aff"/>
<path d="M1 0l1 9 1 7 1 2 1-1 1 0 1 2 1 5 1 2 1 6 1 3 1 0 1 4 1 8 1 2 1-2 1 3 1 3 1-3 1 11 1 7 1-2 1-4 1-2 1 8 1 1 1-4 1 2 1-4 1-5 1 8 1-1 1-6 1 3 1-1 1 8 1 2 1 4 1-8" stroke="#1400ff"/>
<path d="M1 0l1-4 1 0 1 2 1-5 1 1 1 0 1-1 1-1 1 0 1 0 1 1 1 1 1 5 1 1 1 1 1-1 1 0 1-1 1 4 1-3 1 1 1 1 1 0 1 9 1-1 1 1 1-1 1-1 1 0 1-2 1-1 1 6 1-8 1 0 1-1 1 1 1 2 1 2" stroke="#00a1ff"/>
<path d="M1 0l1 1 1-8 1-4 1-13 1 3 1 11 1-8 1 5 1-1 1-5 1 2 1-1 1-1 1-3 1 1 1-6 1-2 1 11 1-7 1 2 1 8 1-8 1 14 1-1 1-1 1 1 1 13 1-13 1 11 1 5 1 3 1-3 1 6 1-9 1-11 1 9 1 20 1-11" stroke="#00c5ff"/>
<path d="M1 0l1 0 1-3 1 1 1 7 1-3 1 4 1 1 1-17 1-4 1-5 1 4 1-3 1-2 1-2 1 12 1 0 1 5 1-3 1 2 1 6 1 7 1 0 1 5 1-2 1 7 1-3 1-14 1 8 1 4 1 8 1-4 1 2 1-2 1-3 1-4 1 1 1-19 1 4" stroke="#00d6ff"/>
<path d="M1 0l1-17 1-21 1-15 1-11 1-14 1-10 1-15 1-3 1-22 1-6 1 10 1 0 1-3 1-5 1-12 1-2 1-2 1 13 1 18 1 4 1 5 1 1 1 2 1-13 1-4 1 8 1-4 1 6 1 0 1 6 1 5 1-8 1 5 1 0 1-9 1-3 1 1 1 0" stroke="#00ffff"/>
<path d="M1 0l1-6 1-1 1 0 1-3 1 4 1-16 1-2 1 3 1-8 1-2 1 8 1-2 1 4 1-4 1 3 1 8 1-4 1 3 1 0 1-2 1 1 1 5 1-8 1-6 1 5 1 7 1-5 1 1 1-4 1 3 1-3 1 1 1 4 1 2 1-6 1 5 1 1 1 6" stroke="#005bff"/>
<path d="M1 0l1 5 1-7 1-2 1-2 1-6 1 9 1 3 1 8 1-8 1 9 1-8 1 2 1 16 1-11 1-10 1 5 1-4 1 1 1-13 1 4 1-9 1-5 1 17 1-3 1-4 1 19 1-16 1 3 1-10 1 9 1-1 1-9 1-10 1-5 1-6 1-6 1-7 1 0" stroke="#00ffdc"/>
<path d="M1 0l1 8 1 9 1-6 1 1 1 8 1 4 1-3 1-3 1 0 1 11 1 16 1-10 1-17 1 8 1-5 1 8 1-8 1-11 1 3 1-8 1-13 1 7 1-9 1-20 1 10 1-2 1 7 1-5 1-3 1 3 1-5 1 1 1 7 1-15 1-3 1 2 1-2 1 15" stroke="#004eff"/>
<path d="M1 0l1-22 1 0 1 3 1 1 1-3 1 3 1-2 1-13 1-5 1 3 1-14 1 8 1 2 1-3 1 1 1-3 1 4 1 7 1 0 1-2 1 11 1-2 1 6 1-4 1 3 1-1 1 1 1-7 1 0 1-12 1 12 1-13 1 2 1-2 1 3 1-5 1 0 1 9" stroke="#006eff"/>
<path d="M1 0l1-8 1 1 1 1 1 6 1-16 1-3 1-14 1 9 1 0 1-1 1 3 1 2 1 1 1-5 1 0 1 0 1-9 1-6 1-1 1-12 1 5 1-14 1 3 1 21 1 2 1 0 1 6 1 2 1 13 1 5 1-2 1-5 1-2 1 2 1 6 1-1 1 5 1 3" stroke="#00b4ff"/>
<path d="M1 0l1 26 1 5 1 4 1-17 1 10 1 6 1 1 1 1 1 5 1-5 1 27 1-2 1-3 1 0 1 7 1 1 1-4 1 3 1-9 1 9 1-9 1-3 1-1 1-5 1-2 1-1 1 3 1-1 1 9 1-18 1 8 1 7 1-7 1 1 1 9 1 32 1-21 1 3" stroke="#0067ff"/>
<path d="M1 0l1-25 1 5 1-11 1 10 1-4 1 8 1 0 1 1 1-6 1 3 1 4 1 5 1 0 1-1 1-3 1-1 1 0 1 0 1 1 1 2 1-2 1 2 1 0 1 8 1-2 1 3 1 0 1 5 1-2 1-6 1 7 1 1 1 1 1 3 1-5 1 0 1-10 1 10" stroke="#0054ff"/>
<path d="M1 0l1 20 1 4 1 3 1 7 1-2 1 3 1-5 1 8 1-5 1 10 1-3 1-1 1 1 1 1 1-3 1-4 1 3 1-2 1 0 1-8 1 6 1 1 1-3 1 3 1-10 1 0 1 4 1 0 1 0 1-4 1 0 1-2 1 8 1 3 1 0 1-6 1 4 1 1" stroke="#0047ff"/>
<path d="M1 0l1 9 1 6 1 5 1 7 1-2 1 9 1 2 1 1 1 1 1 3 1 2 1 1 1-2 1 4 1 1 1 1 1-5 1 1 1 0 1-4 1-1 1-1 1-2 1-1 1 6 1-1 1-5 1 1 1-7 1 3 1 4 1-3 1 0 1 4 1 1 1 1 1-4 1-3" stroke="#2b00ff"/>
<path d="M1 0l1-17 1-14 1-7 1-10 1-5 1-2 1 4 1-2 1 0 1-4 1-2 1-4 1-1 1 2 1 10 1-9 1 0 1-18 1-4 1 3 1 4 1 7 1 0 1 19 1 6 1 1 1 2 1 5 1-2 1-21 1 8 1-4 1-8 1-4 1-12 1-9 1-4 1-7" stroke="#0041ff"/>
<path d="M1 0l1 7 1 4 1-3 1 2 1 13 1 1 1-1 1-1 1-2 1 1 1 9 1 0 1 2 1 3 1 0 1 0 1-3 1 2 1-4 1-2 1-1 1 1 1-4 1 2 1-5 1 6 1 2 1-3 1-1 1 2 1 12 1 8 1-10 1-1 1-8 1 6 1-6 1 4" stroke="#003bff"/>
<path d="M1 0l1-9 1-2 1-5 1 0 1 3 1-3 1 5 1 2 1-3 1 5 1-1 1 2 1 1 1 11 1 5 1 3 1-11 1-5 1-4 1-5 1 2 1-6 1 3 1-2 1-1 1-1 1-9 1-2 1 1 1-2 1-6 1 5 1 2 1 0 1 0 1-9 1-11 1 2" stroke="#2500ff"/>
<path d="M1 0l1-13 1-8 1-1 1 1 1-6 1-7 1 1 1 0 1 0 1 0 1 1 1-1 1-5 1 0 1-3 1 3 1 9 1-2 1-5 1 1 1 3 1-2 1-4 1 4 1 1 1 2 1 1 1 5 1-2 1 5 1-2 1 4 1-4 1 0 1 4 1 17 1 0 1 4" stroke="#009aff"/>
<path d="M1 0l1-3 1-4 1 2 1 2 1 1 1-5 1 3 1 6 1 0 1-4 1-4 1-2 1 2 1 7 1-2 1-1 1 9 1-2 1-4 1 5 1 3 1 13 1-1 1-7 1-8 1 0 1-25 1 12 1-10 1-7 1 9 1-1 1-3 1 9 1 17 1-10 1 7 1-14" stroke="#002eff"/>
<path d="M1 0l1-28 1 23 1 10 1 0 1 19 1-11 1-7 1-3 1 7 1 10 1 1 1-2 1 6 1-1 1 15 1-2 1-5 1 5 1-5 1 22 1 1 1 16 1-7 1-1 1 5 1 0 1-11 1-3 1 0 1-2 1 4 1 15 1-3 1-7 1 10 1 4 1-17 1 7" stroke="#001bff"/>
<path d="M1 0l1-2 1-3 1 0 1 1 1-3 1-4 1-14 1 4 1-2 1 2 1-4 1 0 1 5 1-4 1-1 1-1 1-2 1 1 1 3 1 2 1-2 1-5 1-1 1 2 1-1 1 2 1 1 1 1 1 6 1 0 1-2 1-2 1 5 1-5 1-1 1 3 1-6 1 0" stroke="#00adff"/>
<path d="M1 0l1-3 1 0 1 9 1 10 1-4 1-3 1-1 1-1 1 7 1 6 1-4 1 8 1 3 1-7 1 4 1-8 1-1 1 1 1-1 1 3 1-1 1 12 1 0 1-3 1 6 1 3 1-1 1 10 1-3 1-4 1 0 1-7 1-6 1 3 1 4 1-2 1 1 1 9" stroke="#0008ff"/>
<path d="M1 0l1-7 1 10 1 0 1 6 1 5 1 6 1 2 1-4 1 0 1 1 1-3 1 2 1 3 1-8 1 4 1 2 1 1 1 5 1 0 1-3 1 0 1 1 1 0 1-1 1 1 1-1 1 4 1-4 1 7 1 6 1 0 1-10 1 6 1-6 1 10 1 0 1-12 1-9" stroke="#3200ff"/>
<path d="M1 0l1 0 1 3 1 0 1 2 1-1 1-5 1-1 1 7 1 2 1 6 1-6 1 3 1-8 1 1 1-2 1 3 1-3 1 4 1 11 1 4 1-5 1-2 1 7 1 2 1 0 1 5 1 2 1-2 1-3 1-5 1-5 1-3 1 0 1 3 1-4 1-1 1 9 1-1" stroke="#00efff"/>
<path d="M1 0l1 8 1 10 1-21 1 6 1-6 1-9 1 16 1 0 1 3 1-2 1 6 1 12 1-1 1-9 1-9 1 7 1-15 1 11 1-13 1 5 1 9 1 3 1 8 1 7 1 3 1-8 1-9 1 0 1 4 1 1 1 7 1 1 1 1 1 6 1 24 1-2 1-13 1 10" stroke="#0094ff"/>
<path d="M1 0l1-10 1-1 1 1 1-3 1 3 1 3 1 4 1 3 1-2 1-2 1-3 1-5 1 1 1-1 1 9 1-7 1 4 1 0 1-1 1-4 1 3 1-2 1 2 1-6 1 8 1-5 1-2 1-10 1 0 1 3 1-6 1 2 1-16 1-2 1-6 1-3 1 1 1 6" stroke="#5200ff"/>
<path d="M1 0l1 35 1-10 1-16 1 2 1 7 1-10 1-8 1 14 1-16 1-12 1-5 1-4 1 12 1 7 1-1 1-4 1 6 1-9 1 2 1-6 1 11 1 1 1 0 1-5 1-7 1 5 1-4 1 11 1 6 1 11 1 3 1 4 1 9 1 1 1 11 1-5 1-4 1-5" stroke="#0021ff"/>
<path d="M1 0l1-11 1-2 1-3 1 9 1 1 1 0 1-5 1 1 1-3 1-3 1 8 1-2 1-8 1-3 1-5 1 7 1-5 1 0 1 1 1-1 1 3 1 5 1-3 1-6 1-1 1-2 1 1 1 3 1 2 1 1 1 0 1-4 1-9 1-2 1-4 1 7 1-4 1 11" stroke="#0061ff"/>
<path d="M1 0l1 4 1 7 1-2 1-9 1-2 1 2 1 2 1 1 1 3 1-1 1-1 1 2 1-2 1-2 1 0 1-13 1-2 1-1 1 2 1-5 1-3 1 0 1-1 1-4 1-1 1-1 1-5 1 0 1 0 1 8 1 3 1 2 1 0 1-1 1-2 1 0 1 2 1 1" stroke="#3e00ff"/>
<path d="M1 0l1-4 1-2 1-3 1-2 1 4 1-3 1-5 1 1 1-6 1-4 1 4 1 2 1 2 1 4 1-3 1-1 1 5 1 11 1 2 1 2 1 3 1-2 1 3 1-4 1-6 1 6 1 4 1-2 1 0 1-3 1-2 1-1 1-4 1 2 1 12 1 3 1 0 1 5" stroke="#0087ff"/>
<path d="M1 0l1-11 1-4 1-2 1 9 1 11 1-12 1-2 1 18 1-8 1 4 1 4 1 2 1-12 1 7 1 2 1-1 1-7 1-4 1-2 1 2 1 4 1 3 1-7 1 2 1-7 1 14 1-2 1-15 1-3 1 3 1 2 1-2 1-3 1 6 1 7 1 2 1 0 1-19" stroke="#0074ff"/>
<path d="M1 0l1 20 1 4 1-1 1-6 1 0 1-8 1 2 1 16 1-7 1 3 1-7 1-3 1 1 1-4 1 3 1-4 1-6 1-4 1-1 1-13 1 6 1 13 1 1 1 2 1 0 1-4 1 0 1-2 1-6 1 1 1 1 1 3 1 3 1 14 1-3 1-11 1 5 1 17" stroke="#000eff"/>
<path d="M1 0l1 8 1-13 1 22 1-9 1-2 1 7 1-8 1 0 1 0 1-2 1 10 1-3 1 0 1 3 1 4 1 11 1 0 1 0 1 11 1-4 1-5 1 1 1 0 1-2 1-2 1 4 1 5 1-1 1-1 1-1 1 1 1-2 1 6 1 8 1 5 1-6 1-1 1-3" stroke="#008eff"/>
<path d="M1 0l1-2 1-2 1 1 1 3 1-8 1-2 1 0 1 5 1-2 1 7 1 4 1 5 1 2 1 3 1 15 1-6 1 0 1-1 1 2 1-2 1 1 1 0 1 5 1-8 1-2 1-3 1 6 1-5 1 6 1-7 1 10 1-1 1 4 1-1 1-8 1-1 1 1 1 9" stroke="#0014ff"/>
<path d="M1 0l1 2 1 13 1 8 1 5 1-1 1 2 1-3 1 6 1-2 1-2 1 1 1 1 1 2 1 3 1 0 1-1 1 13 1-7 1 0 1-1 1 3 1-1 1 0 1-1 1 5 1 5 1 2 1 1 1-1 1 7 1-6 1-2 1 4 1-8 1-4 1-4 1 3 1-1" stroke="#0001ff"/>
<path d="M1 0l1 12 1 1 1 1 1 5 1 4 1 2 1 0 1-3 1-5 1 2 1-4 1 1 1 0 1 3 1-1 1-1 1 3 1-6 1 2 1 0 1-1 1 2 1-2 1 1 1 7 1-4 1 1 1-2 1 7 1 8 1-6 1-6 1 10 1-1 1-2 1 1 1-7 1 8" stroke="#0034ff"/>
<path d="M1 0l1 0 1 1 1 0 1 3 1 9 1-4 1 1 1 1 1 0 1 0 1 1 1 0 1-1 1-3 1 8 1-5 1 3 1-2 1-2 1-1 1-7 1 7 1 2 1 2 1 0 1 3 1-4 1 0 1-3 1 3 1-3 1 0 1 4 1-2 1 2 1-3 1 2 1-1" stroke="#9a00ff"/>
<path d="M1 0l1 5 1 3 1-7 1-1 1-11 1-6 1 9 1-5 1-3 1 0 1-1 1 2 1 0 1-1 1-7 1 3 1-27 1 1 1 0 1 7 1-1 1-4 1 1 1-4 1 1 1 3 1-8 1 0 1 0 1-7 1 3 1 0 1-5 1 6 1 3 1 5 1-4 1 15" stroke="#0028ff"/>
<path d="M1 0l1 1 1-1 1-1 1-3 1-3 1-3 1 0 1 0 1-1 1-1 1 1 1 1 1-2 1 2 1 0 1 1 1-2 1 2 1-3 1 1 1-4 1-1 1-1 1-3 1 2 1-3 1 1 1-1 1 2 1 4 1 3 1 1 1 1 1 1 1-2 1-2 1 2 1-1" stroke="#4b00ff"/>
<path d="M1 0l1 2 1 2 1 0 1-3 1 0 1-2 1 6 1-5 1 3 1-2 1-1 1-2 1 3 1 1 1 5 1 1 1-1 1-1 1 0 1-4 1-1 1 3 1 1 1 0 1 4 1-2 1 2 1-3 1 0 1 0 1 2 1 0 1 4 1 3 1-5 1 2 1-1 1 3" stroke="#6400ff"/>
<path d="M1 0l1-4 1-1 1 0 1 1 1 0 1 2 1 2 1 0 1 3 1 1 1 0 1 0 1 1 1-3 1 6 1 1 1-1 1 6 1-5 1 1 1 0 1 3 1 0 1-1 1 3 1 1 1-1 1 1 1-1 1 0 1 3 1 0 1 3 1 5 1-5 1 0 1-4 1-2" stroke="#1800ff"/>
<path d="M1 0l1-8 1 2 1-1 1-3 1 3 1 0 1-2 1-1 1 0 1 3 1 1 1 6 1 0 1-3 1 5 1 2 1 1 1-2 1 4 1-3 1-1 1 1 1 2 1-4 1 2 1-2 1-1 1 2 1 1 1 1 1-1 1-2 1-2 1-4 1-3 1 4 1 4 1 2" stroke="#d000ff"/>
<path d="M1 0l1 10 1 1 1-5 1-2 1 0 1-2 1-1 1 2 1 2 1-3 1-5 1 0 1-10 1 7 1-4 1 0 1-1 1 2 1-1 1 1 1-5 1 0 1-4 1 4 1-5 1 4 1-1 1-2 1-1 1-6 1 0 1-10 1 0 1 1 1-3 1-3 1 0 1 3" stroke="#c700ff"/>
<path d="M1 0l1 1 1 2 1-1 1-1 1 3 1 2 1-2 1 5 1-3 1-2 1 2 1-4 1 1 1 1 1-5 1-9 1-4 1-2 1-1 1 5 1-2 1 1 1 1 1-3 1 3 1-1 1 0 1-6 1-1 1-1 1-2 1-3 1 3 1-4 1 3 1-5 1 4 1 5" stroke="#d900ff"/>
<path d="M1 0l1 2 1-2 1 3 1-3 1 2 1 9 1-5 1 2 1 2 1 2 1 2 1-2 1 9 1-2 1 3 1-1 1-6 1 1 1-2 1-3 1 2 1 1 1 7 1-4 1 2 1 0 1 3 1 0 1 1 1 2 1 1 1 1 1-4 1-11 1-3 1 5 1-2 1-1" stroke="#ac00ff"/>
<path d="M1 0l1 4 1 13 1 5 1 0 1-3 1-3 1-2 1 0 1 0 1 18 1 1 1 2 1-6 1 5 1 1 1 0 1 1 1 2 1 4 1 2 1 0 1-10 1 7 1 4 1 9 1-2 1-9 1-1 1 0 1-1 1 10 1-3 1 1 1 5 1 4 1-1 1-3 1 3" stroke="#be00ff"/>
<path d="M1 0l1-3 1 2 1 1 1-6 1 1 1 0 1 2 1 3 1-3 1-4 1 0 1 4 1 0 1 3 1 2 1-2 1 1 1-2 1-5 1-3 1 4 1-4 1 4 1 3 1-3 1-1 1-1 1 2 1 1 1-5 1 1 1-1 1-2 1 0 1 0 1-2 1 3 1-2" stroke="#a300ff"/>
<path d="M1 0l1-1 1 2 1-3 1-3 1 4 1-4 1-1 1 0 1 0 1-6 1 3 1-4 1 1 1-1 1-2 1-2 1 1 1-2 1 0 1-3 1 1 1-1 1 0 1 2 1 5 1 2 1 1 1-2 1-4 1 1 1 0 1 1 1-6 1 1 1 2 1-3 1-1 1 3" stroke="#3800ff"/>
<path d="M1 0l1-6 1-4 1 3 1 0 1-3 1-5 1 0 1 1 1 0 1-1 1 0 1 0 1 1 1 0 1 2 1 4 1 1 1-1 1-1 1 0 1 0 1 0 1 2 1-2 1 1 1 0 1 0 1-3 1 0 1-1 1 1 1 1 1-1 1-5 1 2 1 4 1 4 1 0" stroke="#6d00ff"/>
<path d="M1 0l1-5 1-11 1 23 1-23 1 9 1-9 1 7 1-7 1 12 1 17 1-15 1-34 1 1 1-20 1 2 1 6 1 13 1 5 1 3 1-2 1-23 1 8 1 3 1 15 1 11 1-13 1 4 1-4 1 3 1 11 1-5 1-4 1-7 1-12 1-1 1-14 1 4 1 6" stroke="#0500ff"/>
<path d="M1 0l1 4 1 1 1 0 1-2 1 1 1 1 1-1 1-1 1-4 1 6 1-1 1 4 1-2 1 2 1-1 1 0 1 1 1-8 1 2 1 2 1-1 1 2 1 4 1 4 1-4 1-7 1 3 1 3 1-8 1 0 1-1 1 1 1 0 1 1 1 12 1 4 1-2 1 1" stroke="#7600ff"/>
<path d="M1 0l1 16 1 3 1 2 1-11 1-4 1-1 1-5 1 0 1 1 1-3 1 4 1-16 1 4 1 4 1-4 1-1 1-13 1-1 1-2 1 3 1 7 1 2 1-5 1-2 1-2 1 5 1 1 1-3 1 2 1 2 1-2 1 0 1 6 1 0 1-5 1-6 1 0 1 11" stroke="#1f00ff"/>
<path d="M1 0l1-7 1-4 1 2 1 2 1-2 1 2 1-6 1 2 1 6 1-1 1 2 1-2 1-3 1 3 1-6 1 1 1 4 1 0 1 2 1 0 1-2 1 2 1-1 1 1 1 8 1-2 1 11 1-1 1 2 1 8 1 0 1-3 1 9 1 1 1 8 1-2 1 4 1-3" stroke="#b500ff"/>
<path d="M1 0l1 0 1 1 1-4 1-10 1 0 1-2 1 7 1 2 1-1 1 0 1 1 1 2 1-4 1-10 1 3 1-1 1 3 1-6 1-1 1 1 1 3 1-1 1 2 1-1 1-3 1 3 1 4 1-2 1-4 1-5 1 3 1 12 1-4 1 7 1-1 1 5 1 9 1 1" stroke="#1200ff"/>
<path d="M1 0l1 6 1-2 1-2 1 6 1-4 1 2 1-1 1 0 1 1 1 1 1-1 1-2 1-1 1 0 1-2 1 0 1 4 1 1 1 2 1 0 1-1 1 1 1-2 1 1 1 0 1-4 1-4 1-1 1 2 1 0 1 0 1-2 1-2 1 2 1-1 1 2 1-3 1 3" stroke="#8800ff"/>
<path d="M1 0l1-2 1 0 1-4 1 2 1-3 1 2 1-4 1 4 1-4 1-2 1-1 1-2 1-3 1 2 1 0 1-1 1 1 1 4 1 4 1-3 1-1 1-2 1 6 1 0 1-1 1-1 1-1 1-1 1 1 1-1 1 0 1 2 1-1 1 1 1 1 1 2 1-2 1-2" stroke="#7f00ff"/>
<path d="M1 0l1 6 1 1 1-8 1 2 1-2 1 9 1 2 1-2 1 1 1 1 1 2 1-1 1-3 1 10 1-7 1 3 1-2 1 2 1 6 1-9 1-1 1 4 1-1 1-5 1-2 1-10 1 0 1-5 1 0 1-6 1-4 1 0 1 1 1 4 1-3 1 3 1 6 1 2" stroke="#4500ff"/>
<path d="M1 0l1-13 1-4 1 9 1-5 1 0 1-2 1 3 1-5 1-2 1 3 1 2 1 0 1 5 1 4 1-2 1-8 1-7 1 3 1-3 1 1 1 6 1-8 1 1 1 0 1 10 1-4 1-3 1-2 1-3 1-4 1-6 1-6 1-1 1-1 1 2 1 1 1 9 1-7" stroke="#5b00ff"/>
<path d="M1 0l1-2 1-1 1 2 1 5 1 2 1-3 1 0 1 3 1 4 1-4 1-1 1 0 1 2 1 3 1 0 1-2 1 2 1 1 1-2 1 3 1-3 1-2 1-4 1 3 1-2 1 4 1-1 1-1 1 0 1-1 1-5 1-2 1 2 1-1 1 2 1 6 1-2 1 3" stroke="#9100ff"/>
<path d="M1 0l1-5 1 1 1-4 1 2 1 3 1 2 1 2 1-1 1 0 1-3 1-4 1 1 1 3 1 1 1-4 1 0 1 3 1 1 1-5 1 1 1 3 1-4 1 1 1-2 1-1 1-5 1-3 1 0 1-5 1 3 1-7 1-1 1-1 1 1 1-1 1-4 1-4 1 2" stroke="#e200ff"/>
</g>
<rect x="34.0" y="260.4" width="218.6" height="169.9" fill="none" stroke="#555" stroke-width="1.3"/>
<line x1="36.8" y1="430.3" x2="36.8" y2="433.5" stroke="#333" stroke-width="1"/>
<text x="36.8" y="441.9" class="tk" text-anchor="middle">0</text>
<line x1="90.0" y1="430.3" x2="90.0" y2="433.5" stroke="#333" stroke-width="1"/>
<text x="90.0" y="441.9" class="tk" text-anchor="middle">10</text>
<line x1="143.3" y1="430.3" x2="143.3" y2="433.5" stroke="#333" stroke-width="1"/>
<text x="143.3" y="441.9" class="tk" text-anchor="middle">20</text>
<line x1="196.6" y1="430.3" x2="196.6" y2="433.5" stroke="#333" stroke-width="1"/>
<text x="196.6" y="441.9" class="tk" text-anchor="middle">30</text>
<line x1="249.8" y1="430.3" x2="249.8" y2="433.5" stroke="#333" stroke-width="1"/>
<text x="249.8" y="441.9" class="tk" text-anchor="middle">40</text>
<line x1="30.8" y1="420.0" x2="34.0" y2="420.0" stroke="#333" stroke-width="1"/>
<text x="27.7" y="420.0" class="tk" text-anchor="middle" transform="rotate(-90 27.7 420.0)">−4</text>
<line x1="30.8" y1="383.7" x2="34.0" y2="383.7" stroke="#333" stroke-width="1"/>
<text x="27.7" y="383.7" class="tk" text-anchor="middle" transform="rotate(-90 27.7 383.7)">−2</text>
<line x1="30.8" y1="347.4" x2="34.0" y2="347.4" stroke="#333" stroke-width="1"/>
<text x="27.7" y="347.4" class="tk" text-anchor="middle" transform="rotate(-90 27.7 347.4)">0</text>
<line x1="30.8" y1="311.1" x2="34.0" y2="311.1" stroke="#333" stroke-width="1"/>
<text x="27.7" y="311.1" class="tk" text-anchor="middle" transform="rotate(-90 27.7 311.1)">2</text>
<line x1="30.8" y1="274.8" x2="34.0" y2="274.8" stroke="#333" stroke-width="1"/>
<text x="27.7" y="274.8" class="tk" text-anchor="middle" transform="rotate(-90 27.7 274.8)">4</text>
<text x="143.3" y="458.6" class="ttl" text-anchor="middle">Ten−minute interval</text>
<text x="12.4" y="345.4" class="ttl" text-anchor="middle" transform="rotate(-90 12.4 345.4)">Intradaily cumulative return</text>
<text x="109.8" y="477.8" class="cap" textLength="46.8" lengthAdjust="spacing">(<tspan font-weight="bold">c</tspan>) INTC</text>
<g class="cv" transform="translate(328.67 338.85) scale(5.327 0.5)">
<path d="M1 0l1 6 1 3 1 0 1 9 1 2 1 6 1-2 1-4 1-3 1 3 1 3 1 1 1 6 1 0 1-1 1 0 1 0 1 7 1-7 1-4 1-14 1 9 1-4 1-5 1-1 1 1 1-9 1 17 1-7 1-9 1 1 1 5 1-2 1-4 1-9 1 7 1 14 1-1" stroke="#ff2400"/>
<path d="M1 0l1 0 1-10 1 4 1 0 1-1 1-2 1-9 1 1 1-1 1-1 1 26 1-3 1 5 1 1 1 12 1 5 1-3 1 4 1 0 1-3 1 1 1 6 1-7 1 3 1-2 1 6 1-4 1 11 1 6 1-1 1-7 1-11 1-3 1 5 1-1 1 9 1 6 1 4" stroke="#ff3600"/>
<path d="M1 0l1 21 1 1 1 2 1-1 1 2 1-2 1-2 1-3 1 3 1 6 1 4 1 1 1 0 1 11 1-2 1 5 1 5 1 2 1 1 1-2 1-4 1 3 1 15 1-4 1 1 1-3 1 2 1 0 1-5 1 3 1-4 1-2 1 2 1 0 1-4 1 1 1 4 1 3" stroke="#ff0000"/>
<path d="M1 0l1-29 1-2 1 5 1 2 1 1 1-11 1-5 1-2 1 0 1-8 1 5 1-3 1-5 1 4 1-1 1-1 1-5 1 18 1-12 1-2 1 9 1 2 1-1 1 2 1 7 1 8 1-4 1-2 1 3 1 11 1-3 1-22 1 2 1 9 1 2 1 2 1 9 1 11" stroke="#ff0900"/>
<path d="M1 0l1-5 1-6 1 9 1-1 1 2 1-3 1-12 1 19 1 2 1 9 1-4 1-7 1-2 1-3 1 1 1 4 1 2 1 3 1 5 1 9 1-2 1-6 1 8 1-8 1-3 1 17 1 5 1-2 1-4 1-6 1 0 1 5 1-4 1 5 1 21 1-7 1 0 1-1" stroke="#ff1200"/>
<path d="M1 0l1 3 1 3 1 6 1-8 1 5 1 7 1 14 1-1 1 5 1 2 1 2 1 6 1-1 1 0 1 3 1 1 1-1 1-4 1 1 1-10 1 1 1 3 1 0 1 2 1 0 1 1 1-9 1-1 1-1 1-7 1-3 1 5 1 4 1-6 1 0 1-2 1-3 1 0" stroke="#ff4800"/>
<path d="M1 0l1 26 1 7 1-7 1 1 1-2 1-2 1 0 1-5 1 2 1-1 1-4 1-3 1 2 1 3 1-1 1-3 1-2 1-8 1 1 1 0 1-3 1-3 1 3 1-1 1-3 1 9 1 3 1 1 1 3 1 3 1-4 1 0 1 1 1 15 1-4 1-8 1-1 1 5" stroke="#cfff00"/>
<path d="M1 0l1-3 1 4 1-9 1-6 1-7 1-2 1 2 1 31 1-2 1-23 1 1 1-14 1-14 1-3 1-6 1-8 1-5 1-2 1-2 1 3 1 12 1 0 1 2 1-10 1 6 1 0 1 2 1-1 1 3 1-2 1-12 1 22 1-1 1 0 1 6 1 21 1-19 1 14" stroke="#ffcf00"/>
<path d="M1 0l1-37 1-9 1 11 1-3 1 5 1-9 1 29 1-1 1 7 1-3 1-20 1 7 1-17 1 1 1 0 1-4 1 4 1-11 1 3 1-7 1 17 1-20 1-11 1 13 1 11 1-16 1-8 1-9 1 4 1-10 1-7 1-1 1-4 1-3 1-2 1 14 1-19 1 17" stroke="#c8ff00"/>
<path d="M1 0l1-4 1-5 1-13 1-3 1-5 1 0 1-2 1-4 1-2 1-9 1-2 1-4 1-17 1-16 1 14 1-6 1-7 1 7 1 5 1 3 1 6 1-4 1 5 1-2 1 2 1 6 1-5 1 2 1-2 1 5 1 2 1 15 1 5 1 1 1-3 1-8 1 4 1-3" stroke="#ff0000"/>
<path d="M1 0l1 1 1 1 1 2 1 2 1-6 1-4 1-21 1 8 1-4 1 4 1 11 1-4 1-5 1-4 1 21 1 1 1-2 1 6 1-7 1-5 1 13 1 10 1-18 1 11 1-10 1 11 1 9 1 10 1 6 1-8 1 3 1-9 1-14 1 3 1 19 1-15 1 33 1-10" stroke="#ff7500"/>
<path d="M1 0l1-19 1 5 1-6 1-3 1 2 1-11 1-3 1 9 1-15 1 22 1-3 1 13 1-2 1 15 1 8 1-3 1 6 1-4 1-5 1 8 1-10 1 10 1 8 1 4 1 9 1-11 1-9 1 2 1-4 1 2 1-7 1 19 1 1 1 2 1-11 1-13 1-4 1 8" stroke="#f8ff00"/>
<path d="M1 0l1-36 1 6 1 1 1-3 1 1 1 11 1 10 1-14 1-13 1-15 1-6 1 40 1 5 1 3 1-12 1-10 1-3 1-5 1 33 1 3 1-6 1-18 1-25 1-5 1 15 1 14 1-6 1-12 1-16 1 4 1 23 1-15 1 35 1 17 1-13 1-23 1-16 1-4" stroke="#ffc900"/>
<path d="M1 0l1-32 1 3 1-15 1 7 1 4 1-2 1 13 1 3 1 0 1 1 1 24 1 6 1-5 1-3 1-12 1 21 1-12 1 5 1-5 1-11 1-4 1 2 1 5 1-3 1 3 1-6 1 17 1-6 1 11 1 5 1 4 1-22 1-4 1 10 1-12 1 0 1 22 1 12" stroke="#ff6300"/>
<path d="M1 0l1-29 1-4 1-2 1 9 1 1 1 2 1 2 1 5 1-1 1-7 1-2 1 1 1 21 1-7 1 0 1-5 1 0 1 2 1 4 1 1 1-8 1-2 1 8 1 3 1 1 1 5 1-8 1 3 1 0 1 1 1 1 1 4 1 5 1 3 1-13 1 10 1-3 1-7" stroke="#ff8b00"/>
<path d="M1 0l1-7 1 0 1 10 1 0 1 1 1-11 1 5 1-1 1-6 1-1 1 0 1 2 1-4 1 0 1 5 1-11 1 8 1 0 1 4 1-2 1-7 1-9 1 4 1 0 1 4 1-9 1 7 1 3 1 9 1-7 1 2 1 7 1 1 1-8 1-2 1 6 1-1 1 5" stroke="#ff5a00"/>
<path d="M1 0l1 28 1 3 1-3 1-4 1-3 1 1 1 5 1-7 1 11 1-4 1 9 1 6 1 9 1-5 1 5 1-3 1 6 1 2 1-3 1 8 1 4 1 4 1-1 1-1 1 3 1-10 1-5 1-6 1 8 1 11 1-8 1-5 1 4 1-3 1 3 1-6 1 4 1 6" stroke="#ff9900"/>
<path d="M1 0l1-38 1-18 1-18 1 14 1 8 1 2 1-2 1 4 1 6 1-1 1 8 1-7 1 5 1 2 1 5 1 3 1 4 1-1 1 2 1-1 1-2 1 2 1-5 1 6 1-1 1-3 1 4 1-6 1-4 1-4 1 4 1 4 1 1 1-3 1-3 1 3 1 3 1 3" stroke="#ffa800"/>
<path d="M1 0l1 18 1 3 1 5 1 2 1-4 1 8 1 2 1-4 1-2 1 6 1-5 1-8 1 7 1-5 1-5 1 1 1 12 1 10 1-7 1-13 1 6 1 3 1 24 1 5 1-6 1 8 1-2 1 3 1 10 1-12 1-1 1 16 1-1 1-18 1-6 1-7 1-9 1-20" stroke="#75ff00"/>
<path d="M1 0l1 21 1-7 1 1 1-5 1 2 1-6 1 0 1-2 1-2 1-9 1-5 1 5 1 8 1-2 1-14 1 15 1 2 1 1 1-7 1-8 1 4 1 1 1 1 1 5 1 3 1 1 1 5 1-6 1 0 1-2 1-1 1 1 1-5 1-5 1-1 1-2 1 11 1-22" stroke="#ff5100"/>
<path d="M1 0l1 22 1-2 1-7 1 4 1 2 1-7 1-1 1-7 1-6 1 1 1 2 1-1 1-2 1 3 1-7 1-3 1-2 1-2 1-2 1-2 1 2 1 9 1-3 1-3 1-15 1 7 1 5 1 2 1-3 1-8 1-5 1-1 1-9 1-11 1 5 1 11 1-13 1 6" stroke="#ffa600"/>
<path d="M1 0l1 7 1 1 1 6 1 1 1-4 1 0 1 5 1-3 1 6 1-1 1-3 1 0 1 5 1 3 1 3 1 1 1-4 1-4 1 4 1-1 1 10 1-7 1 2 1 1 1-4 1 4 1 11 1 6 1 2 1 3 1-1 1 4 1-1 1 9 1 0 1 7 1-1 1-5" stroke="#ff7d00"/>
<path d="M1 0l1 11 1 4 1-6 1-5 1 7 1-8 1-5 1 11 1-1 1 10 1-11 1-4 1 3 1 0 1-2 1 1 1-4 1-4 1 1 1-1 1 1 1 2 1 2 1-3 1-1 1 0 1-6 1-16 1 1 1 2 1 0 1-3 1 4 1 1 1 0 1 4 1 12 1 3" stroke="#ff1b00"/>
<path d="M1 0l1-1 1 3 1-4 1 1 1-2 1 2 1 4 1 1 1-3 1 4 1-10 1 17 1 0 1-1 1-1 1-6 1 0 1-30 1 10 1-13 1 14 1 4 1 1 1-12 1 9 1 2 1 5 1 4 1-5 1 5 1-5 1 5 1 3 1-3 1-3 1-13 1-10 1-14" stroke="#baff00"/>
<path d="M1 0l1-9 1-7 1-1 1 6 1-18 1-4 1-25 1 6 1 3 1 1 1 3 1-12 1 0 1 3 1-2 1-5 1-1 1 5 1-8 1 1 1 5 1-9 1 6 1-3 1-16 1-3 1 0 1 1 1 3 1 3 1-5 1 1 1-2 1 17 1-2 1 1 1 7 1-3" stroke="#ffd600"/>
<path d="M1 0l1 13 1-1 1 0 1 7 1 3 1 1 1-1 1 10 1 0 1-5 1 3 1-10 1 0 1-8 1-1 1 13 1-6 1-7 1 2 1-10 1-2 1 1 1 5 1 3 1 2 1-4 1-5 1 1 1-1 1 3 1 3 1 2 1 2 1 2 1 0 1 5 1 5 1 2" stroke="#ff3f00"/>
<path d="M1 0l1 23 1-1 1-4 1 5 1-12 1 5 1-4 1 6 1 1 1 5 1 4 1 5 1-6 1 2 1 1 1-5 1 2 1 5 1 5 1-3 1 4 1-5 1-2 1-1 1 3 1 3 1 3 1-1 1 4 1-8 1 5 1-4 1-3 1 2 1 9 1-3 1 14 1 3" stroke="#ff6c00"/>
<path d="M1 0l1 25 1 3 1-2 1-3 1-1 1 3 1-1 1-2 1 12 1-15 1 4 1 0 1 1 1-2 1-1 1 7 1-2 1 1 1 3 1-4 1 1 1-1 1 2 1-3 1 2 1 2 1-6 1-4 1 1 1 6 1-1 1 4 1-9 1-2 1 0 1 9 1-5 1-9" stroke="#ff2d00"/>
<path d="M1 0l1-12 1-3 1 4 1-3 1-8 1 10 1-7 1 5 1-8 1-1 1 3 1 0 1-8 1 0 1-22 1-4 1-11 1 6 1-10 1 2 1-3 1 3 1 3 1 1 1-1 1 7 1-7 1 0 1 9 1 4 1-4 1 5 1 1 1 5 1 6 1-23 1 8 1-4" stroke="#ffeb00"/>
<path d="M1 0l1-2 1 2 1 3 1-3 1 4 1 0 1-6 1 2 1 0 1-4 1-2 1 2 1 1 1 0 1 0 1 4 1-2 1-2 1-10 1 3 1-1 1-9 1 0 1-2 1 1 1 2 1-3 1-3 1 6 1 0 1-19 1 2 1 4 1-9 1-5 1 23 1-6 1 5" stroke="#ffdd00"/>
<path d="M1 0l1-10 1 5 1 6 1 4 1 4 1-19 1 14 1-5 1 3 1-2 1 1 1-4 1-2 1-5 1-2 1 3 1 9 1-5 1 0 1-1 1-8 1-2 1 6 1 0 1-1 1-1 1 2 1-4 1 0 1-5 1 1 1-2 1-7 1-5 1 12 1-43 1 11 1-7" stroke="#ff8400"/>
<path d="M1 0l1-40 1 8 1-15 1 11 1 1 1-11 1 11 1 12 1 4 1-18 1-9 1 4 1-4 1-12 1 2 1 1 1 12 1 22 1-3 1 1 1-22 1 2 1 5 1 2 1-13 1-7 1 12 1 0 1-14 1-10 1 6 1-5 1-3 1-11 1-15 1 17 1 14 1 0" stroke="#31ff00"/>
<path d="M1 0l1-52 1 6 1 2 1 11 1 7 1-22 1-5 1 1 1 4 1 3 1-1 1-3 1 9 1-1 1 1 1 5 1-9 1 1 1-9 1 11 1-2 1-3 1 3 1-1 1-1 1-2 1-2 1-9 1 3 1-4 1 1 1 2 1 7 1-20 1 2 1 3 1 11 1-2" stroke="#e3ff00"/>
<path d="M1 0l1 6 1-6 1-3 1-5 1 3 1-10 1 0 1-5 1 6 1-5 1 5 1-2 1 4 1 5 1 1 1-16 1-2 1-4 1-5 1-6 1 0 1 7 1 5 1-1 1-4 1 4 1-4 1 1 1 3 1 1 1 12 1-11 1 3 1-5 1 1 1-6 1 2 1-7" stroke="#fff200"/>
<path d="M1 0l1 24 1-2 1-5 1 14 1-6 1-29 1 2 1-7 1-4 1 14 1-2 1-12 1-4 1 2 1 7 1-15 1 11 1-10 1 13 1-10 1 15 1 2 1 7 1 0 1-2 1-1 1 11 1-3 1 7 1 3 1 4 1-2 1-2 1-5 1-13 1 25 1 19 1 21" stroke="#ff9200"/>
<path d="M1 0l1 18 1 4 1 7 1 3 1 5 1-1 1 5 1 1 1 0 1 6 1-1 1-4 1 4 1-4 1 1 1 1 1-9 1 4 1-3 1 2 1 4 1 0 1 1 1 0 1-2 1 3 1 0 1-4 1-1 1 3 1 1 1 5 1 6 1-4 1-5 1 1 1-1 1 3" stroke="#f1ff00"/>
<path d="M1 0l1 8 1 12 1 11 1 14 1 20 1 17 1 11 1-8 1 2 1 3 1 4 1 0 1 8 1 3 1 2 1 0 1 4 1 0 1 1 1 3 1 4 1 7 1 6 1-2 1-7 1-2 1-2 1-4 1-3 1-12 1-4 1 11 1-8 1-1 1 6 1-5 1-4 1-3" stroke="#ccff00"/>
<path d="M1 0l1 4 1-1 1-21 1 2 1 13 1 36 1-10 1-24 1-7 1-16 1 9 1 3 1-7 1-6 1 5 1-3 1-3 1-9 1-10 1 11 1 2 1-23 1 5 1-9 1 13 1 17 1-9 1-25 1 13 1-11 1 28 1-8 1 16 1 13 1 11 1 8 1 89 1-15" stroke="#53ff00"/>
<path d="M1 0l1-21 1-15 1-1 1-1 1-3 1-4 1-3 1-8 1 3 1 11 1 0 1-12 1-2 1 0 1-1 1-3 1 3 1 14 1 5 1 1 1-7 1-5 1 6 1-1 1-3 1 6 1 9 1 8 1 1 1-8 1-2 1-3 1 3 1 6 1 9 1-3 1 0 1-1" stroke="#ffad00"/>
<path d="M1 0l1 17 1 3 1 2 1 7 1 1 1 0 1 5 1 2 1 2 1-2 1 10 1-2 1 0 1-3 1 1 1 0 1 2 1 0 1 4 1-1 1 0 1 2 1 1 1 3 1 3 1 1 1 9 1-8 1-1 1-3 1 2 1 0 1-2 1-2 1 0 1 2 1-6 1 1" stroke="#ffe400"/>
<path d="M1 0l1 6 1 8 1-7 1 4 1 1 1 1 1 9 1 9 1-5 1-6 1 4 1 0 1 6 1-8 1 14 1-11 1-6 1 2 1-4 1 10 1 29 1-12 1 27 1 17 1 6 1-5 1-5 1 8 1-6 1 4 1-4 1-6 1 4 1 6 1-3 1 4 1 0 1-6" stroke="#c1ff00"/>
<path d="M1 0l1 20 1 2 1 1 1 3 1 0 1-5 1-2 1 3 1-1 1 1 1-4 1-6 1 0 1-4 1-4 1-3 1 4 1-3 1 9 1 2 1-7 1 3 1-4 1-2 1-3 1 1 1 1 1-4 1 8 1 0 1 9 1-20 1 5 1-12 1-18 1 3 1 10 1-2" stroke="#45ff00"/>
<path d="M1 0l1 22 1 1 1 4 1 3 1 1 1 2 1-1 1 4 1-2 1-1 1-4 1-6 1 7 1 1 1-3 1 0 1-1 1-1 1-1 1 0 1 0 1 1 1 1 1 8 1 7 1-1 1 8 1 1 1 6 1-2 1 2 1-5 1-4 1 0 1 2 1-4 1-12 1 2" stroke="#8aff00"/>
<path d="M1 0l1 3 1 0 1-3 1 7 1 2 1 5 1-4 1 0 1-12 1 3 1 8 1 1 1 3 1 5 1-26 1 12 1 6 1 9 1 0 1-1 1-2 1 2 1-5 1-6 1-6 1 10 1-3 1 0 1-2 1-4 1 2 1-2 1-4 1 2 1 8 1-3 1 9 1-6" stroke="#ffff00"/>
<path d="M1 0l1-1 1 7 1 1 1 0 1 1 1-4 1 2 1 5 1 5 1-4 1-3 1-3 1 3 1 1 1-4 1-24 1 15 1-4 1-8 1-11 1 0 1 15 1-3 1 7 1 7 1 4 1 0 1 0 1-4 1-12 1 8 1-10 1-5 1-4 1 6 1-1 1-2 1 6" stroke="#ff9f00"/>
<path d="M1 0l1 39 1-2 1 8 1 1 1 7 1 3 1 4 1 2 1 3 1 14 1 18 1-3 1 1 1-9 1-2 1 6 1-2 1 5 1-10 1 0 1-3 1 9 1 4 1 9 1 9 1 8 1 3 1 12 1-8 1-15 1-6 1 1 1 10 1 6 1 8 1 22 1 15 1-13" stroke="#ffa800"/>
<path d="M1 0l1 14 1-8 1-1 1-1 1-4 1 0 1-12 1 3 1 2 1 6 1-4 1 7 1-16 1 17 1-8 1-3 1-6 1 8 1-9 1 1 1-4 1-13 1-8 1-5 1 0 1 13 1 2 1-15 1 2 1-29 1 9 1 3 1-15 1 6 1-3 1-20 1 10 1-4" stroke="#b3ff00"/>
<path d="M1 0l1 23 1 7 1 2 1-5 1 1 1 6 1-3 1 5 1-2 1 10 1-4 1 1 1 8 1-5 1 5 1-6 1-4 1-2 1-2 1 1 1-1 1 1 1-1 1-2 1-8 1-2 1 0 1 9 1 12 1-6 1 3 1 4 1 5 1-2 1 4 1 2 1 4 1 0" stroke="#9fff00"/>
<path d="M1 0l1 3 1-4 1 0 1 4 1 12 1 10 1 9 1-5 1-2 1 1 1 3 1 3 1-35 1 7 1 8 1-5 1-3 1-3 1 2 1-12 1 13 1 0 1 3 1-1 1 4 1 6 1 0 1 5 1-5 1-5 1 7 1-1 1-10 1-21 1 1 1-1 1 10 1-21" stroke="#d5ff00"/>
<path d="M1 0l1 14 1 7 1 5 1 0 1 4 1-4 1 2 1 9 1 9 1 1 1-1 1-12 1 3 1-7 1 0 1-8 1-2 1-14 1 0 1-7 1 2 1 5 1 1 1-8 1 0 1-3 1 5 1 8 1-3 1-3 1 2 1-1 1-4 1 3 1 6 1-2 1-19 1-4" stroke="#a5ff00"/>
<path d="M1 0l1-22 1 7 1 5 1 9 1 6 1-10 1-7 1 6 1 7 1-1 1-2 1 10 1 5 1 1 1 3 1 5 1-3 1 6 1 6 1 15 1 1 1 3 1 3 1-5 1-2 1 15 1 1 1 6 1-6 1 5 1 7 1-4 1 12 1 2 1-2 1-1 1-2 1 2" stroke="#83ff00"/>
<path d="M1 0l1 7 1-2 1 3 1-2 1-6 1 0 1-3 1-7 1 6 1-6 1 3 1 4 1 4 1 4 1 2 1-1 1-2 1-4 1-7 1 0 1-1 1 2 1 3 1-1 1 10 1 7 1-4 1 0 1 2 1-3 1-2 1 10 1 5 1-8 1-12 1-1 1 13 1 1" stroke="#eaff00"/>
<path d="M1 0l1-10 1-5 1 1 1 0 1-7 1-1 1 20 1 0 1 2 1-11 1 6 1 6 1 1 1-3 1 3 1-2 1 0 1-2 1-5 1-6 1-6 1-1 1 8 1-7 1-1 1 7 1-5 1-2 1 2 1 5 1 2 1-4 1 2 1-12 1 7 1 9 1-11 1-3" stroke="#00ff28"/>
<path d="M1 0l1-16 1 6 1 1 1-1 1 4 1 3 1-6 1 1 1 6 1 2 1 1 1-4 1-8 1 11 1-8 1 3 1 3 1 0 1 2 1-1 1 0 1-10 1 0 1 3 1 6 1 2 1 2 1-2 1 3 1-2 1 12 1 6 1-2 1-9 1-2 1 2 1-3 1 7" stroke="#01ff00"/>
<path d="M1 0l1 23 1 5 1-5 1-16 1-1 1 1 1-4 1 2 1 6 1-5 1 3 1-3 1 1 1 1 1 4 1 7 1-2 1 1 1 1 1 0 1-6 1 3 1 3 1 6 1 0 1-4 1 4 1 4 1 0 1 1 1-1 1 0 1-3 1-1 1-3 1 0 1 1 1 1" stroke="#ffc200"/>
<path d="M1 0l1-13 1-3 1-10 1-7 1-1 1-3 1-3 1 0 1 2 1-1 1-2 1 1 1 1 1 6 1-3 1-3 1 2 1-2 1-2 1 8 1-5 1 8 1 3 1 10 1 0 1 0 1 0 1-2 1-4 1 0 1-9 1 4 1-2 1-3 1 4 1-4 1-1 1-1" stroke="#0fff00"/>
<path d="M1 0l1-5 1-4 1 1 1 7 1 2 1 2 1 2 1-7 1 2 1 3 1 3 1 5 1 1 1-1 1 0 1 3 1 5 1 4 1 3 1-3 1 1 1 3 1-1 1 4 1-6 1 5 1-8 1 6 1-15 1 1 1 2 1 3 1 0 1-1 1 1 1-8 1 5 1-4" stroke="#00ff0d"/>
<path d="M1 0l1 21 1-6 1 12 1-24 1 21 1-16 1 5 1 10 1-1 1-8 1 9 1-15 1-6 1-6 1-11 1 8 1 11 1 1 1-3 1-24 1 21 1 26 1-15 1 17 1 7 1-19 1 11 1 11 1-16 1 2 1 7 1-8 1 4 1 6 1 21 1-13 1-23 1-3" stroke="#7cff00"/>
<path d="M1 0l1 11 1 10 1-8 1 7 1 4 1-2 1-6 1-1 1-1 1-9 1 2 1-1 1 6 1 0 1 5 1 2 1-1 1 9 1 0 1 2 1 18 1-11 1-2 1 9 1 17 1-3 1 1 1-3 1 0 1-14 1-3 1-4 1-5 1 10 1 6 1 6 1 15 1-6" stroke="#ffbb00"/>
<path d="M1 0l1 4 1 10 1-18 1 1 1-5 1-8 1 4 1-4 1 6 1 7 1-2 1 7 1 0 1 5 1-10 1 12 1 0 1-16 1 4 1 15 1 3 1-6 1-8 1 3 1-9 1 1 1 2 1 1 1 6 1 4 1 9 1-1 1 3 1 6 1-3 1 0 1-10 1 0" stroke="#98ff00"/>
<path d="M1 0l1-17 1 9 1-2 1 10 1-2 1-1 1-9 1 2 1 4 1 6 1-4 1 5 1-11 1 3 1-6 1 1 1 1 1-18 1 2 1-10 1 3 1 3 1-5 1-3 1-3 1 1 1 2 1-1 1-8 1-1 1 7 1 17 1 2 1-15 1-3 1-2 1-19 1 3" stroke="#2aff00"/>
<path d="M1 0l1 15 1-1 1 0 1 4 1-1 1 8 1 7 1 1 1-1 1 16 1 3 1 8 1-10 1 6 1-4 1-4 1-1 1-3 1 11 1-6 1 3 1 3 1 11 1-2 1-5 1 2 1-12 1 2 1-3 1 7 1-9 1-3 1-5 1 0 1 2 1-1 1 0 1 4" stroke="#fff900"/>
<path d="M1 0l1 3 1 16 1-2 1 11 1-11 1 19 1-12 1 11 1-1 1 20 1-4 1 3 1-12 1 6 1-11 1-2 1-7 1-3 1-2 1 0 1 4 1 5 1 17 1 1 1-25 1-3 1 7 1-1 1 9 1-1 1 5 1 7 1-6 1 2 1-5 1-20 1 3 1 6" stroke="#91ff00"/>
<path d="M1 0l1-10 1-6 1-1 1-1 1 11 1-14 1-11 1 7 1 6 1-1 1 6 1-1 1 6 1-6 1 0 1 7 1 17 1-8 1 3 1 8 1 6 1-2 1-10 1-1 1 0 1-5 1-5 1-5 1-7 1 2 1 4 1-7 1-3 1 10 1-3 1-10 1 7 1 1" stroke="#ffb400"/>
<path d="M1 0l1 0 1 1 1-3 1 2 1-4 1 7 1 9 1-1 1 4 1-6 1 1 1 0 1-4 1 0 1-1 1-5 1 0 1-2 1-5 1-8 1 13 1 7 1-4 1 5 1-17 1 3 1 2 1 4 1-1 1 4 1-3 1 1 1 2 1-2 1-6 1-2 1-7 1-11" stroke="#15ff00"/>
<path d="M1 0l1 22 1 7 1-7 1 20 1-7 1 9 1 4 1 0 1-1 1 0 1-1 1 2 1 1 1-1 1 5 1 5 1-1 1-7 1-2 1 8 1-7 1 4 1-19 1-3 1 3 1 1 1-1 1 3 1 6 1 5 1-4 1 3 1-8 1 1 1 9 1 7 1 1 1 2" stroke="#dcff00"/>
<path d="M1 0l1-11 1-5 1-3 1 2 1 5 1 2 1-7 1-2 1-4 1 6 1 6 1-4 1 5 1-1 1 13 1-1 1-6 1-1 1-1 1 2 1-2 1 13 1-4 1 5 1 0 1 0 1 6 1-2 1-5 1 8 1 0 1 4 1 0 1 1 1 2 1-3 1 4 1-4" stroke="#5aff00"/>
<path d="M1 0l1 11 1 14 1 15 1 11 1 17 1 0 1 1 1 15 1-12 1-3 1 3 1-6 1 14 1 28 1-9 1-6 1-3 1 9 1-13 1-1 1-1 1-2 1 3 1 0 1 6 1 8 1 8 1 0 1-3 1-21 1-9 1 6 1 12 1 11 1 3 1 8 1 6 1-12" stroke="#05ff00"/>
<path d="M1 0l1 6 1-6 1-6 1 3 1 10 1 1 1 14 1-5 1-14 1-2 1 5 1 12 1 4 1-7 1-6 1-4 1-5 1 3 1-9 1 6 1-5 1-6 1 2 1 3 1-10 1-4 1-3 1-8 1-11 1-4 1-1 1-9 1-3 1 0 1-14 1 7 1-5 1-7" stroke="#3fff00"/>
<path d="M1 0l1 11 1 13 1 1 1-10 1 3 1-2 1 11 1-7 1-3 1 6 1 7 1-4 1 16 1-3 1-5 1 4 1-6 1-10 1-3 1 3 1 3 1 6 1-4 1-5 1-3 1-4 1 9 1-8 1 0 1 6 1 5 1-3 1-2 1-12 1-1 1 4 1-8 1 24" stroke="#23ff00"/>
<path d="M1 0l1 0 1-7 1-11 1 2 1 3 1 4 1 5 1 7 1-5 1-3 1-2 1 1 1 4 1-1 1 0 1-3 1-5 1-2 1 4 1 6 1-1 1 3 1-3 1-9 1 10 1-4 1-4 1-3 1 7 1 1 1 14 1-12 1 10 1-3 1-9 1 9 1 9 1-4" stroke="#4cff00"/>
<path d="M1 0l1 13 1 5 1-2 1-3 1-2 1 6 1-1 1-6 1-3 1-2 1 14 1-4 1-4 1 12 1 2 1 4 1 7 1 8 1-22 1 9 1 0 1 6 1 1 1-5 1 8 1 5 1 0 1 2 1-5 1 2 1-3 1 0 1-7 1-5 1 5 1-3 1-5 1-6" stroke="#68ff00"/>
<path d="M1 0l1 5 1 16 1-2 1-5 1 2 1-2 1 19 1-4 1-1 1-1 1 3 1-14 1-1 1 5 1 10 1-10 1-13 1 14 1 4 1-4 1 5 1 0 1 7 1-4 1 6 1-1 1 4 1 10 1-1 1-3 1 17 1-33 1-24 1 14 1-4 1-4 1-7 1 7" stroke="#1cff00"/>
<path d="M1 0l1 35 1-8 1-2 1 6 1 3 1 6 1-5 1 2 1-5 1 3 1 0 1 5 1 6 1 3 1 5 1 5 1-4 1 3 1 0 1 4 1 4 1-4 1 11 1 1 1-5 1 9 1 0 1 2 1-2 1 4 1-2 1-4 1-4 1 0 1-20 1 4 1 0 1-1" stroke="#6fff00"/>
<path d="M1 0l1 2 1-10 1 9 1-2 1-9 1-25 1 5 1-3 1-2 1 17 1-2 1-23 1 14 1 4 1 2 1 4 1-5 1-8 1 13 1 13 1 10 1-10 1 10 1 6 1-2 1-21 1 5 1-2 1 0 1-22 1 7 1-9 1 17 1-19 1 4 1 6 1 0 1-14" stroke="#00ff06"/>
<path d="M1 0l1-18 1-7 1 38 1-5 1 10 1 0 1 10 1-8 1 2 1 0 1-15 1 18 1-18 1 3 1 3 1-7 1-2 1-13 1-2 1-16 1-10 1 1 1-13 1-3 1 5 1-12 1 2 1-2 1 5 1-10 1 10 1-4 1 0 1-7 1 0 1-1 1-13 1 14" stroke="#38ff00"/>
<path d="M1 0l1 20 1-10 1 5 1 6 1 0 1 7 1-2 1 1 1 9 1 13 1 13 1-5 1 1 1 0 1-6 1-1 1-15 1-3 1-4 1-1 1 1 1-2 1 7 1-13 1-6 1-3 1-1 1-2 1-7 1 7 1-5 1-1 1 7 1-2 1-1 1 15 1 26 1 11" stroke="#00ff14"/>
<path d="M1 0l1 31 1 1 1 2 1-13 1-3 1 13 1 5 1 4 1 3 1-1 1-6 1-7 1 8 1 1 1 1 1-1 1 2 1-4 1 9 1 3 1-6 1 2 1 1 1-2 1-2 1 1 1-2 1 2 1-8 1 2 1-6 1-4 1-7 1-2 1-16 1-6 1 3 1 3" stroke="#00ff5f"/>
<path d="M1 0l1 24 1-10 1-3 1-2 1 5 1-6 1 8 1-2 1-13 1 1 1 8 1 0 1 12 1 2 1-5 1 1 1-2 1-2 1-8 1 4 1-6 1-2 1 10 1-14 1 0 1-10 1 8 1 4 1 16 1-8 1 3 1-3 1-4 1 8 1-6 1-1 1 3 1 1" stroke="#00ff66"/>
<path d="M1 0l1-9 1-7 1-3 1-2 1-4 1 7 1 0 1-3 1-11 1-2 1-1 1-25 1 1 1 18 1-5 1 6 1-4 1 5 1-9 1 0 1 7 1-2 1 1 1-6 1-2 1 4 1-6 1 3 1-5 1 5 1-2 1-4 1 8 1-3 1 2 1 2 1 0 1-5" stroke="#61ff00"/>
<path d="M1 0l1 7 1-1 1-8 1 4 1-1 1 10 1 1 1-13 1-1 1 4 1-6 1 1 1 0 1 3 1 0 1-2 1 0 1-3 1 10 1-4 1 2 1 2 1 4 1 8 1-4 1 3 1 3 1 3 1-4 1-4 1 3 1 2 1 2 1 1 1 0 1 2 1 2 1-5" stroke="#00ff36"/>
<path d="M1 0l1-6 1-7 1 2 1 3 1-11 1-7 1-8 1-2 1-2 1 5 1-14 1 7 1 11 1 7 1 7 1 3 1 0 1-11 1-3 1 10 1 6 1-15 1 9 1-6 1-5 1-7 1-8 1-11 1 7 1-8 1-15 1 3 1 13 1-5 1-16 1 3 1 8 1-2" stroke="#00ff58"/>
<path d="M1 0l1 4 1 0 1 7 1 4 1 3 1 3 1 1 1 5 1 5 1-2 1-13 1 5 1-7 1-5 1 5 1 0 1-4 1 11 1-1 1-3 1 10 1-7 1-2 1 0 1 4 1-1 1 3 1 3 1 4 1-6 1 0 1 7 1 3 1-7 1 2 1-6 1 0 1 0" stroke="#00ff21"/>
<path d="M1 0l1-2 1 3 1 6 1-1 1-2 1 10 1-5 1 6 1-2 1 11 1-9 1 8 1 2 1-2 1 10 1-6 1 2 1 1 1 4 1-9 1 2 1 1 1 2 1 14 1-3 1 3 1-1 1-1 1 0 1-16 1 5 1-5 1-4 1-1 1 1 1-9 1-9 1 2" stroke="#00ffa1"/>
<path d="M1 0l1 32 1-3 1-1 1-5 1-1 1-2 1 15 1-14 1 2 1-1 1-5 1 2 1-4 1 3 1-1 1-3 1-2 1 11 1-7 1-3 1 0 1-3 1 7 1 5 1 8 1 2 1-1 1 4 1 4 1-2 1 2 1-6 1 7 1-3 1 0 1 5 1-2 1 3" stroke="#00ff7f"/>
<path d="M1 0l1-17 1 0 1-1 1 8 1 0 1-1 1-3 1 0 1-5 1 10 1-11 1 6 1 18 1-1 1 1 1-12 1 0 1-8 1 0 1-1 1 1 1 6 1-1 1 2 1 4 1-3 1-3 1 3 1 2 1-1 1-5 1 0 1 6 1-7 1 1 1-4 1-11 1 4" stroke="#00ffdc"/>
<path d="M1 0l1 33 1-5 1-2 1-1 1 4 1-8 1-5 1-2 1-10 1 4 1 11 1-3 1 6 1 1 1-4 1 5 1-3 1 1 1-6 1-3 1-1 1 3 1 6 1 0 1 14 1 2 1-6 1 8 1-5 1-4 1 5 1-9 1-1 1 1 1-7 1 18 1 8 1-5" stroke="#08ff00"/>
<path d="M1 0l1-64 1 10 1-8 1-4 1-3 1 0 1-2 1 5 1 2 1-3 1 3 1 3 1 0 1-13 1-7 1-3 1-3 1-5 1 6 1-7 1-8 1 16 1 4 1-8 1-6 1-9 1-13 1 8 1 6 1 0 1-9 1 7 1-6 1-3 1 1 1-12 1-8 1-11" stroke="#05ff00"/>
<path d="M1 0l1-21 1-6 1 5 1 2 1-10 1 3 1-10 1-5 1-3 1 12 1-3 1 4 1 5 1-1 1-5 1-12 1-12 1 10 1-12 1 0 1-9 1-1 1-2 1 5 1-8 1-14 1 5 1 4 1 5 1 2 1 11 1 13 1-2 1-6 1 10 1-8 1 6 1 12" stroke="#00ff77"/>
<path d="M1 0l1 1 1 7 1-2 1 10 1 0 1 4 1-3 1 8 1-2 1 8 1-2 1 7 1-9 1-1 1-3 1 3 1 0 1-4 1 6 1-4 1 4 1-6 1 7 1-4 1 2 1-1 1 1 1 18 1 0 1 2 1-13 1 2 1 1 1 1 1 4 1 1 1-4 1 6" stroke="#00ff4b"/>
<path d="M1 0l1 3 1 2 1-2 1 7 1-3 1 7 1 5 1 5 1-5 1-15 1 4 1-15 1 0 1 3 1-2 1-11 1-9 1 0 1 13 1-1 1 0 1 0 1-5 1-6 1 6 1-4 1-7 1 8 1 0 1 11 1 2 1-4 1-2 1-7 1 10 1-6 1 8 1 5" stroke="#00ff99"/>
<path d="M1 0l1 9 1-6 1 5 1 2 1 2 1-2 1 2 1 18 1-4 1 3 1-11 1 0 1 0 1 6 1 14 1 4 1 0 1 8 1-7 1 5 1-2 1-4 1-3 1 10 1-1 1-3 1 5 1-13 1 4 1-3 1 4 1 7 1 0 1-6 1-2 1 5 1-12 1 7" stroke="#00ff6e"/>
<path d="M1 0l1 8 1 3 1-8 1 7 1 4 1 6 1-21 1 7 1-1 1 7 1 0 1 2 1 3 1 7 1-6 1-2 1 1 1 2 1-11 1 2 1-11 1-2 1-1 1 0 1 5 1 2 1 3 1 4 1-9 1-3 1-6 1 3 1 7 1 2 1 5 1-2 1 16 1-5" stroke="#acff00"/>
<path d="M1 0l1-9 1-3 1-9 1 7 1-2 1 0 1-4 1-3 1-1 1-1 1-3 1-5 1 11 1-5 1-17 1 0 1-3 1 0 1-7 1 12 1 3 1 15 1-3 1 5 1-5 1 2 1 4 1 12 1 6 1-2 1-1 1-2 1 10 1 2 1-7 1-3 1 5 1-3" stroke="#00ff1b"/>
<path d="M1 0l1-4 1-18 1 13 1-9 1-3 1 24 1-1 1 13 1 1 1 1 1 5 1-2 1-7 1 6 1-10 1 9 1 6 1-16 1 5 1-22 1 11 1 3 1 10 1-17 1 14 1-27 1 2 1-24 1 6 1 2 1 0 1-12 1-3 1 5 1-5 1 3 1 1 1 6" stroke="#00ff44"/>
<path d="M1 0l1-3 1-1 1-4 1-2 1 5 1 10 1 1 1-6 1-2 1-3 1 8 1-4 1-11 1 5 1 3 1-1 1 5 1-1 1 8 1 1 1 0 1 3 1-4 1 13 1 0 1-4 1-3 1 3 1-2 1-5 1 2 1 5 1 0 1-17 1-1 1-1 1-11 1 3" stroke="#00cdff"/>
<path d="M1 0l1-10 1 39 1-22 1 5 1-5 1 5 1-7 1 18 1-16 1-2 1 1 1-6 1-2 1 4 1 5 1-3 1-4 1 5 1-6 1 10 1-1 1 13 1-3 1-10 1 0 1-3 1-9 1 12 1-5 1-9 1 21 1-7 1-6 1 15 1-2 1 1 1-1 1-1" stroke="#00ff90"/>
<path d="M1 0l1-1 1 1 1 3 1-17 1 5 1 2 1-5 1 10 1-8 1-3 1 1 1 2 1 3 1-4 1 8 1 0 1-6 1-13 1-4 1 2 1-3 1-1 1 4 1-3 1 1 1-2 1-1 1-2 1 1 1-4 1 1 1-4 1-1 1-8 1 1 1-14 1 10 1 0" stroke="#00ffba"/>
<path d="M1 0l1 18 1 4 1 8 1-1 1 5 1-16 1 0 1-1 1 5 1 0 1 0 1-9 1-6 1-6 1-1 1 2 1 6 1 0 1 1 1-4 1-5 1 0 1-3 1 1 1 2 1 1 1 7 1-1 1-5 1 11 1-6 1-1 1 8 1 0 1-1 1-13 1 9 1-3" stroke="#00e7ff"/>
<path d="M1 0l1-16 1-10 1-11 1-2 1-6 1-3 1-9 1-4 1-7 1-5 1-5 1 2 1 2 1 3 1 3 1-2 1-3 1-3 1 3 1-2 1 6 1-4 1 0 1-2 1 0 1 1 1-4 1 2 1-3 1 4 1-2 1 3 1-5 1-3 1 3 1 2 1-1 1-2" stroke="#00ffff"/>
<path d="M1 0l1-3 1-1 1-3 1-2 1 3 1-3 1 0 1 9 1-1 1-3 1-4 1-3 1 1 1 5 1-4 1 1 1-3 1-5 1 1 1-3 1 0 1 4 1-3 1 10 1 4 1-1 1-2 1 13 1-5 1 6 1-3 1-7 1 5 1 1 1 0 1-6 1-5 1-1" stroke="#00ffd4"/>
<path d="M1 0l1 3 1-6 1 9 1-2 1 3 1 4 1 2 1-5 1 2 1-10 1 40 1-8 1 5 1 0 1 1 1-3 1 5 1 2 1-6 1 8 1-1 1-10 1-2 1 4 1-4 1 0 1 8 1-5 1-6 1 1 1-4 1-4 1-3 1 0 1 1 1 6 1-7 1 16" stroke="#00ff3d"/>
<path d="M1 0l1 11 1 6 1 4 1-1 1 4 1-2 1 24 1-2 1-10 1-3 1-1 1-2 1 4 1-7 1 2 1 6 1-7 1-11 1 3 1 11 1-6 1-2 1-1 1 5 1 8 1-2 1-3 1-1 1-1 1-13 1-10 1-14 1-17 1 9 1-5 1-7 1 6 1-33" stroke="#00ffe5"/>
<path d="M1 0l1 0 1 3 1-9 1 2 1-9 1 3 1 0 1-13 1-3 1-17 1 13 1-15 1 3 1 15 1 2 1-4 1-14 1 3 1 3 1 7 1 2 1-2 1-2 1 1 1-9 1-6 1-4 1-1 1 4 1-2 1-2 1 1 1 6 1 12 1-11 1-9 1-13 1 15" stroke="#004eff"/>
<path d="M1 0l1 4 1-11 1-13 1 8 1-2 1 5 1-7 1 13 1 3 1-6 1-6 1 1 1-15 1 6 1 4 1-11 1 6 1-9 1 5 1 3 1 8 1-3 1 4 1 0 1 5 1-20 1 6 1-11 1-4 1 3 1 0 1-3 1 0 1-7 1-4 1 14 1 2 1 4" stroke="#00ffed"/>
<path d="M1 0l1 4 1-7 1 5 1 3 1 11 1-1 1 6 1 0 1 10 1 0 1-9 1 5 1-2 1 6 1 7 1-8 1 8 1-7 1-1 1 2 1 1 1-2 1-2 1 1 1-1 1 7 1-16 1-7 1 7 1 5 1-7 1-4 1 1 1 1 1-4 1-3 1 6 1-10" stroke="#00ffaa"/>
<path d="M1 0l1 11 1 3 1-11 1 4 1-5 1-4 1 2 1 12 1 19 1-6 1 7 1 6 1-5 1 23 1-3 1-7 1-9 1 5 1 19 1-3 1-8 1 1 1 6 1 3 1-8 1-4 1-8 1 8 1-4 1 7 1-1 1 1 1 28 1-1 1 6 1-18 1 17 1-10" stroke="#00ff51"/>
<path d="M1 0l1 0 1-6 1-2 1-6 1-1 1 3 1-21 1 0 1-6 1-4 1 0 1-20 1 3 1-3 1-1 1-3 1-9 1 0 1 4 1 0 1-3 1 3 1 12 1-2 1-3 1 3 1 3 1 6 1 1 1-9 1-4 1-5 1 10 1-3 1 1 1-14 1 27 1-10" stroke="#00ffc3"/>
<path d="M1 0l1 11 1 4 1 7 1 18 1 8 1 6 1 4 1-13 1-2 1-13 1 11 1 1 1 9 1 2 1 2 1-5 1 2 1 12 1 18 1 1 1-3 1 8 1-15 1 18 1-6 1-17 1 17 1-1 1 10 1 0 1-10 1-26 1 4 1-10 1-8 1 3 1 6 1-4" stroke="#00ff2f"/>
<path d="M1 0l1-39 1 0 1-4 1 10 1 0 1 10 1 6 1-13 1 9 1-1 1-7 1-19 1 1 1-11 1 5 1 19 1-2 1 0 1-8 1-6 1 6 1 0 1 10 1-12 1 5 1 9 1-3 1 5 1 3 1-5 1 1 1 9 1-3 1 2 1-10 1 18 1 41 1 33" stroke="#0061ff"/>
<path d="M1 0l1-8 1 12 1-5 1-12 1 10 1-5 1-6 1 1 1-3 1-4 1-9 1 0 1-6 1-6 1-10 1-3 1 10 1-1 1 2 1-24 1 24 1 6 1 5 1-2 1-4 1 1 1-5 1-9 1 2 1-2 1 6 1 15 1 2 1 18 1 7 1-9 1 11 1 11" stroke="#00ffcb"/>
<path d="M1 0l1 4 1 0 1-7 1-5 1 3 1 4 1 4 1-3 1-5 1-5 1-2 1 0 1-14 1 9 1 9 1-5 1 0 1-10 1 34 1-7 1 5 1 0 1 3 1 5 1 2 1 11 1 12 1 9 1-6 1-3 1 0 1 3 1-4 1-2 1 25 1-4 1 3 1-5" stroke="#00efff"/>
<path d="M1 0l1-19 1 5 1-7 1 0 1-2 1 0 1-11 1-4 1-9 1-18 1 5 1-2 1 0 1 7 1-2 1 1 1 0 1-1 1 3 1 4 1-3 1-1 1-3 1 4 1 0 1 4 1-5 1 10 1 2 1 6 1-8 1 5 1 1 1-8 1 3 1 4 1 6 1 1" stroke="#0081ff"/>
<path d="M1 0l1 10 1 1 1-10 1-1 1 1 1-1 1 11 1-5 1 2 1 3 1 1 1-4 1-2 1 0 1 0 1-5 1 5 1 4 1-7 1 7 1-3 1 11 1 1 1 2 1-7 1 0 1 1 1-6 1 0 1 5 1 8 1-7 1 4 1-6 1 5 1-1 1-2 1 1" stroke="#0087ff"/>
<path d="M1 0l1 24 1 2 1 9 1 5 1-9 1 2 1-4 1-3 1-1 1-29 1-6 1-2 1 8 1 10 1-2 1-5 1 1 1-4 1 5 1 10 1-2 1 2 1 2 1-9 1-10 1 5 1-5 1 2 1-8 1-5 1 2 1-11 1 0 1 21 1-8 1-1 1-9 1-6" stroke="#0094ff"/>
<path d="M1 0l1-23 1-4 1-7 1-5 1-4 1 0 1 3 1-9 1 1 1-1 1 2 1 1 1 6 1-9 1 4 1 1 1 1 1 2 1 1 1-9 1 6 1-1 1 6 1-8 1 2 1 5 1 2 1 3 1 1 1-1 1-7 1-4 1-1 1-2 1-4 1-4 1-2 1-3" stroke="#0074ff"/>
<path d="M1 0l1 23 1 3 1 11 1-5 1 2 1-1 1 2 1 2 1 3 1-5 1-1 1-12 1 14 1 2 1 1 1 1 1-11 1-8 1-10 1-5 1 11 1-2 1-14 1 10 1 6 1 9 1-10 1-1 1 14 1 1 1-1 1-29 1-2 1 1 1 5 1 17 1-12 1 5" stroke="#00fffe"/>
<path d="M1 0l1-7 1-1 1-7 1-11 1-1 1-10 1 3 1 3 1-1 1 2 1-3 1-4 1-2 1-3 1-6 1-1 1 3 1-2 1 3 1-2 1 1 1-1 1 0 1 5 1-7 1-8 1-6 1-9 1 8 1 4 1-5 1-1 1 1 1-4 1 3 1 8 1-10 1 4" stroke="#00fff5"/>
<path d="M1 0l1 16 1 7 1-4 1 1 1 1 1-4 1 1 1-1 1-2 1 1 1-1 1 0 1-2 1 3 1-1 1 1 1 2 1-2 1-2 1 6 1 1 1 2 1-1 1 1 1 1 1 2 1-4 1-1 1 3 1 1 1 4 1 3 1-16 1 5 1 4 1-4 1 3 1-4" stroke="#008eff"/>
<path d="M1 0l1 14 1 4 1-5 1-9 1-2 1-6 1 0 1-2 1 3 1 7 1-1 1-4 1 5 1 7 1 1 1-6 1-3 1-6 1 4 1 4 1 2 1 2 1-7 1-2 1 3 1-2 1 1 1 1 1-4 1-2 1 0 1-3 1 1 1 9 1-10 1-2 1-4 1 4" stroke="#00ffb2"/>
<path d="M1 0l1 25 1-3 1 1 1-3 1 0 1 4 1 3 1-21 1-3 1 1 1 1 1-2 1 0 1-5 1 3 1-10 1 4 1 0 1-5 1-5 1-7 1-4 1 1 1-10 1 5 1 3 1-1 1 2 1 5 1-24 1 5 1-6 1-2 1-2 1 10 1-4 1 18 1-2" stroke="#00c5ff"/>
<path d="M1 0l1-40 1 2 1 3 1-1 1 9 1 9 1 4 1 1 1 22 1-5 1 0 1 0 1-11 1-1 1 2 1 15 1-4 1 2 1-1 1 3 1 3 1 0 1-3 1-3 1-2 1 1 1 3 1 13 1-24 1 15 1-9 1-4 1 10 1-9 1 21 1-22 1 23 1-7" stroke="#00deff"/>
<path d="M1 0l1 8 1 2 1-9 1 14 1-4 1 3 1-2 1 12 1-4 1-1 1 6 1 6 1 12 1 4 1-6 1 8 1 7 1 0 1 13 1-4 1-1 1-6 1 1 1 6 1-3 1 0 1-3 1 0 1 4 1-3 1-2 1 8 1-6 1-10 1-6 1 3 1 9 1-6" stroke="#00f8ff"/>
<path d="M1 0l1-4 1 5 1-1 1-1 1-1 1 0 1-3 1-2 1 2 1 3 1-18 1 2 1 2 1 0 1 7 1 0 1 2 1 0 1 3 1 4 1 2 1 0 1 2 1 4 1 3 1 0 1-9 1-3 1-1 1-7 1 2 1-4 1-3 1 2 1-20 1 3 1 7 1-11" stroke="#00ff88"/>
<path d="M1 0l1 27 1-21 1 7 1-3 1 15 1-3 1-4 1-5 1 0 1 4 1-5 1-1 1-2 1-5 1 7 1 3 1 5 1 6 1 2 1 4 1 12 1-2 1 1 1 6 1 5 1 3 1-3 1 6 1 2 1 5 1 4 1-4 1-4 1 2 1-6 1 1 1-1 1 3" stroke="#003bff"/>
<path d="M1 0l1-1 1 12 1 0 1 2 1-5 1 2 1 3 1-1 1 4 1-1 1-2 1 3 1 3 1-2 1 1 1-3 1 1 1-1 1 6 1 1 1 1 1-4 1 6 1 1 1-6 1-1 1 0 1 0 1 0 1-2 1 0 1 6 1 5 1 15 1 3 1-4 1-11 1 4" stroke="#0008ff"/>
<path d="M1 0l1 4 1 2 1 5 1-8 1 2 1-7 1 6 1 8 1-1 1-5 1 5 1-8 1-2 1-6 1 1 1 0 1-9 1 2 1-4 1 3 1 2 1 3 1 2 1-4 1-2 1-7 1-1 1 6 1 0 1-4 1-7 1 3 1 0 1 1 1 2 1 3 1 0 1-4" stroke="#007aff"/>
<path d="M1 0l1-2 1-3 1 4 1 3 1 4 1-5 1-3 1 4 1-4 1 0 1 7 1-4 1-3 1 4 1-3 1 6 1-1 1-2 1-3 1-3 1 6 1-4 1-10 1-11 1 8 1 1 1-3 1 8 1-6 1-2 1 0 1 0 1-12 1 9 1-2 1-1 1 6 1 5" stroke="#0001ff"/>
<path d="M1 0l1 35 1-29 1 6 1-1 1-17 1 18 1-1 1-4 1-3 1-1 1 4 1 0 1-2 1-1 1-1 1-6 1 1 1-3 1-2 1-14 1-5 1-5 1-3 1-5 1 13 1 16 1-7 1 8 1-6 1-17 1 1 1-11 1-5 1-9 1 1 1-3 1-1 1 9" stroke="#00d6ff"/>
<path d="M1 0l1-8 1-5 1 8 1 1 1-5 1 4 1-4 1 5 1-11 1 4 1 2 1 6 1-3 1 3 1 11 1 2 1 4 1 6 1 2 1-2 1-2 1 8 1-3 1-3 1-5 1 5 1 4 1-4 1 0 1 8 1-2 1 1 1 5 1-3 1 4 1-3 1 6 1 15" stroke="#00a7ff"/>
<path d="M1 0l1 3 1 0 1-5 1-7 1 0 1-1 1-10 1-3 1 0 1 8 1-4 1 0 1-2 1 19 1 5 1-1 1-3 1-1 1 4 1-4 1 1 1 4 1 11 1 4 1-12 1 0 1 0 1 1 1-1 1-2 1 0 1-2 1-5 1 0 1 4 1-3 1 2 1 2" stroke="#00bdff"/>
<path d="M1 0l1 0 1 3 1-5 1 5 1-4 1 1 1 1 1 5 1 8 1 1 1-2 1 0 1 2 1 5 1 3 1-2 1 2 1 3 1 3 1-4 1 0 1 2 1 1 1-1 1 1 1 9 1 7 1 7 1-7 1 6 1 5 1-6 1-4 1-4 1 4 1 0 1 1 1 4" stroke="#0034ff"/>
<path d="M1 0l1-10 1 0 1 6 1-5 1 2 1-3 1-5 1-5 1 3 1 1 1 0 1-6 1 1 1-2 1 2 1-7 1 0 1 2 1-5 1 2 1-2 1 4 1 5 1 1 1-14 1 13 1-4 1-3 1 7 1-1 1 0 1-5 1-4 1 0 1-5 1 7 1-2 1 3" stroke="#00adff"/>
<path d="M1 0l1 14 1 3 1-3 1-9 1-5 1 3 1-2 1 1 1-1 1 3 1-3 1-3 1-4 1 2 1 2 1 1 1-2 1 3 1 0 1 0 1-2 1 5 1-4 1-6 1 1 1 1 1 2 1 0 1 6 1 0 1 0 1-1 1-4 1-3 1-3 1 1 1 4 1 2" stroke="#1800ff"/>
<path d="M1 0l1 5 1 2 1 2 1 1 1-1 1 1 1-2 1-3 1-2 1 1 1 2 1 2 1 2 1 3 1-1 1 3 1-1 1-1 1 0 1 1 1-1 1-4 1 1 1-2 1 0 1 0 1 1 1-2 1 2 1-3 1-3 1 0 1 1 1 1 1 2 1-1 1 0 1 1" stroke="#3200ff"/>
<path d="M1 0l1 8 1 3 1-3 1 3 1-2 1 3 1 1 1 5 1-8 1-1 1-6 1-2 1 1 1 0 1 7 1 3 1 0 1 5 1-1 1-9 1 1 1-7 1 2 1-2 1-1 1 1 1 3 1 0 1 1 1-3 1 3 1 5 1 0 1 4 1 2 1 4 1 6 1-7" stroke="#00a1ff"/>
<path d="M1 0l1 11 1-2 1-4 1 2 1 4 1-1 1-7 1 1 1 10 1 0 1-8 1 3 1-7 1-3 1 3 1-28 1-1 1-6 1-5 1-9 1-9 1-10 1 1 1-2 1-1 1-6 1 4 1 20 1-1 1-7 1-5 1-4 1 1 1 1 1 4 1 2 1 3 1 1" stroke="#00b4ff"/>
<path d="M1 0l1 18 1 3 1-8 1 1 1 2 1 1 1-8 1 10 1-10 1-3 1 0 1 3 1-7 1-6 1 0 1 0 1 5 1-2 1 3 1-4 1-6 1-3 1 5 1 1 1 11 1 2 1 11 1-15 1-5 1 11 1-12 1-1 1 2 1-4 1-3 1-8 1-1 1-7" stroke="#002eff"/>
<path d="M1 0l1 8 1-5 1 7 1 0 1 0 1-9 1 2 1 1 1 2 1-2 1 2 1-3 1 2 1 3 1-3 1 8 1-1 1 4 1-2 1 1 1-8 1 6 1-1 1 9 1 0 1-3 1 0 1-3 1-7 1 6 1-3 1-1 1 7 1 2 1 2 1-1 1-4 1-6" stroke="#006eff"/>
<path d="M1 0l1 6 1 5 1-3 1-10 1 9 1-7 1 4 1 9 1 1 1-4 1-10 1 8 1 13 1-5 1-2 1 3 1 0 1 20 1-3 1-5 1-2 1 0 1-9 1 4 1 7 1 3 1 4 1 3 1-6 1 4 1 0 1-4 1-4 1-1 1-2 1-4 1 11 1-7" stroke="#3800ff"/>
<path d="M1 0l1-1 1 2 1 1 1-3 1 1 1 4 1-5 1-1 1 1 1 5 1 0 1 1 1 1 1-6 1 0 1 0 1 1 1 1 1 0 1 5 1-3 1 0 1-1 1 0 1-4 1 0 1 0 1 0 1 4 1 9 1 0 1-1 1 3 1-1 1 0 1 0 1 0 1 2" stroke="#6400ff"/>
<path d="M1 0l1-5 1 3 1 1 1 6 1-6 1-3 1 10 1-3 1-2 1-2 1-4 1-1 1-3 1 3 1 5 1 6 1-2 1-6 1 13 1-1 1-5 1-3 1 4 1-6 1-2 1 3 1-1 1 0 1-4 1 1 1-1 1 3 1 2 1 3 1-5 1 2 1-2 1 7" stroke="#0054ff"/>
<path d="M1 0l1 3 1 1 1-5 1 3 1-5 1-3 1-2 1-3 1 4 1 3 1-2 1 0 1 3 1 3 1 5 1 5 1 2 1 2 1-1 1-6 1 2 1-1 1 1 1 0 1 0 1-8 1-5 1 2 1 2 1-5 1 3 1-10 1 3 1-9 1-10 1 0 1-7 1-1" stroke="#0067ff"/>
<path d="M1 0l1 29 1-15 1 9 1 1 1 1 1-3 1 0 1 0 1 3 1 5 1-1 1 1 1-2 1-6 1-10 1 1 1 4 1 13 1 0 1-5 1 4 1-9 1-2 1-6 1 4 1-5 1 10 1-1 1-5 1-7 1 0 1-10 1-5 1 1 1-1 1-2 1-6 1-4" stroke="#005bff"/>
<path d="M1 0l1-1 1-1 1-1 1-3 1 0 1 2 1-2 1-1 1-2 1 0 1-2 1 5 1 0 1-1 1 0 1-2 1 2 1 0 1-2 1-1 1 0 1 3 1 0 1 0 1-2 1 0 1-1 1 0 1-2 1 1 1 1 1-1 1-5 1 0 1 5 1 4 1 5 1-2" stroke="#0047ff"/>
<path d="M1 0l1-11 1 3 1 0 1-2 1 9 1-12 1 2 1 3 1-3 1 3 1-6 1-4 1 1 1-10 1 1 1-4 1-10 1 7 1-8 1 1 1 2 1 14 1 0 1 9 1 1 1-5 1 2 1-4 1 1 1 1 1-4 1 4 1-6 1 1 1 5 1-2 1 0 1-4" stroke="#0041ff"/>
<path d="M1 0l1-4 1 2 1-1 1 0 1 12 1 1 1 10 1 5 1-7 1 4 1 3 1-10 1 11 1 3 1-4 1-11 1-5 1-1 1-3 1-10 1-5 1 17 1-15 1-3 1-3 1 3 1-7 1 3 1-18 1 12 1-25 1-9 1-3 1-5 1 6 1 1 1-6 1-3" stroke="#001bff"/>
<path d="M1 0l1-2 1 0 1 0 1-2 1 0 1 4 1-3 1 7 1 6 1-4 1-4 1 0 1-1 1 3 1 0 1-5 1-1 1 0 1-8 1 0 1 6 1 2 1 0 1-1 1 1 1-3 1 1 1 3 1 0 1-1 1 3 1-2 1-5 1-6 1-3 1 7 1 2 1-6" stroke="#009aff"/>
<path d="M1 0l1-22 1-9 1 4 1-9 1 5 1-4 1 7 1-8 1 8 1-9 1-5 1 0 1 1 1 1 1 1 1 10 1-9 1-1 1 2 1 2 1-1 1-1 1-5 1-4 1-4 1 5 1 1 1-3 1 2 1-5 1 7 1 0 1-1 1 3 1 2 1-1 1 2 1-8" stroke="#1200ff"/>
<path d="M1 0l1-12 1 0 1-2 1 0 1 3 1 0 1 1 1-4 1-1 1 6 1 1 1 1 1 2 1-7 1 2 1 4 1 0 1 1 1 1 1 0 1 3 1 1 1-1 1 2 1-4 1 1 1 2 1-3 1 1 1 0 1-2 1-1 1-1 1-5 1 1 1 2 1 0 1 1" stroke="#2500ff"/>
<path d="M1 0l1-12 1-3 1 5 1 0 1-1 1 3 1-2 1 2 1 5 1 1 1 0 1 1 1-1 1 1 1-2 1-2 1-7 1-2 1-2 1 2 1-2 1 1 1 0 1 1 1-2 1 0 1 4 1-1 1-3 1 1 1 6 1-1 1 3 1-1 1-11 1 3 1 2 1-4" stroke="#6d00ff"/>
<path d="M1 0l1-5 1-2 1 1 1 2 1 6 1 2 1-2 1-2 1 1 1 4 1-5 1 4 1 0 1-3 1-6 1 1 1 1 1-6 1-1 1-4 1-2 1 5 1 0 1 1 1 10 1-3 1 2 1 1 1 1 1-1 1 2 1-6 1-9 1 2 1 0 1 0 1 9 1-1" stroke="#1f00ff"/>
<path d="M1 0l1 0 1 2 1-1 1-2 1 2 1 4 1-1 1-3 1 4 1 3 1 1 1-5 1-3 1 10 1-1 1-2 1 0 1-5 1 4 1 3 1 1 1 2 1-1 1-5 1 1 1-3 1 1 1-1 1 2 1-4 1 0 1-2 1-1 1-2 1-1 1 1 1 1 1-3" stroke="#0028ff"/>
<path d="M1 0l1 17 1 5 1 2 1-1 1-1 1 1 1-1 1-3 1-2 1-1 1 1 1 2 1 4 1 0 1 7 1-3 1-2 1 4 1 0 1-1 1-1 1-2 1-1 1-2 1 5 1 5 1-2 1-6 1-1 1-3 1 2 1 3 1-3 1-3 1 2 1-1 1 4 1 4" stroke="#0021ff"/>
<path d="M1 0l1 8 1 1 1 1 1 5 1-6 1 0 1-3 1 4 1-2 1 7 1 2 1-3 1 9 1 9 1-2 1 1 1-9 1 1 1-8 1 6 1-4 1-4 1 3 1 4 1-3 1-3 1 7 1-2 1 3 1-1 1 2 1 0 1-6 1 1 1 1 1 2 1-2 1 9" stroke="#0500ff"/>
<path d="M1 0l1 0 1-1 1 2 1-5 1 1 1-2 1 1 1 7 1-2 1 20 1 1 1 10 1-4 1 3 1-2 1 0 1 0 1 0 1-2 1 2 1 1 1 2 1 2 1 0 1-2 1-6 1-6 1-4 1-4 1 2 1-2 1 5 1 1 1-5 1 0 1-2 1 4 1-2" stroke="#9a00ff"/>
<path d="M1 0l1 6 1-4 1-3 1 0 1-2 1-1 1 0 1 3 1-1 1 1 1 0 1 1 1-2 1 1 1-1 1-1 1 1 1 1 1 0 1 0 1-1 1-1 1 1 1-3 1 2 1-1 1 0 1 0 1 3 1-2 1-1 1-4 1-2 1-2 1 1 1-2 1 2 1 3" stroke="#d000ff"/>
<path d="M1 0l1-3 1 3 1-1 1 1 1-3 1-2 1 0 1 1 1 0 1 6 1 1 1-3 1 1 1-6 1 4 1 0 1-3 1 6 1-4 1 3 1 0 1-3 1-1 1 0 1-1 1-2 1 1 1 1 1-4 1-7 1 6 1 4 1 0 1 0 1-1 1-5 1 1 1-2" stroke="#3e00ff"/>
<path d="M1 0l1-1 1 0 1 0 1 0 1 0 1 3 1 1 1 0 1 2 1-2 1 2 1 1 1 0 1 2 1 3 1 5 1 1 1 1 1 1 1-2 1-1 1 4 1 0 1-2 1 1 1-1 1-3 1 2 1 0 1-2 1 3 1-2 1-1 1 0 1 1 1-5 1 2 1 3" stroke="#9100ff"/>
<path d="M1 0l1 13 1-9 1 3 1 1 1 0 1 1 1 1 1-3 1 0 1-4 1 1 1 8 1 0 1-4 1 1 1 1 1-3 1-3 1 6 1 14 1-12 1 1 1-5 1 5 1-2 1 4 1 3 1 1 1-10 1 2 1 3 1 1 1 5 1 0 1 1 1-2 1 0 1 2" stroke="#000eff"/>
<path d="M1 0l1-1 1 3 1 0 1 2 1 0 1-2 1-1 1 2 1 4 1-2 1-4 1-1 1-3 1-1 1-2 1-2 1-1 1-4 1 3 1 0 1 0 1-2 1 1 1 0 1 1 1 2 1-2 1 1 1 0 1 2 1 0 1 0 1 0 1 0 1-2 1-3 1-2 1-2" stroke="#4b00ff"/>
<path d="M1 0l1-4 1 0 1-2 1 6 1-4 1-1 1 0 1-3 1-1 1-4 1 5 1 7 1 0 1 0 1-3 1 4 1 3 1-1 1-3 1 3 1-1 1-1 1-3 1 0 1-4 1 7 1 4 1-2 1 2 1 2 1 3 1-1 1 0 1-1 1-6 1-1 1-4 1 1" stroke="#5b00ff"/>
<path d="M1 0l1-22 1 5 1-1 1 1 1 5 1 1 1-6 1-4 1 4 1-14 1 6 1 2 1 4 1-5 1-4 1-7 1-7 1-2 1 2 1-2 1-6 1 11 1-10 1 0 1-3 1 7 1-5 1 5 1-2 1-1 1 0 1-11 1-5 1 9 1-3 1 5 1-3 1-1" stroke="#4500ff"/>
<path d="M1 0l1-8 1 0 1 1 1 3 1-7 1 1 1 1 1 3 1-6 1 8 1-2 1 3 1-2 1 2 1-7 1-1 1 3 1 7 1 10 1 0 1-1 1 1 1 4 1-2 1-7 1-3 1-4 1-3 1-4 1 0 1-6 1-2 1 1 1-5 1-1 1 0 1 8 1 1" stroke="#0b00ff"/>
<path d="M1 0l1 4 1 0 1 0 1 0 1 0 1-1 1 0 1 0 1-2 1 1 1 0 1 2 1-1 1-1 1-2 1 5 1 0 1 1 1 1 1-1 1 0 1-2 1 2 1 0 1 2 1-4 1-1 1-1 1 1 1 2 1 5 1-1 1 1 1-1 1 0 1 1 1 1 1 0" stroke="#8800ff"/>
<path d="M1 0l1 2 1 5 1 8 1-5 1 11 1-1 1 13 1 2 1 6 1 6 1 0 1 5 1 6 1 4 1 0 1-7 1-2 1 0 1 0 1 0 1-7 1-8 1-2 1 1 1 5 1 3 1-2 1-1 1-2 1-4 1 4 1-2 1-4 1 2 1-5 1 2 1 1 1 7" stroke="#1400ff"/>
<path d="M1 0l1 6 1 0 1-2 1-2 1-1 1 3 1 1 1-1 1-1 1 3 1-1 1-3 1-1 1 0 1 2 1 1 1 0 1 0 1 0 1 0 1 1 1-1 1 0 1 0 1 1 1 0 1-1 1 0 1-1 1 1 1 0 1 3 1-2 1 3 1 2 1 1 1 0 1-1" stroke="#be00ff"/>
<path d="M1 0l1-6 1 0 1 2 1 3 1 3 1-2 1-1 1 1 1-1 1 1 1-1 1 0 1 1 1 0 1 2 1 1 1 0 1 0 1 2 1 1 1-2 1 1 1 2 1 0 1-1 1-2 1-1 1 2 1-5 1 2 1 1 1 1 1-1 1-3 1 0 1 2 1 4 1 0" stroke="#2b00ff"/>
<path d="M1 0l1 4 1 9 1-2 1-1 1-2 1-6 1 10 1 1 1 4 1-4 1 6 1-3 1 6 1 0 1-1 1 2 1-1 1-1 1 2 1-1 1-6 1 3 1 0 1 6 1 2 1 0 1-4 1 4 1 4 1-11 1 0 1-13 1-3 1 0 1 6 1 2 1-4 1 1" stroke="#ac00ff"/>
<path d="M1 0l1-8 1 2 1-6 1-1 1-2 1 4 1-2 1-2 1 1 1-3 1 5 1 2 1 2 1-1 1-2 1-1 1 0 1 5 1 1 1 0 1-2 1-2 1-1 1-1 1-8 1-2 1-1 1 0 1 1 1 3 1-3 1-3 1 2 1-5 1 5 1 0 1 1 1 1" stroke="#5200ff"/>
<path d="M1 0l1 3 1 0 1-1 1 1 1-1 1-1 1 2 1 1 1 1 1 0 1 0 1 2 1 1 1 3 1 1 1-3 1-2 1 3 1-3 1-2 1 2 1-3 1 0 1 0 1-2 1 1 1 4 1-4 1 0 1 0 1 2 1-1 1 2 1-2 1-2 1 0 1 0 1 1" stroke="#b500ff"/>
<path d="M1 0l1 0 1 1 1 3 1 1 1-1 1-2 1 5 1-3 1-2 1-2 1 0 1-3 1 0 1 7 1-4 1-1 1 4 1-2 1 3 1-1 1 2 1 3 1-6 1-4 1 0 1-2 1 1 1 0 1 0 1-2 1-3 1 4 1-24 1 6 1 0 1-3 1-5 1 1" stroke="#a300ff"/>
<path d="M1 0l1 1 1 0 1-1 1-1 1 3 1 3 1 1 1-1 1-2 1 3 1-2 1 2 1-2 1 0 1-1 1 1 1-7 1-1 1 1 1 0 1 0 1 0 1-2 1-3 1 2 1 0 1-2 1 0 1 0 1 0 1-1 1-3 1 0 1-4 1 1 1 0 1 2 1 2" stroke="#d900ff"/>
<path d="M1 0l1 3 1 0 1 2 1-6 1 1 1-3 1-2 1-3 1 5 1 0 1 3 1 8 1 0 1 1 1 1 1 5 1-1 1-2 1 1 1 1 1-3 1-4 1 5 1 0 1 1 1 4 1 4 1-1 1-2 1 0 1-2 1 2 1 2 1-4 1 7 1-2 1-2 1-2" stroke="#7600ff"/>
<path d="M1 0l1 2 1 1 1 1 1 1 1 1 1 6 1-1 1 0 1-2 1 0 1-1 1 1 1 2 1 0 1-2 1-2 1-1 1 2 1-2 1 1 1 4 1 2 1-2 1-1 1 2 1 9 1-5 1-4 1 2 1 2 1 2 1-3 1 2 1-1 1-1 1 2 1 8 1 2" stroke="#0014ff"/>
<path d="M1 0l1-7 1-1 1 0 1 2 1 1 1 2 1 1 1 1 1 0 1 1 1-3 1 1 1-6 1-1 1 1 1 0 1-5 1 1 1-1 1-1 1 2 1 2 1-1 1 0 1 0 1-2 1 1 1 2 1-1 1-5 1 1 1-1 1 1 1 0 1 0 1 0 1 0 1-2" stroke="#7f00ff"/>
<path d="M1 0l1 6 1 1 1 0 1-2 1 0 1 2 1-3 1 1 1 0 1 2 1-2 1-1 1 2 1-1 1 0 1 0 1 0 1-2 1-2 1-1 1-1 1-1 1 1 1 1 1 2 1 0 1 3 1-1 1 2 1 1 1 2 1-2 1 2 1 1 1-1 1 2 1 0 1 0" stroke="#c700ff"/>
<path d="M1 0l1 8 1-2 1 0 1 1 1-3 1 1 1-1 1 1 1-1 1 0 1 3 1-1 1 0 1 0 1-3 1 2 1 0 1 2 1-1 1 1 1 3 1 3 1 0 1 1 1-5 1-3 1-4 1 2 1 1 1-1 1-1 1 0 1-3 1 2 1 0 1 2 1-1 1 4" stroke="#e200ff"/>
</g>
<rect x="325.9" y="260.4" width="218.6" height="170.0" fill="none" stroke="#555" stroke-width="1.3"/>
<line x1="328.7" y1="430.4" x2="328.7" y2="433.6" stroke="#333" stroke-width="1"/>
<text x="328.7" y="442.0" class="tk" text-anchor="middle">0</text>
<line x1="381.9" y1="430.4" x2="381.9" y2="433.6" stroke="#333" stroke-width="1"/>
<text x="381.9" y="442.0" class="tk" text-anchor="middle">10</text>
<line x1="435.2" y1="430.4" x2="435.2" y2="433.6" stroke="#333" stroke-width="1"/>
<text x="435.2" y="442.0" class="tk" text-anchor="middle">20</text>
<line x1="488.5" y1="430.4" x2="488.5" y2="433.6" stroke="#333" stroke-width="1"/>
<text x="488.5" y="442.0" class="tk" text-anchor="middle">30</text>
<line x1="541.8" y1="430.4" x2="541.8" y2="433.6" stroke="#333" stroke-width="1"/>
<text x="541.8" y="442.0" class="tk" text-anchor="middle">40</text>
<line x1="322.7" y1="404.5" x2="325.9" y2="404.5" stroke="#333" stroke-width="1"/>
<text x="319.6" y="404.5" class="tk" text-anchor="middle" transform="rotate(-90 319.6 404.5)">−4</text>
<line x1="322.7" y1="371.7" x2="325.9" y2="371.7" stroke="#333" stroke-width="1"/>
<text x="319.6" y="371.7" class="tk" text-anchor="middle" transform="rotate(-90 319.6 371.7)">−2</text>
<line x1="322.7" y1="338.9" x2="325.9" y2="338.9" stroke="#333" stroke-width="1"/>
<text x="319.6" y="338.9" class="tk" text-anchor="middle" transform="rotate(-90 319.6 338.9)">0</text>
<line x1="322.7" y1="306.0" x2="325.9" y2="306.0" stroke="#333" stroke-width="1"/>
<text x="319.6" y="306.0" class="tk" text-anchor="middle" transform="rotate(-90 319.6 306.0)">2</text>
<line x1="322.7" y1="273.2" x2="325.9" y2="273.2" stroke="#333" stroke-width="1"/>
<text x="319.6" y="273.2" class="tk" text-anchor="middle" transform="rotate(-90 319.6 273.2)">4</text>
<text x="435.2" y="458.7" class="ttl" text-anchor="middle">Ten−minute interval</text>
<text x="304.3" y="345.4" class="ttl" text-anchor="middle" transform="rotate(-90 304.3 345.4)">Intradaily cumulative return</text>
<text x="400.1" y="477.9" class="cap" textLength="50.0" lengthAdjust="spacing">(<tspan font-weight="bold">d</tspan>) MSFT</text>
</svg>
</body></html>
